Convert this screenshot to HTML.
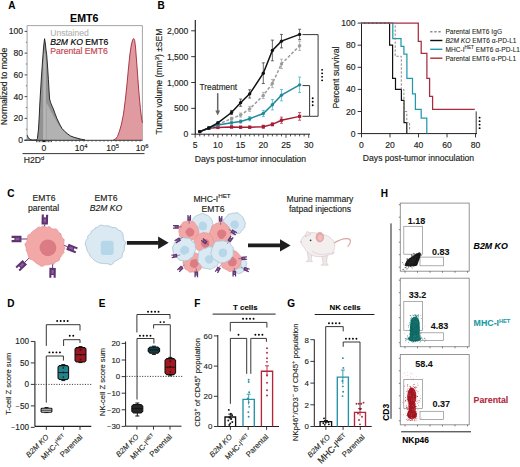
<!DOCTYPE html>
<html><head><meta charset="utf-8"><style>
html,body{margin:0;padding:0;background:#fff;}
svg{display:block;}
text{font-family:"Liberation Sans",sans-serif;}
</style></head><body>
<svg width="520" height="467" viewBox="0 0 520 467">
<rect width="520" height="467" fill="#fff"/>
<text x="8.20" y="9.00" font-size="10" text-anchor="start" fill="#000" stroke="#000" stroke-width="0.08" font-weight="bold" font-style="normal">A</text>
<text x="157.60" y="9.00" font-size="10" text-anchor="start" fill="#000" stroke="#000" stroke-width="0.08" font-weight="bold" font-style="normal">B</text>
<text x="7.30" y="197.00" font-size="10" text-anchor="start" fill="#000" stroke="#000" stroke-width="0.08" font-weight="bold" font-style="normal">C</text>
<text x="7.20" y="306.60" font-size="10" text-anchor="start" fill="#000" stroke="#000" stroke-width="0.08" font-weight="bold" font-style="normal">D</text>
<text x="98.80" y="306.60" font-size="10" text-anchor="start" fill="#000" stroke="#000" stroke-width="0.08" font-weight="bold" font-style="normal">E</text>
<text x="194.30" y="306.60" font-size="10" text-anchor="start" fill="#000" stroke="#000" stroke-width="0.08" font-weight="bold" font-style="normal">F</text>
<text x="287.30" y="307.30" font-size="10" text-anchor="start" fill="#000" stroke="#000" stroke-width="0.08" font-weight="bold" font-style="normal">G</text>
<text x="380.80" y="197.20" font-size="10" text-anchor="start" fill="#000" stroke="#000" stroke-width="0.08" font-weight="bold" font-style="normal">H</text>
<text x="84.20" y="22.30" font-size="10.6" text-anchor="middle" fill="#000" stroke="#000" stroke-width="0.08" font-weight="bold" font-style="normal">EMT6</text>
<polyline points="27.10,140.30 27.10,25.60 142.40,25.60 142.40,140.30" stroke="#9a9a9a" stroke-width="0.9" fill="none"/>
<line x1="24.60" y1="140.10" x2="27.10" y2="140.10" stroke="#231f20" stroke-width="0.8"/>
<text x="23.00" y="143.10" font-size="8.6" text-anchor="end" fill="#231f20" stroke="#231f20" stroke-width="0.152" font-weight="normal" font-style="normal">0</text>
<line x1="24.60" y1="118.36" x2="27.10" y2="118.36" stroke="#231f20" stroke-width="0.8"/>
<text x="23.00" y="121.36" font-size="8.6" text-anchor="end" fill="#231f20" stroke="#231f20" stroke-width="0.152" font-weight="normal" font-style="normal">20</text>
<line x1="24.60" y1="96.62" x2="27.10" y2="96.62" stroke="#231f20" stroke-width="0.8"/>
<text x="23.00" y="99.62" font-size="8.6" text-anchor="end" fill="#231f20" stroke="#231f20" stroke-width="0.152" font-weight="normal" font-style="normal">40</text>
<line x1="24.60" y1="74.88" x2="27.10" y2="74.88" stroke="#231f20" stroke-width="0.8"/>
<text x="23.00" y="77.88" font-size="8.6" text-anchor="end" fill="#231f20" stroke="#231f20" stroke-width="0.152" font-weight="normal" font-style="normal">60</text>
<line x1="24.60" y1="53.14" x2="27.10" y2="53.14" stroke="#231f20" stroke-width="0.8"/>
<text x="23.00" y="56.14" font-size="8.6" text-anchor="end" fill="#231f20" stroke="#231f20" stroke-width="0.152" font-weight="normal" font-style="normal">80</text>
<line x1="24.60" y1="31.40" x2="27.10" y2="31.40" stroke="#231f20" stroke-width="0.8"/>
<text x="23.00" y="34.40" font-size="8.6" text-anchor="end" fill="#231f20" stroke="#231f20" stroke-width="0.152" font-weight="normal" font-style="normal">100</text>
<line x1="25.80" y1="129.23" x2="27.10" y2="129.23" stroke="#231f20" stroke-width="0.5"/>
<line x1="25.80" y1="107.49" x2="27.10" y2="107.49" stroke="#231f20" stroke-width="0.5"/>
<line x1="25.80" y1="85.75" x2="27.10" y2="85.75" stroke="#231f20" stroke-width="0.5"/>
<line x1="25.80" y1="64.01" x2="27.10" y2="64.01" stroke="#231f20" stroke-width="0.5"/>
<line x1="25.80" y1="42.27" x2="27.10" y2="42.27" stroke="#231f20" stroke-width="0.5"/>
<text x="7.40" y="86.40" font-size="8.2" text-anchor="middle" fill="#231f20" stroke="#231f20" stroke-width="0.13679999999999998" font-weight="normal" font-style="normal" transform="rotate(-90 7.4 86.4)" textLength="77.5" lengthAdjust="spacingAndGlyphs">Normalized to mode</text>
<path d="M27.10,140.30 L27.10,135.20 L28.30,137.60 L29.80,139.30 L32.00,140.00 L36.50,139.90 L37.40,138.60 L38.50,129.00 L39.30,115.00 L39.80,104.00 L40.50,92.00 L41.30,79.00 L42.20,66.00 L43.00,54.60 L43.80,45.00 L44.60,38.70 L45.40,44.00 L46.00,50.00 L46.70,54.60 L47.60,67.00 L48.40,79.30 L49.00,90.00 L49.60,99.00 L50.60,102.50 L52.00,106.00 L53.30,108.80 L55.00,113.50 L57.00,118.70 L59.50,124.00 L62.00,128.50 L64.50,131.20 L67.50,133.80 L70.60,136.00 L74.00,137.30 L78.00,138.40 L81.50,139.30 L85.00,139.90 L85.00,140.30 Z" fill="#939393" stroke="none"/>
<path d="M46.40,140.30 L46.40,140.20 L46.40,103.00 L47.50,104.50 L49.00,107.50 L51.00,111.50 L53.50,116.00 L56.00,120.50 L58.50,124.50 L61.50,128.80 L65.00,132.40 L69.00,135.30 L73.00,137.40 L77.00,139.00 L80.00,140.20 L80.00,140.30 Z" fill="#b2b2b2" stroke="none"/>
<path d="M43.2,140.2 L43.4,62 L44.6,50 L45.8,60 L45.8,140.2 Z" fill="#c2c2c2" opacity="0.8"/>
<polyline points="27.10,135.20 28.30,137.60 29.80,139.30 32.00,140.00 36.50,139.90 37.40,138.60 38.50,129.00 39.30,115.00 39.80,104.00 40.50,92.00 41.30,79.00 42.20,66.00 43.00,54.60 43.80,45.00 44.60,38.70 45.40,44.00 46.00,50.00 46.70,54.60 47.60,67.00 48.40,79.30 49.00,90.00 49.60,99.00 50.60,102.50 52.00,106.00 53.30,108.80 55.00,113.50 57.00,118.70 59.50,124.00 62.00,128.50 64.50,131.20 67.50,133.80 70.60,136.00 74.00,137.30 78.00,138.40 81.50,139.30 85.00,139.90" stroke="#1a1a1a" stroke-width="0.9" fill="none"/>
<path d="M113.20,140.30 L113.20,140.20 L115.50,139.00 L117.50,136.50 L119.50,131.00 L121.50,124.00 L123.50,114.00 L125.30,100.00 L126.80,86.00 L128.30,70.00 L129.80,55.00 L131.30,45.00 L132.60,40.00 L133.70,38.50 L134.70,40.50 L135.60,48.00 L136.50,60.00 L137.40,72.00 L138.40,86.00 L139.40,98.00 L140.40,108.50 L141.40,117.00 L142.40,123.00 L142.40,140.30 Z" fill="#e09ba0" stroke="none"/>
<polyline points="113.20,140.20 115.50,139.00 117.50,136.50 119.50,131.00 121.50,124.00 123.50,114.00 125.30,100.00 126.80,86.00 128.30,70.00 129.80,55.00 131.30,45.00 132.60,40.00 133.70,38.50 134.70,40.50 135.60,48.00 136.50,60.00 137.40,72.00 138.40,86.00 139.40,98.00 140.40,108.50 141.40,117.00 142.40,123.00" stroke="#a3283a" stroke-width="0.9" fill="none"/>
<line x1="24.20" y1="140.30" x2="142.40" y2="140.30" stroke="#231f20" stroke-width="0.9"/>
<line x1="36.50" y1="140.30" x2="36.50" y2="142.20" stroke="#231f20" stroke-width="0.7"/>
<line x1="38.00" y1="140.30" x2="38.00" y2="142.20" stroke="#231f20" stroke-width="0.7"/>
<line x1="39.50" y1="140.30" x2="39.50" y2="142.20" stroke="#231f20" stroke-width="0.7"/>
<line x1="41.00" y1="140.30" x2="41.00" y2="142.20" stroke="#231f20" stroke-width="0.7"/>
<line x1="42.50" y1="140.30" x2="42.50" y2="142.20" stroke="#231f20" stroke-width="0.7"/>
<line x1="45.50" y1="140.30" x2="45.50" y2="142.20" stroke="#231f20" stroke-width="0.7"/>
<line x1="47.00" y1="140.30" x2="47.00" y2="142.20" stroke="#231f20" stroke-width="0.7"/>
<line x1="48.50" y1="140.30" x2="48.50" y2="142.20" stroke="#231f20" stroke-width="0.7"/>
<line x1="50.00" y1="140.30" x2="50.00" y2="142.20" stroke="#231f20" stroke-width="0.7"/>
<line x1="51.50" y1="140.30" x2="51.50" y2="142.20" stroke="#231f20" stroke-width="0.7"/>
<line x1="56.00" y1="140.30" x2="56.00" y2="141.80" stroke="#231f20" stroke-width="0.5"/>
<line x1="60.00" y1="140.30" x2="60.00" y2="141.80" stroke="#231f20" stroke-width="0.5"/>
<line x1="64.00" y1="140.30" x2="64.00" y2="141.80" stroke="#231f20" stroke-width="0.5"/>
<line x1="68.00" y1="140.30" x2="68.00" y2="141.80" stroke="#231f20" stroke-width="0.5"/>
<line x1="72.00" y1="140.30" x2="72.00" y2="141.80" stroke="#231f20" stroke-width="0.5"/>
<line x1="76.00" y1="140.30" x2="76.00" y2="141.80" stroke="#231f20" stroke-width="0.5"/>
<line x1="79.50" y1="140.30" x2="79.50" y2="141.80" stroke="#231f20" stroke-width="0.5"/>
<line x1="84.00" y1="140.30" x2="84.00" y2="141.80" stroke="#231f20" stroke-width="0.5"/>
<line x1="88.00" y1="140.30" x2="88.00" y2="141.80" stroke="#231f20" stroke-width="0.5"/>
<line x1="92.00" y1="140.30" x2="92.00" y2="141.80" stroke="#231f20" stroke-width="0.5"/>
<line x1="96.00" y1="140.30" x2="96.00" y2="141.80" stroke="#231f20" stroke-width="0.5"/>
<line x1="100.00" y1="140.30" x2="100.00" y2="141.80" stroke="#231f20" stroke-width="0.5"/>
<line x1="104.00" y1="140.30" x2="104.00" y2="141.80" stroke="#231f20" stroke-width="0.5"/>
<line x1="108.00" y1="140.30" x2="108.00" y2="141.80" stroke="#231f20" stroke-width="0.5"/>
<line x1="111.50" y1="140.30" x2="111.50" y2="141.80" stroke="#231f20" stroke-width="0.5"/>
<line x1="116.00" y1="140.30" x2="116.00" y2="141.80" stroke="#231f20" stroke-width="0.5"/>
<line x1="120.00" y1="140.30" x2="120.00" y2="141.80" stroke="#231f20" stroke-width="0.5"/>
<line x1="124.00" y1="140.30" x2="124.00" y2="141.80" stroke="#231f20" stroke-width="0.5"/>
<line x1="128.00" y1="140.30" x2="128.00" y2="141.80" stroke="#231f20" stroke-width="0.5"/>
<line x1="132.00" y1="140.30" x2="132.00" y2="141.80" stroke="#231f20" stroke-width="0.5"/>
<line x1="136.00" y1="140.30" x2="136.00" y2="141.80" stroke="#231f20" stroke-width="0.5"/>
<line x1="140.00" y1="140.30" x2="140.00" y2="141.80" stroke="#231f20" stroke-width="0.5"/>
<circle cx="44.00" cy="141.30" r="1.00" fill="#000" stroke="none" stroke-width="0.5"/>
<text x="44.00" y="151.30" font-size="8.6" text-anchor="middle" fill="#231f20" stroke="#231f20" stroke-width="0.152" font-weight="normal" font-style="normal">0</text>
<text x="74.80" y="151.30" font-size="8.6" text-anchor="start" fill="#231f20" stroke="#231f20" stroke-width="0.152" font-weight="normal" font-style="normal">10<tspan font-size="5.8" dy="-3.3">4</tspan></text>
<text x="106.30" y="151.30" font-size="8.6" text-anchor="start" fill="#231f20" stroke="#231f20" stroke-width="0.152" font-weight="normal" font-style="normal">10<tspan font-size="5.8" dy="-3.3">5</tspan></text>
<text x="135.70" y="151.30" font-size="8.6" text-anchor="start" fill="#231f20" stroke="#231f20" stroke-width="0.152" font-weight="normal" font-style="normal">10<tspan font-size="5.8" dy="-3.3">6</tspan></text>
<line x1="22.50" y1="153.60" x2="144.50" y2="153.60" stroke="#231f20" stroke-width="0.9"/>
<text x="23.80" y="163.20" font-size="8.6" text-anchor="start" fill="#231f20" stroke="#231f20" stroke-width="0.152" font-weight="normal" font-style="normal">H2D<tspan font-size="5.7" dy="-3.2">d</tspan></text>
<text x="50.20" y="36.10" font-size="8.4" text-anchor="start" fill="#b5b5b5" stroke="#b5b5b5" stroke-width="0.14440000000000003" font-weight="normal" font-style="normal" textLength="38.6" lengthAdjust="spacingAndGlyphs">Unstained</text>
<text x="50.20" y="45.10" font-size="8.4" text-anchor="start" fill="#000" stroke="#000" stroke-width="0.14440000000000003" font-weight="normal" font-style="normal" textLength="58.2" lengthAdjust="spacingAndGlyphs"><tspan font-style="italic">B2M KO</tspan> EMT6</text>
<text x="50.20" y="53.60" font-size="8.4" text-anchor="start" fill="#c4424f" stroke="#c4424f" stroke-width="0.14440000000000003" font-weight="normal" font-style="normal" textLength="57.6" lengthAdjust="spacingAndGlyphs">Parental EMT6</text>
<line x1="195.30" y1="20.10" x2="195.30" y2="134.20" stroke="#231f20" stroke-width="1.15"/>
<line x1="195.20" y1="134.20" x2="310.00" y2="134.20" stroke="#231f20" stroke-width="1.0"/>
<line x1="191.20" y1="134.20" x2="195.20" y2="134.20" stroke="#231f20" stroke-width="0.9"/>
<text x="188.40" y="137.20" font-size="8.6" text-anchor="end" fill="#231f20" stroke="#231f20" stroke-width="0.152" font-weight="normal" font-style="normal">0</text>
<line x1="191.20" y1="108.35" x2="195.20" y2="108.35" stroke="#231f20" stroke-width="0.9"/>
<text x="188.40" y="111.35" font-size="8.6" text-anchor="end" fill="#231f20" stroke="#231f20" stroke-width="0.152" font-weight="normal" font-style="normal">500</text>
<line x1="191.20" y1="82.50" x2="195.20" y2="82.50" stroke="#231f20" stroke-width="0.9"/>
<text x="188.40" y="85.50" font-size="8.6" text-anchor="end" fill="#231f20" stroke="#231f20" stroke-width="0.152" font-weight="normal" font-style="normal">1,000</text>
<line x1="191.20" y1="56.65" x2="195.20" y2="56.65" stroke="#231f20" stroke-width="0.9"/>
<text x="188.40" y="59.65" font-size="8.6" text-anchor="end" fill="#231f20" stroke="#231f20" stroke-width="0.152" font-weight="normal" font-style="normal">1,500</text>
<line x1="191.20" y1="30.80" x2="195.20" y2="30.80" stroke="#231f20" stroke-width="0.9"/>
<text x="188.40" y="33.80" font-size="8.6" text-anchor="end" fill="#231f20" stroke="#231f20" stroke-width="0.152" font-weight="normal" font-style="normal">2,000</text>
<line x1="195.20" y1="134.20" x2="195.20" y2="137.80" stroke="#231f20" stroke-width="0.8"/>
<text x="195.20" y="148.00" font-size="8.6" text-anchor="middle" fill="#231f20" stroke="#231f20" stroke-width="0.152" font-weight="normal" font-style="normal">5</text>
<line x1="199.74" y1="134.20" x2="199.74" y2="136.40" stroke="#231f20" stroke-width="0.8"/>
<line x1="204.28" y1="134.20" x2="204.28" y2="136.40" stroke="#231f20" stroke-width="0.8"/>
<line x1="208.82" y1="134.20" x2="208.82" y2="136.40" stroke="#231f20" stroke-width="0.8"/>
<line x1="213.36" y1="134.20" x2="213.36" y2="136.40" stroke="#231f20" stroke-width="0.8"/>
<line x1="217.90" y1="134.20" x2="217.90" y2="137.80" stroke="#231f20" stroke-width="0.8"/>
<text x="217.90" y="148.00" font-size="8.6" text-anchor="middle" fill="#231f20" stroke="#231f20" stroke-width="0.152" font-weight="normal" font-style="normal">10</text>
<line x1="222.44" y1="134.20" x2="222.44" y2="136.40" stroke="#231f20" stroke-width="0.8"/>
<line x1="226.98" y1="134.20" x2="226.98" y2="136.40" stroke="#231f20" stroke-width="0.8"/>
<line x1="231.52" y1="134.20" x2="231.52" y2="136.40" stroke="#231f20" stroke-width="0.8"/>
<line x1="236.06" y1="134.20" x2="236.06" y2="136.40" stroke="#231f20" stroke-width="0.8"/>
<line x1="240.60" y1="134.20" x2="240.60" y2="137.80" stroke="#231f20" stroke-width="0.8"/>
<text x="240.60" y="148.00" font-size="8.6" text-anchor="middle" fill="#231f20" stroke="#231f20" stroke-width="0.152" font-weight="normal" font-style="normal">15</text>
<line x1="245.14" y1="134.20" x2="245.14" y2="136.40" stroke="#231f20" stroke-width="0.8"/>
<line x1="249.68" y1="134.20" x2="249.68" y2="136.40" stroke="#231f20" stroke-width="0.8"/>
<line x1="254.22" y1="134.20" x2="254.22" y2="136.40" stroke="#231f20" stroke-width="0.8"/>
<line x1="258.76" y1="134.20" x2="258.76" y2="136.40" stroke="#231f20" stroke-width="0.8"/>
<line x1="263.30" y1="134.20" x2="263.30" y2="137.80" stroke="#231f20" stroke-width="0.8"/>
<text x="263.30" y="148.00" font-size="8.6" text-anchor="middle" fill="#231f20" stroke="#231f20" stroke-width="0.152" font-weight="normal" font-style="normal">20</text>
<line x1="267.84" y1="134.20" x2="267.84" y2="136.40" stroke="#231f20" stroke-width="0.8"/>
<line x1="272.38" y1="134.20" x2="272.38" y2="136.40" stroke="#231f20" stroke-width="0.8"/>
<line x1="276.92" y1="134.20" x2="276.92" y2="136.40" stroke="#231f20" stroke-width="0.8"/>
<line x1="281.46" y1="134.20" x2="281.46" y2="136.40" stroke="#231f20" stroke-width="0.8"/>
<line x1="286.00" y1="134.20" x2="286.00" y2="137.80" stroke="#231f20" stroke-width="0.8"/>
<text x="286.00" y="148.00" font-size="8.6" text-anchor="middle" fill="#231f20" stroke="#231f20" stroke-width="0.152" font-weight="normal" font-style="normal">25</text>
<line x1="290.54" y1="134.20" x2="290.54" y2="136.40" stroke="#231f20" stroke-width="0.8"/>
<line x1="295.08" y1="134.20" x2="295.08" y2="136.40" stroke="#231f20" stroke-width="0.8"/>
<line x1="299.62" y1="134.20" x2="299.62" y2="136.40" stroke="#231f20" stroke-width="0.8"/>
<line x1="304.16" y1="134.20" x2="304.16" y2="136.40" stroke="#231f20" stroke-width="0.8"/>
<line x1="308.70" y1="134.20" x2="308.70" y2="137.80" stroke="#231f20" stroke-width="0.8"/>
<text x="308.70" y="148.00" font-size="8.6" text-anchor="middle" fill="#231f20" stroke="#231f20" stroke-width="0.152" font-weight="normal" font-style="normal">30</text>
<text x="250.50" y="161.60" font-size="8.6" text-anchor="middle" fill="#231f20" stroke="#231f20" stroke-width="0.152" font-weight="normal" font-style="normal">Days post-tumor innoculation</text>
<text x="162.00" y="81.50" font-size="8.6" text-anchor="middle" fill="#231f20" stroke="#231f20" stroke-width="0.152" font-weight="normal" font-style="normal" transform="rotate(-90 162.0 81.5) translate(162.0 81.5) scale(1.0 1) translate(-162.0 -81.5)">Tumor volume (mm<tspan font-size="5.8" dy="-3.2">3</tspan><tspan dy="3.2">) ±SEM</tspan></text>
<text x="199.60" y="89.90" font-size="8.3" text-anchor="start" fill="#231f20" stroke="#231f20" stroke-width="0.14060000000000003" font-weight="normal" font-style="normal">Treatment</text>
<line x1="217.70" y1="93.20" x2="217.70" y2="112.00" stroke="#666" stroke-width="1.5"/>
<path d="M215.3,110.6 L220.1,110.6 L217.7,115.4 Z" fill="#666"/>
<line x1="199.74" y1="131.10" x2="199.74" y2="132.13" stroke="#a8a8a8" stroke-width="0.8"/>
<line x1="198.24" y1="131.10" x2="201.24" y2="131.10" stroke="#a8a8a8" stroke-width="0.8"/>
<line x1="198.24" y1="132.13" x2="201.24" y2="132.13" stroke="#a8a8a8" stroke-width="0.8"/>
<line x1="208.82" y1="127.22" x2="208.82" y2="128.77" stroke="#a8a8a8" stroke-width="0.8"/>
<line x1="207.32" y1="127.22" x2="210.32" y2="127.22" stroke="#a8a8a8" stroke-width="0.8"/>
<line x1="207.32" y1="128.77" x2="210.32" y2="128.77" stroke="#a8a8a8" stroke-width="0.8"/>
<line x1="217.90" y1="123.34" x2="217.90" y2="125.41" stroke="#a8a8a8" stroke-width="0.8"/>
<line x1="216.40" y1="123.34" x2="219.40" y2="123.34" stroke="#a8a8a8" stroke-width="0.8"/>
<line x1="216.40" y1="125.41" x2="219.40" y2="125.41" stroke="#a8a8a8" stroke-width="0.8"/>
<line x1="231.52" y1="117.14" x2="231.52" y2="120.24" stroke="#a8a8a8" stroke-width="0.8"/>
<line x1="230.02" y1="117.14" x2="233.02" y2="117.14" stroke="#a8a8a8" stroke-width="0.8"/>
<line x1="230.02" y1="120.24" x2="233.02" y2="120.24" stroke="#a8a8a8" stroke-width="0.8"/>
<line x1="240.60" y1="113.00" x2="240.60" y2="117.14" stroke="#a8a8a8" stroke-width="0.8"/>
<line x1="239.10" y1="113.00" x2="242.10" y2="113.00" stroke="#a8a8a8" stroke-width="0.8"/>
<line x1="239.10" y1="117.14" x2="242.10" y2="117.14" stroke="#a8a8a8" stroke-width="0.8"/>
<line x1="249.68" y1="106.28" x2="249.68" y2="111.45" stroke="#a8a8a8" stroke-width="0.8"/>
<line x1="248.18" y1="106.28" x2="251.18" y2="106.28" stroke="#a8a8a8" stroke-width="0.8"/>
<line x1="248.18" y1="111.45" x2="251.18" y2="111.45" stroke="#a8a8a8" stroke-width="0.8"/>
<line x1="263.30" y1="92.32" x2="263.30" y2="98.53" stroke="#a8a8a8" stroke-width="0.8"/>
<line x1="261.80" y1="92.32" x2="264.80" y2="92.32" stroke="#a8a8a8" stroke-width="0.8"/>
<line x1="261.80" y1="98.53" x2="264.80" y2="98.53" stroke="#a8a8a8" stroke-width="0.8"/>
<line x1="272.38" y1="79.40" x2="272.38" y2="87.67" stroke="#a8a8a8" stroke-width="0.8"/>
<line x1="270.88" y1="79.40" x2="273.88" y2="79.40" stroke="#a8a8a8" stroke-width="0.8"/>
<line x1="270.88" y1="87.67" x2="273.88" y2="87.67" stroke="#a8a8a8" stroke-width="0.8"/>
<line x1="281.46" y1="59.23" x2="281.46" y2="68.54" stroke="#a8a8a8" stroke-width="0.8"/>
<line x1="279.96" y1="59.23" x2="282.96" y2="59.23" stroke="#a8a8a8" stroke-width="0.8"/>
<line x1="279.96" y1="68.54" x2="282.96" y2="68.54" stroke="#a8a8a8" stroke-width="0.8"/>
<line x1="299.62" y1="41.14" x2="299.62" y2="50.45" stroke="#a8a8a8" stroke-width="0.8"/>
<line x1="298.12" y1="41.14" x2="301.12" y2="41.14" stroke="#a8a8a8" stroke-width="0.8"/>
<line x1="298.12" y1="50.45" x2="301.12" y2="50.45" stroke="#a8a8a8" stroke-width="0.8"/>
<polyline points="199.74,131.61 208.82,128.00 217.90,124.38 231.52,118.69 240.60,115.07 249.68,108.87 263.30,95.42 272.38,83.53 281.46,63.89 299.62,45.79" stroke="#9c9c9c" stroke-width="1.5" fill="none" stroke-dasharray="3,1.8"/>
<circle cx="199.74" cy="131.61" r="1.70" fill="#9c9c9c" stroke="none" stroke-width="0.5"/>
<circle cx="208.82" cy="128.00" r="1.70" fill="#9c9c9c" stroke="none" stroke-width="0.5"/>
<circle cx="217.90" cy="124.38" r="1.70" fill="#9c9c9c" stroke="none" stroke-width="0.5"/>
<circle cx="231.52" cy="118.69" r="1.70" fill="#9c9c9c" stroke="none" stroke-width="0.5"/>
<circle cx="240.60" cy="115.07" r="1.70" fill="#9c9c9c" stroke="none" stroke-width="0.5"/>
<circle cx="249.68" cy="108.87" r="1.70" fill="#9c9c9c" stroke="none" stroke-width="0.5"/>
<circle cx="263.30" cy="95.42" r="1.70" fill="#9c9c9c" stroke="none" stroke-width="0.5"/>
<circle cx="272.38" cy="83.53" r="1.70" fill="#9c9c9c" stroke="none" stroke-width="0.5"/>
<circle cx="281.46" cy="63.89" r="1.70" fill="#9c9c9c" stroke="none" stroke-width="0.5"/>
<circle cx="299.62" cy="45.79" r="1.70" fill="#9c9c9c" stroke="none" stroke-width="0.5"/>
<line x1="199.74" y1="131.10" x2="199.74" y2="132.13" stroke="#c0364d" stroke-width="0.8"/>
<line x1="198.24" y1="131.10" x2="201.24" y2="131.10" stroke="#c0364d" stroke-width="0.8"/>
<line x1="198.24" y1="132.13" x2="201.24" y2="132.13" stroke="#c0364d" stroke-width="0.8"/>
<line x1="208.82" y1="127.48" x2="208.82" y2="129.03" stroke="#c0364d" stroke-width="0.8"/>
<line x1="207.32" y1="127.48" x2="210.32" y2="127.48" stroke="#c0364d" stroke-width="0.8"/>
<line x1="207.32" y1="129.03" x2="210.32" y2="129.03" stroke="#c0364d" stroke-width="0.8"/>
<line x1="217.90" y1="126.70" x2="217.90" y2="128.25" stroke="#c0364d" stroke-width="0.8"/>
<line x1="216.40" y1="126.70" x2="219.40" y2="126.70" stroke="#c0364d" stroke-width="0.8"/>
<line x1="216.40" y1="128.25" x2="219.40" y2="128.25" stroke="#c0364d" stroke-width="0.8"/>
<line x1="231.52" y1="125.93" x2="231.52" y2="128.00" stroke="#c0364d" stroke-width="0.8"/>
<line x1="230.02" y1="125.93" x2="233.02" y2="125.93" stroke="#c0364d" stroke-width="0.8"/>
<line x1="230.02" y1="128.00" x2="233.02" y2="128.00" stroke="#c0364d" stroke-width="0.8"/>
<line x1="240.60" y1="126.19" x2="240.60" y2="128.25" stroke="#c0364d" stroke-width="0.8"/>
<line x1="239.10" y1="126.19" x2="242.10" y2="126.19" stroke="#c0364d" stroke-width="0.8"/>
<line x1="239.10" y1="128.25" x2="242.10" y2="128.25" stroke="#c0364d" stroke-width="0.8"/>
<line x1="249.68" y1="126.19" x2="249.68" y2="128.25" stroke="#c0364d" stroke-width="0.8"/>
<line x1="248.18" y1="126.19" x2="251.18" y2="126.19" stroke="#c0364d" stroke-width="0.8"/>
<line x1="248.18" y1="128.25" x2="251.18" y2="128.25" stroke="#c0364d" stroke-width="0.8"/>
<line x1="263.30" y1="125.15" x2="263.30" y2="128.25" stroke="#c0364d" stroke-width="0.8"/>
<line x1="261.80" y1="125.15" x2="264.80" y2="125.15" stroke="#c0364d" stroke-width="0.8"/>
<line x1="261.80" y1="128.25" x2="264.80" y2="128.25" stroke="#c0364d" stroke-width="0.8"/>
<line x1="272.38" y1="122.83" x2="272.38" y2="125.93" stroke="#c0364d" stroke-width="0.8"/>
<line x1="270.88" y1="122.83" x2="273.88" y2="122.83" stroke="#c0364d" stroke-width="0.8"/>
<line x1="270.88" y1="125.93" x2="273.88" y2="125.93" stroke="#c0364d" stroke-width="0.8"/>
<line x1="281.46" y1="117.14" x2="281.46" y2="123.34" stroke="#c0364d" stroke-width="0.8"/>
<line x1="279.96" y1="117.14" x2="282.96" y2="117.14" stroke="#c0364d" stroke-width="0.8"/>
<line x1="279.96" y1="123.34" x2="282.96" y2="123.34" stroke="#c0364d" stroke-width="0.8"/>
<line x1="299.62" y1="112.49" x2="299.62" y2="120.24" stroke="#c0364d" stroke-width="0.8"/>
<line x1="298.12" y1="112.49" x2="301.12" y2="112.49" stroke="#c0364d" stroke-width="0.8"/>
<line x1="298.12" y1="120.24" x2="301.12" y2="120.24" stroke="#c0364d" stroke-width="0.8"/>
<polyline points="199.74,131.61 208.82,128.25 217.90,127.48 231.52,126.96 240.60,127.22 249.68,127.22 263.30,126.70 272.38,124.38 281.46,120.24 299.62,116.36" stroke="#a51c35" stroke-width="1.5" fill="none"/>
<rect x="198.14" y="130.01" width="3.20" height="3.20" fill="#a51c35" stroke="none" stroke-width="0.8"/>
<rect x="207.22" y="126.65" width="3.20" height="3.20" fill="#a51c35" stroke="none" stroke-width="0.8"/>
<rect x="216.30" y="125.88" width="3.20" height="3.20" fill="#a51c35" stroke="none" stroke-width="0.8"/>
<rect x="229.92" y="125.36" width="3.20" height="3.20" fill="#a51c35" stroke="none" stroke-width="0.8"/>
<rect x="239.00" y="125.62" width="3.20" height="3.20" fill="#a51c35" stroke="none" stroke-width="0.8"/>
<rect x="248.08" y="125.62" width="3.20" height="3.20" fill="#a51c35" stroke="none" stroke-width="0.8"/>
<rect x="261.70" y="125.10" width="3.20" height="3.20" fill="#a51c35" stroke="none" stroke-width="0.8"/>
<rect x="270.78" y="122.78" width="3.20" height="3.20" fill="#a51c35" stroke="none" stroke-width="0.8"/>
<rect x="279.86" y="118.64" width="3.20" height="3.20" fill="#a51c35" stroke="none" stroke-width="0.8"/>
<rect x="298.02" y="114.76" width="3.20" height="3.20" fill="#a51c35" stroke="none" stroke-width="0.8"/>
<line x1="199.74" y1="131.10" x2="199.74" y2="132.13" stroke="#45b6c6" stroke-width="0.8"/>
<line x1="198.24" y1="131.10" x2="201.24" y2="131.10" stroke="#45b6c6" stroke-width="0.8"/>
<line x1="198.24" y1="132.13" x2="201.24" y2="132.13" stroke="#45b6c6" stroke-width="0.8"/>
<line x1="208.82" y1="127.22" x2="208.82" y2="128.77" stroke="#45b6c6" stroke-width="0.8"/>
<line x1="207.32" y1="127.22" x2="210.32" y2="127.22" stroke="#45b6c6" stroke-width="0.8"/>
<line x1="207.32" y1="128.77" x2="210.32" y2="128.77" stroke="#45b6c6" stroke-width="0.8"/>
<line x1="217.90" y1="123.86" x2="217.90" y2="125.93" stroke="#45b6c6" stroke-width="0.8"/>
<line x1="216.40" y1="123.86" x2="219.40" y2="123.86" stroke="#45b6c6" stroke-width="0.8"/>
<line x1="216.40" y1="125.93" x2="219.40" y2="125.93" stroke="#45b6c6" stroke-width="0.8"/>
<line x1="231.52" y1="121.53" x2="231.52" y2="124.12" stroke="#45b6c6" stroke-width="0.8"/>
<line x1="230.02" y1="121.53" x2="233.02" y2="121.53" stroke="#45b6c6" stroke-width="0.8"/>
<line x1="230.02" y1="124.12" x2="233.02" y2="124.12" stroke="#45b6c6" stroke-width="0.8"/>
<line x1="240.60" y1="119.98" x2="240.60" y2="123.08" stroke="#45b6c6" stroke-width="0.8"/>
<line x1="239.10" y1="119.98" x2="242.10" y2="119.98" stroke="#45b6c6" stroke-width="0.8"/>
<line x1="239.10" y1="123.08" x2="242.10" y2="123.08" stroke="#45b6c6" stroke-width="0.8"/>
<line x1="249.68" y1="116.62" x2="249.68" y2="120.76" stroke="#45b6c6" stroke-width="0.8"/>
<line x1="248.18" y1="116.62" x2="251.18" y2="116.62" stroke="#45b6c6" stroke-width="0.8"/>
<line x1="248.18" y1="120.76" x2="251.18" y2="120.76" stroke="#45b6c6" stroke-width="0.8"/>
<line x1="263.30" y1="110.42" x2="263.30" y2="116.62" stroke="#45b6c6" stroke-width="0.8"/>
<line x1="261.80" y1="110.42" x2="264.80" y2="110.42" stroke="#45b6c6" stroke-width="0.8"/>
<line x1="261.80" y1="116.62" x2="264.80" y2="116.62" stroke="#45b6c6" stroke-width="0.8"/>
<line x1="272.38" y1="99.56" x2="272.38" y2="109.90" stroke="#45b6c6" stroke-width="0.8"/>
<line x1="270.88" y1="99.56" x2="273.88" y2="99.56" stroke="#45b6c6" stroke-width="0.8"/>
<line x1="270.88" y1="109.90" x2="273.88" y2="109.90" stroke="#45b6c6" stroke-width="0.8"/>
<line x1="281.46" y1="89.48" x2="281.46" y2="100.85" stroke="#45b6c6" stroke-width="0.8"/>
<line x1="279.96" y1="89.48" x2="282.96" y2="89.48" stroke="#45b6c6" stroke-width="0.8"/>
<line x1="279.96" y1="100.85" x2="282.96" y2="100.85" stroke="#45b6c6" stroke-width="0.8"/>
<line x1="299.62" y1="77.07" x2="299.62" y2="92.58" stroke="#45b6c6" stroke-width="0.8"/>
<line x1="298.12" y1="77.07" x2="301.12" y2="77.07" stroke="#45b6c6" stroke-width="0.8"/>
<line x1="298.12" y1="92.58" x2="301.12" y2="92.58" stroke="#45b6c6" stroke-width="0.8"/>
<polyline points="199.74,131.61 208.82,128.00 217.90,124.89 231.52,122.83 240.60,121.53 249.68,118.69 263.30,113.52 272.38,104.73 281.46,95.17 299.62,84.83" stroke="#1f8a9a" stroke-width="1.5" fill="none"/>
<circle cx="199.74" cy="131.61" r="1.70" fill="#1f8a9a" stroke="none" stroke-width="0.5"/>
<circle cx="208.82" cy="128.00" r="1.70" fill="#1f8a9a" stroke="none" stroke-width="0.5"/>
<circle cx="217.90" cy="124.89" r="1.70" fill="#1f8a9a" stroke="none" stroke-width="0.5"/>
<circle cx="231.52" cy="122.83" r="1.70" fill="#1f8a9a" stroke="none" stroke-width="0.5"/>
<circle cx="240.60" cy="121.53" r="1.70" fill="#1f8a9a" stroke="none" stroke-width="0.5"/>
<circle cx="249.68" cy="118.69" r="1.70" fill="#1f8a9a" stroke="none" stroke-width="0.5"/>
<circle cx="263.30" cy="113.52" r="1.70" fill="#1f8a9a" stroke="none" stroke-width="0.5"/>
<circle cx="272.38" cy="104.73" r="1.70" fill="#1f8a9a" stroke="none" stroke-width="0.5"/>
<circle cx="281.46" cy="95.17" r="1.70" fill="#1f8a9a" stroke="none" stroke-width="0.5"/>
<circle cx="299.62" cy="84.83" r="1.70" fill="#1f8a9a" stroke="none" stroke-width="0.5"/>
<line x1="199.74" y1="131.10" x2="199.74" y2="132.13" stroke="#444" stroke-width="0.8"/>
<line x1="198.24" y1="131.10" x2="201.24" y2="131.10" stroke="#444" stroke-width="0.8"/>
<line x1="198.24" y1="132.13" x2="201.24" y2="132.13" stroke="#444" stroke-width="0.8"/>
<line x1="208.82" y1="127.22" x2="208.82" y2="128.77" stroke="#444" stroke-width="0.8"/>
<line x1="207.32" y1="127.22" x2="210.32" y2="127.22" stroke="#444" stroke-width="0.8"/>
<line x1="207.32" y1="128.77" x2="210.32" y2="128.77" stroke="#444" stroke-width="0.8"/>
<line x1="217.90" y1="121.79" x2="217.90" y2="123.86" stroke="#444" stroke-width="0.8"/>
<line x1="216.40" y1="121.79" x2="219.40" y2="121.79" stroke="#444" stroke-width="0.8"/>
<line x1="216.40" y1="123.86" x2="219.40" y2="123.86" stroke="#444" stroke-width="0.8"/>
<line x1="231.52" y1="110.42" x2="231.52" y2="114.55" stroke="#444" stroke-width="0.8"/>
<line x1="230.02" y1="110.42" x2="233.02" y2="110.42" stroke="#444" stroke-width="0.8"/>
<line x1="230.02" y1="114.55" x2="233.02" y2="114.55" stroke="#444" stroke-width="0.8"/>
<line x1="240.60" y1="99.04" x2="240.60" y2="106.28" stroke="#444" stroke-width="0.8"/>
<line x1="239.10" y1="99.04" x2="242.10" y2="99.04" stroke="#444" stroke-width="0.8"/>
<line x1="239.10" y1="106.28" x2="242.10" y2="106.28" stroke="#444" stroke-width="0.8"/>
<line x1="249.68" y1="89.74" x2="249.68" y2="98.01" stroke="#444" stroke-width="0.8"/>
<line x1="248.18" y1="89.74" x2="251.18" y2="89.74" stroke="#444" stroke-width="0.8"/>
<line x1="248.18" y1="98.01" x2="251.18" y2="98.01" stroke="#444" stroke-width="0.8"/>
<line x1="263.30" y1="62.85" x2="263.30" y2="83.53" stroke="#444" stroke-width="0.8"/>
<line x1="261.80" y1="62.85" x2="264.80" y2="62.85" stroke="#444" stroke-width="0.8"/>
<line x1="261.80" y1="83.53" x2="264.80" y2="83.53" stroke="#444" stroke-width="0.8"/>
<line x1="272.38" y1="40.11" x2="272.38" y2="60.79" stroke="#444" stroke-width="0.8"/>
<line x1="270.88" y1="40.11" x2="273.88" y2="40.11" stroke="#444" stroke-width="0.8"/>
<line x1="270.88" y1="60.79" x2="273.88" y2="60.79" stroke="#444" stroke-width="0.8"/>
<line x1="281.46" y1="34.42" x2="281.46" y2="47.86" stroke="#444" stroke-width="0.8"/>
<line x1="279.96" y1="34.42" x2="282.96" y2="34.42" stroke="#444" stroke-width="0.8"/>
<line x1="279.96" y1="47.86" x2="282.96" y2="47.86" stroke="#444" stroke-width="0.8"/>
<line x1="299.62" y1="29.25" x2="299.62" y2="39.59" stroke="#444" stroke-width="0.8"/>
<line x1="298.12" y1="29.25" x2="301.12" y2="29.25" stroke="#444" stroke-width="0.8"/>
<line x1="298.12" y1="39.59" x2="301.12" y2="39.59" stroke="#444" stroke-width="0.8"/>
<polyline points="199.74,131.61 208.82,128.00 217.90,122.83 231.52,112.49 240.60,102.66 249.68,93.87 263.30,73.19 272.38,50.45 281.46,41.14 299.62,34.42" stroke="#111" stroke-width="1.5" fill="none"/>
<circle cx="199.74" cy="131.61" r="1.70" fill="#111" stroke="none" stroke-width="0.5"/>
<circle cx="208.82" cy="128.00" r="1.70" fill="#111" stroke="none" stroke-width="0.5"/>
<circle cx="217.90" cy="122.83" r="1.70" fill="#111" stroke="none" stroke-width="0.5"/>
<circle cx="231.52" cy="112.49" r="1.70" fill="#111" stroke="none" stroke-width="0.5"/>
<circle cx="240.60" cy="102.66" r="1.70" fill="#111" stroke="none" stroke-width="0.5"/>
<circle cx="249.68" cy="93.87" r="1.70" fill="#111" stroke="none" stroke-width="0.5"/>
<circle cx="263.30" cy="73.19" r="1.70" fill="#111" stroke="none" stroke-width="0.5"/>
<circle cx="272.38" cy="50.45" r="1.70" fill="#111" stroke="none" stroke-width="0.5"/>
<circle cx="281.46" cy="41.14" r="1.70" fill="#111" stroke="none" stroke-width="0.5"/>
<circle cx="299.62" cy="34.42" r="1.70" fill="#111" stroke="none" stroke-width="0.5"/>
<polyline points="302.50,34.60 318.10,34.60 318.10,116.30 310.00,116.30" stroke="#231f20" stroke-width="0.9" fill="none"/>
<polyline points="302.50,85.60 309.60,85.60 309.60,116.30 302.50,116.30" stroke="#231f20" stroke-width="0.9" fill="none"/>
<circle cx="322.10" cy="69.85" r="0.95" fill="#000" stroke="none" stroke-width="0.5"/>
<circle cx="322.10" cy="73.35" r="0.95" fill="#000" stroke="none" stroke-width="0.5"/>
<circle cx="322.10" cy="76.85" r="0.95" fill="#000" stroke="none" stroke-width="0.5"/>
<circle cx="322.10" cy="80.35" r="0.95" fill="#000" stroke="none" stroke-width="0.5"/>
<circle cx="312.70" cy="98.30" r="0.95" fill="#000" stroke="none" stroke-width="0.5"/>
<circle cx="312.70" cy="101.80" r="0.95" fill="#000" stroke="none" stroke-width="0.5"/>
<circle cx="312.70" cy="105.30" r="0.95" fill="#000" stroke="none" stroke-width="0.5"/>
<line x1="361.50" y1="22.50" x2="361.50" y2="133.60" stroke="#231f20" stroke-width="1.0"/>
<line x1="361.50" y1="133.60" x2="477.00" y2="133.60" stroke="#231f20" stroke-width="1.0"/>
<line x1="357.60" y1="133.60" x2="361.50" y2="133.60" stroke="#231f20" stroke-width="0.9"/>
<text x="355.60" y="136.60" font-size="8.6" text-anchor="end" fill="#231f20" stroke="#231f20" stroke-width="0.152" font-weight="normal" font-style="normal">0</text>
<line x1="357.60" y1="111.50" x2="361.50" y2="111.50" stroke="#231f20" stroke-width="0.9"/>
<text x="355.60" y="114.50" font-size="8.6" text-anchor="end" fill="#231f20" stroke="#231f20" stroke-width="0.152" font-weight="normal" font-style="normal">20</text>
<line x1="357.60" y1="89.40" x2="361.50" y2="89.40" stroke="#231f20" stroke-width="0.9"/>
<text x="355.60" y="92.40" font-size="8.6" text-anchor="end" fill="#231f20" stroke="#231f20" stroke-width="0.152" font-weight="normal" font-style="normal">40</text>
<line x1="357.60" y1="67.30" x2="361.50" y2="67.30" stroke="#231f20" stroke-width="0.9"/>
<text x="355.60" y="70.30" font-size="8.6" text-anchor="end" fill="#231f20" stroke="#231f20" stroke-width="0.152" font-weight="normal" font-style="normal">60</text>
<line x1="357.60" y1="45.20" x2="361.50" y2="45.20" stroke="#231f20" stroke-width="0.9"/>
<text x="355.60" y="48.20" font-size="8.6" text-anchor="end" fill="#231f20" stroke="#231f20" stroke-width="0.152" font-weight="normal" font-style="normal">80</text>
<line x1="357.60" y1="23.10" x2="361.50" y2="23.10" stroke="#231f20" stroke-width="0.9"/>
<text x="355.60" y="26.10" font-size="8.6" text-anchor="end" fill="#231f20" stroke="#231f20" stroke-width="0.152" font-weight="normal" font-style="normal">100</text>
<line x1="361.50" y1="133.60" x2="361.50" y2="137.40" stroke="#231f20" stroke-width="0.9"/>
<text x="361.50" y="148.00" font-size="8.6" text-anchor="middle" fill="#231f20" stroke="#231f20" stroke-width="0.152" font-weight="normal" font-style="normal">0</text>
<line x1="390.01" y1="133.60" x2="390.01" y2="137.40" stroke="#231f20" stroke-width="0.9"/>
<text x="390.01" y="148.00" font-size="8.6" text-anchor="middle" fill="#231f20" stroke="#231f20" stroke-width="0.152" font-weight="normal" font-style="normal">20</text>
<line x1="418.52" y1="133.60" x2="418.52" y2="137.40" stroke="#231f20" stroke-width="0.9"/>
<text x="418.52" y="148.00" font-size="8.6" text-anchor="middle" fill="#231f20" stroke="#231f20" stroke-width="0.152" font-weight="normal" font-style="normal">40</text>
<line x1="447.03" y1="133.60" x2="447.03" y2="137.40" stroke="#231f20" stroke-width="0.9"/>
<text x="447.03" y="148.00" font-size="8.6" text-anchor="middle" fill="#231f20" stroke="#231f20" stroke-width="0.152" font-weight="normal" font-style="normal">60</text>
<line x1="475.54" y1="133.60" x2="475.54" y2="137.40" stroke="#231f20" stroke-width="0.9"/>
<text x="475.54" y="148.00" font-size="8.6" text-anchor="middle" fill="#231f20" stroke="#231f20" stroke-width="0.152" font-weight="normal" font-style="normal">80</text>
<text x="418.50" y="161.00" font-size="8.6" text-anchor="middle" fill="#231f20" stroke="#231f20" stroke-width="0.152" font-weight="normal" font-style="normal">Days post-tumor innoculation</text>
<text x="338.60" y="77.50" font-size="9.0" text-anchor="middle" fill="#231f20" stroke="#231f20" stroke-width="0.16720000000000002" font-weight="normal" font-style="normal" transform="rotate(-90 338.6 77.5)" textLength="62" lengthAdjust="spacingAndGlyphs">Percent survival</text>
<polyline points="361.50,23.10 389.60,23.10 389.60,45.20 392.60,45.20 392.60,78.35 395.50,78.35 395.50,89.40 401.40,89.40 401.40,100.45 404.00,100.45 404.00,122.55 406.80,122.55 406.80,133.60" stroke="#111" stroke-width="1.2" fill="none"/>
<polyline points="361.50,23.10 392.80,23.10 392.80,38.57 401.00,38.57 401.00,46.30 403.90,46.30 403.90,54.04 406.90,54.04 406.90,78.35 412.50,78.35 412.50,93.82 415.40,93.82 415.40,109.29 421.20,109.29 421.20,118.13 426.80,118.13 426.80,133.60" stroke="#2399aa" stroke-width="1.25" fill="none"/>
<polyline points="361.50,23.10 418.30,23.10 418.30,41.33 421.20,41.33 421.20,53.27 426.90,53.27 426.90,78.35 429.60,78.35 429.60,96.47 432.60,96.47 432.60,109.29 474.80,109.29" stroke="#a82c40" stroke-width="1.25" fill="none"/>
<polyline points="361.50,23.10 395.20,23.10 395.20,56.25 401.30,56.25 401.30,89.40 403.90,89.40 403.90,111.50 406.80,111.50 406.80,122.55 409.60,122.55 409.60,131.39" stroke="#8a8a8a" stroke-width="1.0" fill="none" stroke-dasharray="2.4,1.6"/>
<line x1="476.20" y1="111.40" x2="476.20" y2="133.60" stroke="#231f20" stroke-width="0.9"/>
<circle cx="479.60" cy="117.65" r="0.95" fill="#000" stroke="none" stroke-width="0.5"/>
<circle cx="479.60" cy="121.15" r="0.95" fill="#000" stroke="none" stroke-width="0.5"/>
<circle cx="479.60" cy="124.65" r="0.95" fill="#000" stroke="none" stroke-width="0.5"/>
<circle cx="479.60" cy="128.15" r="0.95" fill="#000" stroke="none" stroke-width="0.5"/>
<line x1="430.20" y1="31.70" x2="442.40" y2="31.70" stroke="#8a8a8a" stroke-width="1.4" stroke-dasharray="2.3,1.8"/>
<text x="445.40" y="34.10" font-size="6.8" text-anchor="start" fill="#231f20" stroke="#231f20" stroke-width="0.08360000000000001" font-weight="normal" font-style="normal" transform="translate(445.4 34.1) scale(0.975 1) translate(-445.4 -34.1)">Parental EMT6 IgG</text>
<line x1="430.20" y1="40.50" x2="442.40" y2="40.50" stroke="#111" stroke-width="1.4"/>
<text x="445.40" y="42.90" font-size="6.8" text-anchor="start" fill="#231f20" stroke="#231f20" stroke-width="0.08360000000000001" font-weight="normal" font-style="normal" transform="translate(445.4 42.9) scale(0.975 1) translate(-445.4 -42.9)"><tspan font-style="italic">B2M KO</tspan> EMT6 α-PD-L1</text>
<line x1="430.20" y1="49.30" x2="442.40" y2="49.30" stroke="#2399aa" stroke-width="1.4"/>
<text x="445.40" y="51.70" font-size="6.8" text-anchor="start" fill="#231f20" stroke="#231f20" stroke-width="0.08360000000000001" font-weight="normal" font-style="normal" transform="translate(445.4 51.699999999999996) scale(0.975 1) translate(-445.4 -51.699999999999996)">MHC-I<tspan font-size="4.8" dy="-2.8">HET</tspan><tspan dy="2.8"> EMT6 α-PD-L1</tspan></text>
<line x1="430.20" y1="58.20" x2="442.40" y2="58.20" stroke="#a82c40" stroke-width="1.4"/>
<text x="445.40" y="60.60" font-size="6.8" text-anchor="start" fill="#231f20" stroke="#231f20" stroke-width="0.08360000000000001" font-weight="normal" font-style="normal" transform="translate(445.4 60.6) scale(0.975 1) translate(-445.4 -60.6)">Parental EMT6 α-PD-L1</text>
<text x="44.00" y="200.80" font-size="8.6" text-anchor="middle" fill="#231f20" stroke="#231f20" stroke-width="0.152" font-weight="normal" font-style="normal">EMT6</text>
<text x="43.60" y="211.40" font-size="8.6" text-anchor="middle" fill="#231f20" stroke="#231f20" stroke-width="0.152" font-weight="normal" font-style="normal">parental</text>
<text x="106.00" y="200.80" font-size="8.6" text-anchor="middle" fill="#231f20" stroke="#231f20" stroke-width="0.152" font-weight="normal" font-style="normal">EMT6</text>
<text x="106.00" y="211.40" font-size="8.6" text-anchor="middle" fill="#231f20" stroke="#231f20" stroke-width="0.152" font-weight="normal" font-style="italic">B2M KO</text>
<text x="212.00" y="201.60" font-size="8.6" text-anchor="middle" fill="#231f20" stroke="#231f20" stroke-width="0.152" font-weight="normal" font-style="normal">MHC-I<tspan font-size="6.2" dy="-3.4">HET</tspan></text>
<text x="213.00" y="211.90" font-size="8.6" text-anchor="middle" fill="#231f20" stroke="#231f20" stroke-width="0.152" font-weight="normal" font-style="normal">EMT6</text>
<text x="320.00" y="201.70" font-size="8.6" text-anchor="middle" fill="#231f20" stroke="#231f20" stroke-width="0.152" font-weight="normal" font-style="normal">Murine mammary</text>
<text x="320.00" y="211.90" font-size="8.6" text-anchor="middle" fill="#231f20" stroke="#231f20" stroke-width="0.152" font-weight="normal" font-style="normal">fatpad injections</text>
<line x1="44.50" y1="231.50" x2="44.70" y2="224.20" stroke="#5e3470" stroke-width="0.95"/>
<g transform="translate(44.70,224.20) rotate(1.6) scale(1.0)"><path d="M-3.2,-9.6 L-1.1,-9.6 L-1.1,-6.8 L1.1,-6.8 L1.1,-9.6 L3.2,-9.6 L3.2,0.3 L-3.2,0.3 Z" fill="#5e3470"/><rect x="-1.2" y="-5.6" width="2.4" height="3.8" fill="#8a5c9c"/></g>
<line x1="28.00" y1="239.00" x2="21.20" y2="239.00" stroke="#5e3470" stroke-width="0.95"/>
<g transform="translate(21.20,239.00) rotate(270.0) scale(1.0)"><path d="M-3.2,-9.6 L-1.1,-9.6 L-1.1,-6.8 L1.1,-6.8 L1.1,-9.6 L3.2,-9.6 L3.2,0.3 L-3.2,0.3 Z" fill="#5e3470"/><rect x="-1.2" y="-5.6" width="2.4" height="3.8" fill="#8a5c9c"/></g>
<line x1="59.50" y1="243.50" x2="67.70" y2="246.80" stroke="#5e3470" stroke-width="0.95"/>
<g transform="translate(67.70,246.80) rotate(111.9) scale(1.0)"><path d="M-3.2,-9.6 L-1.1,-9.6 L-1.1,-6.8 L1.1,-6.8 L1.1,-9.6 L3.2,-9.6 L3.2,0.3 L-3.2,0.3 Z" fill="#5e3470"/><rect x="-1.2" y="-5.6" width="2.4" height="3.8" fill="#8a5c9c"/></g>
<line x1="30.20" y1="257.00" x2="24.60" y2="262.40" stroke="#5e3470" stroke-width="0.95"/>
<g transform="translate(24.60,262.40) rotate(226.0) scale(1.0)"><path d="M-3.2,-9.6 L-1.1,-9.6 L-1.1,-6.8 L1.1,-6.8 L1.1,-9.6 L3.2,-9.6 L3.2,0.3 L-3.2,0.3 Z" fill="#5e3470"/><rect x="-1.2" y="-5.6" width="2.4" height="3.8" fill="#8a5c9c"/></g>
<line x1="52.70" y1="260.00" x2="52.60" y2="268.20" stroke="#5e3470" stroke-width="0.95"/>
<g transform="translate(52.60,268.20) rotate(180.7) scale(1.0)"><path d="M-3.2,-9.6 L-1.1,-9.6 L-1.1,-6.8 L1.1,-6.8 L1.1,-9.6 L3.2,-9.6 L3.2,0.3 L-3.2,0.3 Z" fill="#5e3470"/><rect x="-1.2" y="-5.6" width="2.4" height="3.8" fill="#8a5c9c"/></g>
<path d="M63.85,245.04 Q63.87,246.10 64.64,247.25 Q65.41,248.40 64.41,249.35 Q63.40,250.30 63.90,251.59 Q64.39,252.88 63.14,253.56 Q61.89,254.23 61.59,255.28 Q61.29,256.33 60.53,257.11 Q59.78,257.89 59.65,259.26 Q59.52,260.62 58.30,260.94 Q57.08,261.25 56.06,261.67 Q55.05,262.09 54.48,263.35 Q53.91,264.60 52.52,264.11 Q51.13,263.62 50.19,264.18 Q49.25,264.74 48.19,264.83 Q47.12,264.92 46.06,264.82 Q45.00,264.72 43.85,265.62 Q42.70,266.51 41.57,266.32 Q40.43,266.12 39.53,265.21 Q38.63,264.30 37.59,263.97 Q36.55,263.64 35.81,262.77 Q35.07,261.90 34.22,261.29 Q33.37,260.69 32.53,260.04 Q31.70,259.40 30.32,259.15 Q28.94,258.91 28.76,257.66 Q28.59,256.41 28.18,255.41 Q27.77,254.40 27.57,253.33 Q27.37,252.27 26.69,251.35 Q26.01,250.43 26.22,249.31 Q26.43,248.19 25.98,247.15 Q25.52,246.10 25.06,244.95 Q24.59,243.80 25.77,242.89 Q26.95,241.98 27.05,240.92 Q27.15,239.85 27.31,238.76 Q27.48,237.66 27.54,236.42 Q27.61,235.17 28.94,234.77 Q30.28,234.36 30.81,233.40 Q31.33,232.43 32.22,231.81 Q33.10,231.18 33.97,230.55 Q34.84,229.93 35.75,229.36 Q36.66,228.79 37.44,227.75 Q38.22,226.71 39.51,227.22 Q40.81,227.72 41.75,226.71 Q42.70,225.69 43.85,226.29 Q45.00,226.90 46.05,227.22 Q47.09,227.54 48.33,226.81 Q49.57,226.08 50.37,227.28 Q51.17,228.48 52.15,228.84 Q53.14,229.21 54.53,228.96 Q55.93,228.71 56.87,229.38 Q57.81,230.04 58.07,231.41 Q58.33,232.77 59.69,233.03 Q61.06,233.29 61.09,234.63 Q61.13,235.96 61.59,236.93 Q62.04,237.89 63.21,238.60 Q64.39,239.32 64.13,240.56 Q63.86,241.79 63.85,242.89 Q63.83,243.98 63.85,245.04 Z" fill="#f3a8a8" stroke="#e69396" stroke-width="0.8"/>
<path d="M55.85,245.22 Q56.69,247.80 55.86,250.39 Q55.02,252.97 52.80,254.52 Q50.59,256.07 47.91,256.04 Q45.23,256.00 43.11,254.41 Q40.99,252.82 40.07,250.31 Q39.15,247.80 40.01,245.25 Q40.87,242.69 43.03,241.07 Q45.19,239.45 47.88,239.51 Q50.58,239.56 52.79,241.10 Q55.01,242.64 55.85,245.22 Z" fill="#db7b83" stroke="none"/>
<path d="M125.40,243.85 Q124.60,245.00 124.43,246.04 Q124.26,247.08 124.45,248.19 Q124.63,249.30 124.28,250.32 Q123.92,251.34 123.21,252.19 Q122.49,253.04 122.40,254.21 Q122.31,255.37 122.08,256.59 Q121.86,257.81 120.60,258.18 Q119.35,258.55 118.53,259.25 Q117.72,259.95 116.72,260.37 Q115.72,260.79 114.77,261.23 Q113.83,261.67 113.21,263.03 Q112.58,264.39 111.48,264.71 Q110.37,265.02 109.13,264.29 Q107.89,263.56 106.85,263.65 Q105.80,263.74 104.76,263.57 Q103.73,263.40 102.65,263.44 Q101.58,263.49 100.56,263.18 Q99.54,262.88 98.47,262.66 Q97.40,262.43 96.54,261.77 Q95.68,261.10 94.77,260.54 Q93.86,259.97 93.11,259.20 Q92.37,258.43 91.59,257.69 Q90.81,256.95 90.28,256.02 Q89.75,255.09 89.32,254.12 Q88.89,253.15 88.14,252.29 Q87.38,251.44 87.08,250.39 Q86.78,249.34 86.68,248.25 Q86.57,247.17 85.92,246.08 Q85.26,245.00 85.33,243.85 Q85.39,242.70 85.58,241.57 Q85.78,240.43 86.92,239.61 Q88.07,238.80 87.68,237.44 Q87.30,236.09 88.39,235.42 Q89.48,234.75 90.25,233.98 Q91.03,233.22 91.15,231.85 Q91.28,230.48 92.65,230.36 Q94.03,230.24 94.45,228.92 Q94.87,227.61 96.14,227.58 Q97.40,227.56 98.21,226.59 Q99.02,225.61 100.12,225.29 Q101.23,224.98 102.43,225.34 Q103.63,225.70 104.71,225.87 Q105.80,226.03 106.89,225.83 Q107.98,225.63 108.99,226.10 Q110.00,226.58 110.97,227.03 Q111.93,227.48 113.02,227.62 Q114.10,227.76 115.41,227.69 Q116.73,227.61 117.11,228.97 Q117.50,230.33 118.91,230.40 Q120.32,230.48 121.09,231.34 Q121.86,232.19 122.52,233.13 Q123.19,234.07 123.17,235.36 Q123.16,236.64 123.26,237.75 Q123.36,238.85 123.72,239.84 Q124.07,240.83 125.14,241.77 Q126.21,242.70 125.40,243.85 Z" fill="#dae9f2" stroke="#a9c6d6" stroke-width="0.9"/>
<rect x="100.80" y="240.86" width="12.80" height="14.08" rx="2.88" fill="#b6d6e9"/>
<line x1="126.90" y1="242.80" x2="158.70" y2="242.80" stroke="#1e1e1e" stroke-width="3.7"/>
<path d="M158.10,236.60 L168.70,242.80 L158.10,249.00 Z" fill="#1e1e1e"/>
<line x1="248.00" y1="245.40" x2="280.60" y2="245.40" stroke="#1e1e1e" stroke-width="3.7"/>
<path d="M280.00,239.20 L290.60,245.40 L280.00,251.60 Z" fill="#1e1e1e"/>
<path d="M245.24,222.57 Q245.75,223.50 245.14,224.41 Q244.53,225.32 244.79,226.39 Q245.06,227.45 244.20,228.12 Q243.35,228.78 242.77,229.49 Q242.18,230.19 241.56,230.86 Q240.94,231.53 240.46,232.52 Q239.98,233.51 238.88,233.43 Q237.79,233.36 236.91,233.63 Q236.03,233.89 235.12,234.47 Q234.20,235.05 233.20,234.97 Q232.19,234.88 231.38,234.17 Q230.58,233.46 229.80,232.95 Q229.03,232.45 227.90,232.40 Q226.77,232.35 226.54,231.24 Q226.31,230.12 225.77,229.40 Q225.24,228.67 224.29,228.06 Q223.34,227.45 223.49,226.41 Q223.64,225.36 223.69,224.43 Q223.74,223.50 223.69,222.57 Q223.64,221.64 223.49,220.59 Q223.34,219.55 224.29,218.93 Q225.23,218.32 225.77,217.60 Q226.31,216.88 226.81,216.08 Q227.30,215.28 228.04,214.70 Q228.79,214.12 229.71,213.91 Q230.64,213.71 231.51,213.47 Q232.39,213.23 233.29,213.22 Q234.20,213.21 235.13,213.09 Q236.06,212.97 237.10,212.81 Q238.15,212.64 238.77,213.58 Q239.38,214.52 240.23,214.91 Q241.07,215.31 241.72,215.98 Q242.37,216.65 242.86,217.43 Q243.35,218.22 243.65,219.08 Q243.95,219.95 244.34,220.80 Q244.73,221.64 245.24,222.57 Z" fill="#dae9f2" stroke="#a9c6d6" stroke-width="0.9"/>
<path d="M238.63,223.67 Q238.85,224.56 238.60,225.43 Q238.36,226.31 237.94,227.18 Q237.51,228.05 236.62,228.48 Q235.72,228.91 234.73,228.91 Q233.74,228.91 232.99,228.30 Q232.24,227.68 231.48,227.09 Q230.71,226.50 230.49,225.53 Q230.27,224.56 230.49,223.59 Q230.71,222.62 231.49,222.05 Q232.27,221.47 233.00,220.84 Q233.74,220.21 234.73,220.21 Q235.72,220.21 236.62,220.64 Q237.51,221.07 237.97,221.93 Q238.42,222.78 238.63,223.67 Z" fill="#b6d6e9" stroke="none"/>
<path d="M212.96,224.08 Q213.25,225.00 213.57,226.03 Q213.90,227.06 213.02,227.84 Q212.14,228.62 211.93,229.55 Q211.71,230.49 211.50,231.56 Q211.30,232.64 210.57,233.37 Q209.84,234.10 208.82,234.41 Q207.81,234.71 206.87,234.98 Q205.93,235.24 204.98,235.33 Q204.04,235.42 203.12,235.70 Q202.20,235.98 201.26,235.84 Q200.32,235.69 199.23,235.93 Q198.14,236.16 197.20,235.73 Q196.26,235.29 195.82,234.20 Q195.39,233.12 194.65,232.53 Q193.92,231.95 193.43,231.15 Q192.95,230.34 191.99,229.70 Q191.04,229.06 191.17,227.99 Q191.31,226.92 190.82,225.96 Q190.32,225.00 190.41,223.97 Q190.50,222.94 191.08,222.05 Q191.67,221.17 192.28,220.39 Q192.88,219.62 193.25,218.71 Q193.61,217.79 194.39,217.20 Q195.16,216.61 195.91,216.00 Q196.65,215.38 197.60,215.17 Q198.54,214.96 199.43,214.62 Q200.31,214.28 201.25,213.70 Q202.20,213.12 203.16,213.64 Q204.11,214.15 204.98,214.56 Q205.85,214.96 206.80,215.18 Q207.75,215.39 208.48,216.01 Q209.22,216.63 209.93,217.28 Q210.64,217.92 211.14,218.73 Q211.65,219.54 212.07,220.40 Q212.49,221.25 212.58,222.20 Q212.67,223.15 212.96,224.08 Z" fill="#dae9f2" stroke="#a9c6d6" stroke-width="0.9"/>
<path d="M206.91,225.09 Q206.94,226.09 206.91,227.09 Q206.88,228.08 206.24,228.88 Q205.61,229.68 204.69,230.12 Q203.77,230.56 202.80,230.31 Q201.84,230.07 200.86,229.87 Q199.88,229.68 199.25,228.88 Q198.61,228.08 198.61,227.09 Q198.61,226.09 198.78,225.18 Q198.95,224.26 199.42,223.38 Q199.88,222.50 200.80,222.06 Q201.72,221.62 202.74,221.62 Q203.77,221.62 204.55,222.23 Q205.33,222.85 206.10,223.48 Q206.88,224.10 206.91,225.09 Z" fill="#b6d6e9" stroke="none"/>
<path d="M198.43,230.14 Q198.54,231.00 198.83,231.93 Q199.12,232.85 198.37,233.57 Q197.63,234.29 197.74,235.31 Q197.85,236.34 196.92,236.77 Q195.99,237.20 195.49,237.91 Q194.99,238.62 194.28,239.11 Q193.56,239.60 192.73,239.82 Q191.89,240.04 191.17,240.78 Q190.45,241.52 189.53,241.26 Q188.60,241.01 187.74,240.88 Q186.88,240.75 186.03,240.58 Q185.18,240.40 184.22,240.33 Q183.26,240.25 182.50,239.72 Q181.73,239.18 181.42,238.24 Q181.10,237.29 180.22,236.82 Q179.35,236.34 179.40,235.34 Q179.45,234.33 179.27,233.50 Q179.10,232.68 178.92,231.84 Q178.75,231.00 178.99,230.17 Q179.22,229.35 179.24,228.47 Q179.26,227.60 179.60,226.80 Q179.94,226.00 180.51,225.34 Q181.08,224.69 181.69,224.09 Q182.30,223.49 182.78,222.62 Q183.26,221.75 184.26,221.78 Q185.26,221.81 186.07,221.53 Q186.88,221.26 187.74,220.79 Q188.60,220.32 189.44,220.89 Q190.28,221.45 191.13,221.58 Q191.99,221.70 192.96,221.72 Q193.94,221.75 194.46,222.58 Q194.97,223.41 195.44,224.14 Q195.91,224.87 196.61,225.42 Q197.32,225.97 197.48,226.84 Q197.64,227.71 197.98,228.50 Q198.32,229.29 198.43,230.14 Z" fill="#f3a8a8" stroke="#e69396" stroke-width="0.8"/>
<path d="M194.25,231.15 Q194.48,232.18 194.25,233.20 Q194.02,234.22 193.37,235.04 Q192.71,235.86 191.77,236.31 Q190.82,236.77 189.78,236.77 Q188.73,236.77 187.92,236.14 Q187.11,235.52 186.59,234.74 Q186.07,233.96 185.57,233.07 Q185.07,232.18 185.49,231.25 Q185.92,230.32 186.56,229.63 Q187.19,228.94 187.96,228.26 Q188.73,227.59 189.78,227.59 Q190.82,227.59 191.62,228.23 Q192.41,228.87 193.21,229.50 Q194.02,230.13 194.25,231.15 Z" fill="#db7b83" stroke="none"/>
<path d="M231.05,232.03 Q230.65,233.00 230.74,233.92 Q230.83,234.84 230.34,235.64 Q229.85,236.44 229.57,237.29 Q229.29,238.13 229.15,239.17 Q229.00,240.22 228.31,240.91 Q227.62,241.60 226.66,241.89 Q225.70,242.19 224.80,242.38 Q223.89,242.58 223.04,242.89 Q222.20,243.21 221.30,243.23 Q220.40,243.25 219.49,243.27 Q218.59,243.28 217.57,243.42 Q216.56,243.55 215.67,243.14 Q214.79,242.72 214.30,241.79 Q213.81,240.86 213.18,240.22 Q212.55,239.58 211.94,238.91 Q211.32,238.24 210.59,237.54 Q209.85,236.84 210.15,235.80 Q210.44,234.76 209.81,233.88 Q209.17,233.00 209.78,232.12 Q210.38,231.23 210.55,230.35 Q210.71,229.47 211.17,228.71 Q211.63,227.94 211.71,226.86 Q211.80,225.78 212.73,225.38 Q213.67,224.97 214.46,224.52 Q215.25,224.07 216.03,223.62 Q216.82,223.17 217.70,222.94 Q218.58,222.70 219.49,222.67 Q220.40,222.65 221.30,222.71 Q222.20,222.77 223.22,222.61 Q224.24,222.45 224.91,223.23 Q225.59,224.02 226.36,224.50 Q227.13,224.98 227.62,225.76 Q228.10,226.54 228.83,227.13 Q229.55,227.71 229.78,228.61 Q230.00,229.51 230.73,230.28 Q231.46,231.05 231.05,232.03 Z" fill="#f3a8a8" stroke="#e69396" stroke-width="0.8"/>
<path d="M226.34,233.16 Q226.58,234.24 225.99,235.14 Q225.40,236.05 224.81,236.76 Q224.22,237.48 223.48,238.27 Q222.74,239.06 221.64,239.06 Q220.53,239.06 219.68,238.41 Q218.83,237.76 218.37,236.89 Q217.92,236.03 217.51,235.13 Q217.10,234.24 217.14,233.16 Q217.18,232.09 217.86,231.23 Q218.55,230.37 219.54,229.89 Q220.53,229.41 221.64,229.41 Q222.74,229.41 223.73,229.89 Q224.72,230.37 225.41,231.23 Q226.09,232.09 226.34,233.16 Z" fill="#db7b83" stroke="none"/>
<path d="M213.78,241.39 Q214.35,242.20 214.28,243.10 Q214.20,244.00 213.65,244.76 Q213.11,245.52 212.67,246.24 Q212.24,246.96 212.09,247.91 Q211.93,248.86 211.09,249.25 Q210.25,249.64 209.48,250.00 Q208.71,250.36 207.93,250.61 Q207.15,250.86 206.41,251.28 Q205.67,251.70 204.84,252.13 Q204.00,252.55 203.20,251.92 Q202.40,251.28 201.55,251.27 Q200.71,251.25 199.93,250.92 Q199.15,250.60 198.25,250.36 Q197.34,250.13 196.93,249.30 Q196.52,248.47 195.78,247.93 Q195.03,247.38 195.16,246.37 Q195.30,245.37 195.08,244.59 Q194.86,243.81 194.54,243.01 Q194.23,242.20 194.02,241.30 Q193.80,240.40 194.53,239.71 Q195.26,239.02 195.63,238.30 Q196.01,237.59 196.46,236.92 Q196.92,236.26 197.13,235.26 Q197.34,234.27 198.32,234.16 Q199.29,234.05 200.05,233.75 Q200.82,233.45 201.59,233.20 Q202.37,232.95 203.18,232.70 Q204.00,232.46 204.81,232.74 Q205.62,233.03 206.46,233.07 Q207.31,233.10 208.06,233.48 Q208.82,233.86 209.74,234.06 Q210.66,234.27 210.98,235.17 Q211.31,236.07 211.84,236.72 Q212.36,237.37 212.67,238.15 Q212.97,238.93 213.09,239.76 Q213.20,240.58 213.78,241.39 Z" fill="#f3a8a8" stroke="#e69396" stroke-width="0.8"/>
<path d="M209.28,242.35 Q209.30,243.34 208.99,244.19 Q208.67,245.04 208.33,245.98 Q207.99,246.91 207.07,247.35 Q206.16,247.79 205.14,247.79 Q204.12,247.79 203.21,247.35 Q202.29,246.91 201.99,245.95 Q201.69,245.00 201.13,244.17 Q200.58,243.34 201.06,242.47 Q201.54,241.61 201.92,240.69 Q202.29,239.77 203.21,239.33 Q204.12,238.89 205.09,239.10 Q206.06,239.32 207.02,239.54 Q207.99,239.77 208.62,240.57 Q209.25,241.36 209.28,242.35 Z" fill="#db7b83" stroke="none"/>
<path d="M246.48,264.46 Q246.09,265.20 246.14,265.88 Q246.19,266.56 246.09,267.24 Q245.99,267.93 245.68,268.55 Q245.38,269.17 244.95,269.71 Q244.53,270.26 244.07,270.77 Q243.61,271.28 243.05,271.70 Q242.50,272.13 241.87,272.42 Q241.24,272.72 240.61,273.15 Q239.98,273.57 239.24,273.64 Q238.50,273.70 237.82,273.29 Q237.14,272.89 236.52,272.62 Q235.90,272.35 235.25,272.15 Q234.60,271.95 233.82,271.83 Q233.04,271.71 232.81,270.94 Q232.58,270.17 232.16,269.63 Q231.75,269.10 231.56,268.45 Q231.38,267.79 230.99,267.19 Q230.60,266.59 230.30,265.90 Q230.00,265.20 230.44,264.53 Q230.89,263.86 231.02,263.19 Q231.14,262.52 231.14,261.74 Q231.14,260.95 231.86,260.59 Q232.57,260.23 233.06,259.76 Q233.55,259.30 234.07,258.86 Q234.58,258.41 235.19,258.10 Q235.80,257.79 236.49,257.74 Q237.18,257.69 237.84,257.49 Q238.50,257.29 239.17,257.42 Q239.85,257.55 240.53,257.64 Q241.22,257.73 241.79,258.12 Q242.36,258.52 243.16,258.60 Q243.96,258.69 244.14,259.51 Q244.31,260.33 245.09,260.64 Q245.86,260.95 246.18,261.62 Q246.49,262.29 246.68,263.01 Q246.87,263.72 246.48,264.46 Z" fill="#dae9f2" stroke="#a9c6d6" stroke-width="0.9"/>
<path d="M241.89,265.32 Q242.17,265.98 242.01,266.69 Q241.85,267.40 241.39,267.98 Q240.94,268.55 240.24,268.71 Q239.55,268.88 238.86,269.03 Q238.16,269.18 237.50,268.86 Q236.84,268.55 236.48,267.93 Q236.13,267.31 235.87,266.65 Q235.61,265.98 235.88,265.32 Q236.16,264.67 236.50,264.04 Q236.84,263.41 237.54,263.26 Q238.24,263.11 238.93,262.95 Q239.62,262.78 240.28,263.10 Q240.94,263.41 241.27,264.04 Q241.61,264.67 241.89,265.32 Z" fill="#b6d6e9" stroke="none"/>
<path d="M202.66,261.47 Q202.86,262.30 203.19,263.23 Q203.52,264.15 202.82,264.89 Q202.12,265.62 201.75,266.38 Q201.37,267.13 201.28,268.15 Q201.18,269.17 200.28,269.54 Q199.38,269.91 198.86,270.73 Q198.34,271.55 197.39,271.66 Q196.44,271.76 195.58,271.88 Q194.71,272.00 193.86,271.97 Q193.00,271.94 192.14,271.98 Q191.29,272.02 190.32,272.18 Q189.35,272.34 188.78,271.47 Q188.21,270.60 187.45,270.21 Q186.69,269.82 185.75,269.49 Q184.82,269.17 184.70,268.16 Q184.58,267.16 184.17,266.41 Q183.77,265.66 183.51,264.84 Q183.24,264.02 183.09,263.16 Q182.93,262.30 183.11,261.44 Q183.28,260.59 183.67,259.82 Q184.05,259.04 184.29,258.23 Q184.53,257.41 184.67,256.42 Q184.82,255.43 185.48,254.78 Q186.13,254.12 187.06,253.86 Q187.98,253.61 188.86,253.47 Q189.73,253.32 190.44,252.55 Q191.15,251.78 192.07,251.70 Q193.00,251.62 193.83,252.23 Q194.67,252.83 195.51,252.97 Q196.34,253.12 197.11,253.49 Q197.88,253.85 198.55,254.37 Q199.22,254.89 199.81,255.49 Q200.40,256.09 200.93,256.75 Q201.45,257.42 201.88,258.16 Q202.31,258.91 202.39,259.77 Q202.46,260.63 202.66,261.47 Z" fill="#f3a8a8" stroke="#e69396" stroke-width="0.8"/>
<path d="M198.65,262.45 Q198.88,263.48 198.44,264.39 Q197.99,265.31 197.39,266.03 Q196.79,266.75 196.00,267.41 Q195.22,268.07 194.18,268.07 Q193.13,268.07 192.18,267.61 Q191.24,267.16 190.59,266.34 Q189.93,265.52 189.93,264.50 Q189.92,263.48 190.22,262.59 Q190.52,261.71 190.88,260.75 Q191.24,259.79 192.26,259.66 Q193.27,259.52 194.25,259.20 Q195.22,258.89 196.17,259.34 Q197.11,259.79 197.77,260.61 Q198.42,261.43 198.65,262.45 Z" fill="#db7b83" stroke="none"/>
<path d="M241.49,259.43 Q241.13,260.40 241.00,261.29 Q240.87,262.18 240.74,263.07 Q240.61,263.97 240.19,264.77 Q239.76,265.57 239.29,266.35 Q238.82,267.13 238.15,267.75 Q237.48,268.37 236.77,268.93 Q236.05,269.50 235.18,269.77 Q234.31,270.04 233.43,270.19 Q232.55,270.33 231.68,270.98 Q230.80,271.63 229.83,271.54 Q228.85,271.46 228.10,270.67 Q227.35,269.89 226.47,269.64 Q225.60,269.40 224.87,268.88 Q224.13,268.35 223.17,267.98 Q222.20,267.62 221.96,266.63 Q221.73,265.64 221.56,264.73 Q221.39,263.82 220.91,263.03 Q220.43,262.23 220.00,261.31 Q219.57,260.40 220.20,259.52 Q220.83,258.64 220.91,257.74 Q220.99,256.83 221.03,255.81 Q221.08,254.79 221.64,253.98 Q222.20,253.18 223.16,252.81 Q224.11,252.43 224.65,251.55 Q225.19,250.68 226.19,250.58 Q227.19,250.48 228.09,250.31 Q228.99,250.14 229.90,249.97 Q230.80,249.80 231.77,249.57 Q232.75,249.34 233.52,250.09 Q234.28,250.83 235.14,251.12 Q235.99,251.42 236.73,251.94 Q237.46,252.46 238.00,253.18 Q238.54,253.91 239.23,254.52 Q239.93,255.13 240.30,255.97 Q240.68,256.80 241.27,257.63 Q241.86,258.45 241.49,259.43 Z" fill="#f3a8a8" stroke="#e69396" stroke-width="0.8"/>
<path d="M236.52,260.67 Q236.98,261.64 236.74,262.71 Q236.49,263.78 235.81,264.64 Q235.12,265.51 234.13,265.98 Q233.14,266.46 232.04,266.46 Q230.93,266.46 229.94,265.98 Q228.95,265.51 228.54,264.51 Q228.14,263.51 228.02,262.57 Q227.91,261.64 228.08,260.72 Q228.25,259.81 228.60,258.79 Q228.95,257.77 229.94,257.29 Q230.93,256.81 232.04,256.81 Q233.14,256.81 233.95,257.52 Q234.76,258.22 235.40,258.96 Q236.05,259.70 236.52,260.67 Z" fill="#db7b83" stroke="none"/>
<path d="M195.67,248.13 Q196.32,249.10 195.56,250.05 Q194.80,251.00 194.60,251.94 Q194.40,252.89 194.10,253.82 Q193.79,254.75 193.35,255.67 Q192.91,256.58 192.13,257.22 Q191.35,257.86 190.48,258.34 Q189.61,258.81 188.91,259.74 Q188.21,260.67 187.10,260.52 Q185.98,260.36 184.99,260.89 Q184.00,261.42 183.04,260.68 Q182.09,259.94 180.94,260.31 Q179.79,260.67 179.05,259.81 Q178.31,258.95 177.61,258.25 Q176.91,257.55 176.24,256.87 Q175.57,256.18 175.01,255.39 Q174.45,254.61 173.77,253.84 Q173.09,253.07 173.11,252.04 Q173.13,251.02 172.87,250.06 Q172.62,249.10 172.59,248.09 Q172.56,247.08 173.12,246.21 Q173.68,245.34 173.98,244.42 Q174.28,243.49 174.82,242.67 Q175.36,241.85 175.96,241.04 Q176.55,240.23 177.20,239.33 Q177.84,238.43 179.02,238.53 Q180.19,238.64 181.03,237.80 Q181.86,236.97 182.93,237.54 Q184.00,238.11 184.99,237.98 Q185.98,237.86 186.96,238.07 Q187.94,238.28 189.05,238.36 Q190.16,238.43 190.61,239.56 Q191.06,240.68 191.91,241.21 Q192.77,241.74 193.72,242.34 Q194.67,242.94 195.12,243.91 Q195.57,244.89 195.29,246.02 Q195.01,247.16 195.67,248.13 Z" fill="#dae9f2" stroke="#a9c6d6" stroke-width="0.9"/>
<path d="M189.09,249.20 Q189.32,250.23 189.09,251.26 Q188.85,252.29 188.08,252.98 Q187.30,253.66 186.43,254.11 Q185.55,254.55 184.53,254.71 Q183.51,254.87 182.55,254.41 Q181.60,253.95 180.94,253.12 Q180.28,252.29 180.04,251.26 Q179.81,250.23 180.28,249.31 Q180.76,248.40 181.29,247.59 Q181.81,246.78 182.66,246.18 Q183.51,245.59 184.53,245.74 Q185.55,245.90 186.54,246.20 Q187.53,246.51 188.19,247.34 Q188.85,248.17 189.09,249.20 Z" fill="#b6d6e9" stroke="none"/>
<path d="M219.15,257.28 Q219.27,258.20 219.25,259.14 Q219.22,260.07 218.94,260.97 Q218.66,261.86 218.34,262.75 Q218.03,263.65 217.74,264.64 Q217.45,265.63 216.52,266.08 Q215.59,266.54 214.79,267.04 Q213.99,267.54 213.13,267.92 Q212.27,268.29 211.44,268.94 Q210.61,269.58 209.60,269.29 Q208.60,269.00 207.69,268.76 Q206.78,268.52 205.89,268.32 Q204.99,268.12 203.91,268.16 Q202.82,268.21 202.30,267.27 Q201.78,266.33 201.14,265.66 Q200.51,264.99 200.04,264.20 Q199.56,263.42 198.65,262.78 Q197.74,262.15 197.88,261.11 Q198.03,260.06 198.06,259.13 Q198.09,258.20 198.18,257.29 Q198.26,256.38 198.43,255.47 Q198.59,254.56 198.59,253.49 Q198.59,252.42 199.17,251.60 Q199.75,250.77 200.72,250.37 Q201.69,249.97 202.43,249.37 Q203.16,248.78 204.11,248.62 Q205.06,248.46 205.93,248.24 Q206.80,248.01 207.70,247.33 Q208.60,246.65 209.60,246.73 Q210.61,246.82 211.58,247.08 Q212.55,247.34 213.16,248.29 Q213.77,249.24 214.67,249.57 Q215.57,249.90 216.08,250.70 Q216.59,251.50 217.24,252.17 Q217.89,252.84 218.18,253.72 Q218.46,254.61 218.74,255.49 Q219.02,256.36 219.15,257.28 Z" fill="#dae9f2" stroke="#a9c6d6" stroke-width="0.9"/>
<path d="M213.11,258.29 Q213.06,259.26 212.97,260.16 Q212.88,261.07 212.40,261.91 Q211.91,262.75 211.02,263.18 Q210.12,263.61 209.13,263.61 Q208.14,263.61 207.24,263.18 Q206.35,262.75 205.92,261.88 Q205.50,261.01 205.08,260.13 Q204.67,259.26 204.89,258.29 Q205.11,257.32 205.89,256.75 Q206.67,256.17 207.40,255.54 Q208.14,254.91 209.07,255.18 Q210.00,255.46 210.96,255.61 Q211.91,255.77 212.53,256.55 Q213.15,257.32 213.11,258.29 Z" fill="#b6d6e9" stroke="none"/>
<path d="M233.16,250.74 Q233.08,251.70 233.11,252.66 Q233.15,253.61 233.31,254.69 Q233.46,255.76 232.50,256.40 Q231.54,257.04 231.18,257.94 Q230.81,258.84 230.16,259.57 Q229.51,260.29 228.60,260.66 Q227.69,261.04 226.82,261.39 Q225.96,261.75 225.10,262.25 Q224.25,262.74 223.27,262.61 Q222.30,262.49 221.27,262.94 Q220.24,263.40 219.39,262.70 Q218.55,262.01 217.68,261.61 Q216.81,261.22 215.96,260.74 Q215.12,260.26 214.42,259.58 Q213.72,258.90 212.86,258.27 Q212.01,257.64 211.93,256.57 Q211.86,255.50 211.23,254.63 Q210.60,253.76 210.95,252.73 Q211.31,251.70 211.46,250.76 Q211.61,249.82 211.92,248.92 Q212.22,248.03 212.61,247.18 Q212.99,246.33 213.36,245.42 Q213.73,244.51 214.20,243.56 Q214.66,242.60 215.51,242.00 Q216.36,241.41 217.42,241.31 Q218.48,241.20 219.46,241.16 Q220.43,241.11 221.37,240.89 Q222.30,240.67 223.24,240.83 Q224.19,240.99 225.08,241.30 Q225.98,241.60 227.11,241.50 Q228.24,241.41 229.09,242.00 Q229.94,242.60 230.27,243.66 Q230.61,244.73 231.21,245.47 Q231.81,246.21 232.64,246.92 Q233.46,247.64 233.35,248.70 Q233.24,249.77 233.16,250.74 Z" fill="#dae9f2" stroke="#a9c6d6" stroke-width="0.9"/>
<path d="M226.99,251.79 Q227.00,252.79 226.78,253.69 Q226.57,254.58 226.14,255.48 Q225.71,256.38 224.79,256.82 Q223.87,257.26 222.84,257.26 Q221.82,257.26 221.03,256.67 Q220.23,256.07 219.47,255.42 Q218.71,254.78 218.74,253.79 Q218.77,252.79 218.74,251.79 Q218.71,250.80 219.35,250.00 Q219.98,249.20 220.97,249.03 Q221.95,248.86 222.91,248.59 Q223.87,248.32 224.79,248.76 Q225.71,249.20 226.34,250.00 Q226.98,250.80 226.99,251.79 Z" fill="#b6d6e9" stroke="none"/>
<line x1="189.20" y1="223.70" x2="189.20" y2="220.50" stroke="#5e3470" stroke-width="0.5509999999999999"/>
<g transform="translate(189.20,220.50) rotate(0.0) scale(0.58)"><path d="M-3.2,-9.6 L-1.1,-9.6 L-1.1,-6.8 L1.1,-6.8 L1.1,-9.6 L3.2,-9.6 L3.2,0.3 L-3.2,0.3 Z" fill="#5e3470"/><rect x="-1.2" y="-5.6" width="2.4" height="3.8" fill="#8a5c9c"/></g>
<line x1="181.80" y1="226.80" x2="178.60" y2="226.80" stroke="#5e3470" stroke-width="0.5509999999999999"/>
<g transform="translate(178.60,226.80) rotate(270.0) scale(0.58)"><path d="M-3.2,-9.6 L-1.1,-9.6 L-1.1,-6.8 L1.1,-6.8 L1.1,-9.6 L3.2,-9.6 L3.2,0.3 L-3.2,0.3 Z" fill="#5e3470"/><rect x="-1.2" y="-5.6" width="2.4" height="3.8" fill="#8a5c9c"/></g>
<line x1="220.60" y1="224.80" x2="220.60" y2="221.60" stroke="#5e3470" stroke-width="0.5509999999999999"/>
<g transform="translate(220.60,221.60) rotate(0.0) scale(0.58)"><path d="M-3.2,-9.6 L-1.1,-9.6 L-1.1,-6.8 L1.1,-6.8 L1.1,-9.6 L3.2,-9.6 L3.2,0.3 L-3.2,0.3 Z" fill="#5e3470"/><rect x="-1.2" y="-5.6" width="2.4" height="3.8" fill="#8a5c9c"/></g>
<line x1="228.73" y1="229.40" x2="231.50" y2="231.00" stroke="#5e3470" stroke-width="0.5509999999999999"/>
<g transform="translate(231.50,231.00) rotate(120.0) scale(0.58)"><path d="M-3.2,-9.6 L-1.1,-9.6 L-1.1,-6.8 L1.1,-6.8 L1.1,-9.6 L3.2,-9.6 L3.2,0.3 L-3.2,0.3 Z" fill="#5e3470"/><rect x="-1.2" y="-5.6" width="2.4" height="3.8" fill="#8a5c9c"/></g>
<line x1="182.77" y1="237.40" x2="180.00" y2="239.00" stroke="#5e3470" stroke-width="0.5509999999999999"/>
<g transform="translate(180.00,239.00) rotate(240.0) scale(0.58)"><path d="M-3.2,-9.6 L-1.1,-9.6 L-1.1,-6.8 L1.1,-6.8 L1.1,-9.6 L3.2,-9.6 L3.2,0.3 L-3.2,0.3 Z" fill="#5e3470"/><rect x="-1.2" y="-5.6" width="2.4" height="3.8" fill="#8a5c9c"/></g>
<line x1="208.75" y1="245.06" x2="206.30" y2="243.00" stroke="#5e3470" stroke-width="0.5509999999999999"/>
<g transform="translate(206.30,243.00) rotate(-50.0) scale(0.58)"><path d="M-3.2,-9.6 L-1.1,-9.6 L-1.1,-6.8 L1.1,-6.8 L1.1,-9.6 L3.2,-9.6 L3.2,0.3 L-3.2,0.3 Z" fill="#5e3470"/><rect x="-1.2" y="-5.6" width="2.4" height="3.8" fill="#8a5c9c"/></g>
<line x1="227.16" y1="243.82" x2="229.00" y2="241.20" stroke="#5e3470" stroke-width="0.5509999999999999"/>
<g transform="translate(229.00,241.20) rotate(35.0) scale(0.58)"><path d="M-3.2,-9.6 L-1.1,-9.6 L-1.1,-6.8 L1.1,-6.8 L1.1,-9.6 L3.2,-9.6 L3.2,0.3 L-3.2,0.3 Z" fill="#5e3470"/><rect x="-1.2" y="-5.6" width="2.4" height="3.8" fill="#8a5c9c"/></g>
<line x1="238.31" y1="258.78" x2="241.50" y2="258.50" stroke="#5e3470" stroke-width="0.5509999999999999"/>
<g transform="translate(241.50,258.50) rotate(85.0) scale(0.58)"><path d="M-3.2,-9.6 L-1.1,-9.6 L-1.1,-6.8 L1.1,-6.8 L1.1,-9.6 L3.2,-9.6 L3.2,0.3 L-3.2,0.3 Z" fill="#5e3470"/><rect x="-1.2" y="-5.6" width="2.4" height="3.8" fill="#8a5c9c"/></g>
<line x1="184.46" y1="264.74" x2="182.20" y2="267.00" stroke="#5e3470" stroke-width="0.5509999999999999"/>
<g transform="translate(182.20,267.00) rotate(225.0) scale(0.58)"><path d="M-3.2,-9.6 L-1.1,-9.6 L-1.1,-6.8 L1.1,-6.8 L1.1,-9.6 L3.2,-9.6 L3.2,0.3 L-3.2,0.3 Z" fill="#5e3470"/><rect x="-1.2" y="-5.6" width="2.4" height="3.8" fill="#8a5c9c"/></g>
<line x1="196.30" y1="268.40" x2="196.30" y2="271.60" stroke="#5e3470" stroke-width="0.5509999999999999"/>
<g transform="translate(196.30,271.60) rotate(180.0) scale(0.58)"><path d="M-3.2,-9.6 L-1.1,-9.6 L-1.1,-6.8 L1.1,-6.8 L1.1,-9.6 L3.2,-9.6 L3.2,0.3 L-3.2,0.3 Z" fill="#5e3470"/><rect x="-1.2" y="-5.6" width="2.4" height="3.8" fill="#8a5c9c"/></g>
<line x1="220.80" y1="264.73" x2="219.20" y2="267.50" stroke="#5e3470" stroke-width="0.5509999999999999"/>
<g transform="translate(219.20,267.50) rotate(210.0) scale(0.58)"><path d="M-3.2,-9.6 L-1.1,-9.6 L-1.1,-6.8 L1.1,-6.8 L1.1,-9.6 L3.2,-9.6 L3.2,0.3 L-3.2,0.3 Z" fill="#5e3470"/><rect x="-1.2" y="-5.6" width="2.4" height="3.8" fill="#8a5c9c"/></g>
<line x1="234.30" y1="267.80" x2="234.30" y2="271.00" stroke="#5e3470" stroke-width="0.5509999999999999"/>
<g transform="translate(234.30,271.00) rotate(180.0) scale(0.58)"><path d="M-3.2,-9.6 L-1.1,-9.6 L-1.1,-6.8 L1.1,-6.8 L1.1,-9.6 L3.2,-9.6 L3.2,0.3 L-3.2,0.3 Z" fill="#5e3470"/><rect x="-1.2" y="-5.6" width="2.4" height="3.8" fill="#8a5c9c"/></g>
<line x1="180.15" y1="254.94" x2="177.00" y2="255.50" stroke="#5e3470" stroke-width="0.5509999999999999"/>
<g transform="translate(177.00,255.50) rotate(260.0) scale(0.58)"><path d="M-3.2,-9.6 L-1.1,-9.6 L-1.1,-6.8 L1.1,-6.8 L1.1,-9.6 L3.2,-9.6 L3.2,0.3 L-3.2,0.3 Z" fill="#5e3470"/><rect x="-1.2" y="-5.6" width="2.4" height="3.8" fill="#8a5c9c"/></g>
<line x1="240.99" y1="267.41" x2="244.00" y2="268.50" stroke="#5e3470" stroke-width="0.5509999999999999"/>
<g transform="translate(244.00,268.50) rotate(110.0) scale(0.58)"><path d="M-3.2,-9.6 L-1.1,-9.6 L-1.1,-6.8 L1.1,-6.8 L1.1,-9.6 L3.2,-9.6 L3.2,0.3 L-3.2,0.3 Z" fill="#5e3470"/><rect x="-1.2" y="-5.6" width="2.4" height="3.8" fill="#8a5c9c"/></g>
<g stroke="#cdbcbc" stroke-width="0.5" stroke-linejoin="round"><path d="M332.5,244 C337,241 342,238.5 347,238.6 C351.5,238.8 351.5,242.5 347.6,246.6" fill="none" stroke="#d9a5a3" stroke-width="1.2"/><path d="M329,250 L334.5,252.5 L332.5,254.5 L327.5,253 Z" fill="#eee5e5"/><path d="M307,250.5 L308.4,259.6 L306.2,261.6 L312.4,261.6 L311.2,259.2 L312.4,251.5 Z" fill="#efe7e7"/><path d="M321.5,253.5 L323.2,263.2 L321.2,265.2 L328.2,265.2 L326.6,262.6 L327.6,253.5 Z" fill="#efe7e7"/><path d="M300.8,241.7 C302,237 305,234 309,233 C313,232 316,233 320,234 C326,234.5 331,237 333.5,241 C335.5,245 335,250 332,253 C328,256.5 320,257.5 314,256 C309,254.5 306,251 304.5,248 C303,246 301,244 300.8,241.7 Z" fill="#f4efef"/><path d="M305,237 L307.2,231.2 L311,234.2 Z" fill="#f2e9e9"/><ellipse cx="319.8" cy="237.2" rx="3.9" ry="4.9" fill="#eaa8a8" stroke="#d99a9a"/><ellipse cx="320.3" cy="237.8" rx="2.2" ry="3.0" fill="#f2bdbd" stroke="none"/><path d="M312,251 C316,254.5 324,255.5 330,253" fill="none" stroke="#ddd2d2" stroke-width="0.8"/></g>
<circle cx="310.60" cy="240.30" r="0.85" fill="#333" stroke="none" stroke-width="0.5"/>
<circle cx="301.00" cy="241.80" r="0.60" fill="#d9a5a3" stroke="none" stroke-width="0.5"/>
<line x1="34.90" y1="341.20" x2="34.90" y2="426.40" stroke="#231f20" stroke-width="1.1"/>
<line x1="34.90" y1="426.40" x2="91.30" y2="426.40" stroke="#231f20" stroke-width="1.1"/>
<line x1="30.80" y1="341.45" x2="34.70" y2="341.45" stroke="#231f20" stroke-width="0.9"/>
<text x="29.00" y="344.35" font-size="8.2" text-anchor="end" fill="#231f20" stroke="#231f20" stroke-width="0.13679999999999998" font-weight="normal" font-style="normal">100</text>
<line x1="30.80" y1="362.92" x2="34.70" y2="362.92" stroke="#231f20" stroke-width="0.9"/>
<text x="29.00" y="365.82" font-size="8.2" text-anchor="end" fill="#231f20" stroke="#231f20" stroke-width="0.13679999999999998" font-weight="normal" font-style="normal">50</text>
<line x1="30.80" y1="384.40" x2="34.70" y2="384.40" stroke="#231f20" stroke-width="0.9"/>
<text x="29.00" y="387.30" font-size="8.2" text-anchor="end" fill="#231f20" stroke="#231f20" stroke-width="0.13679999999999998" font-weight="normal" font-style="normal">0</text>
<line x1="30.80" y1="405.88" x2="34.70" y2="405.88" stroke="#231f20" stroke-width="0.9"/>
<text x="29.00" y="408.77" font-size="8.2" text-anchor="end" fill="#231f20" stroke="#231f20" stroke-width="0.13679999999999998" font-weight="normal" font-style="normal"><tspan font-size="6.4" dy="-0.9">–</tspan><tspan dy="0.9" dx="0.5">50</tspan></text>
<line x1="30.80" y1="427.35" x2="34.70" y2="427.35" stroke="#231f20" stroke-width="0.9"/>
<text x="29.00" y="430.25" font-size="8.2" text-anchor="end" fill="#231f20" stroke="#231f20" stroke-width="0.13679999999999998" font-weight="normal" font-style="normal"><tspan font-size="6.4" dy="-0.9">–</tspan><tspan dy="0.9" dx="0.5">100</tspan></text>
<line x1="46.30" y1="426.40" x2="46.30" y2="429.90" stroke="#231f20" stroke-width="0.9"/>
<line x1="63.60" y1="426.40" x2="63.60" y2="429.90" stroke="#231f20" stroke-width="0.9"/>
<line x1="80.00" y1="426.40" x2="80.00" y2="429.90" stroke="#231f20" stroke-width="0.9"/>
<line x1="35.50" y1="384.40" x2="91.50" y2="384.40" stroke="#333" stroke-width="0.95" stroke-dasharray="1.1,1.5"/>
<text x="11.30" y="383.80" font-size="7.9" text-anchor="middle" fill="#231f20" stroke="#231f20" stroke-width="0.1254" font-weight="normal" font-style="normal" transform="rotate(-90 11.3 383.8)" textLength="62" lengthAdjust="spacingAndGlyphs">T-cell Z score sum</text>
<text x="49.20" y="437.60" font-size="7.6" text-anchor="end" fill="#231f20" stroke="#231f20" stroke-width="0.11399999999999999" font-weight="normal" font-style="normal" transform="rotate(-45 49.199999999999996 437.6)"><tspan font-style="italic">B2M KO</tspan></text>
<text x="66.50" y="437.60" font-size="7.6" text-anchor="end" fill="#231f20" stroke="#231f20" stroke-width="0.11399999999999999" font-weight="normal" font-style="normal" transform="rotate(-45 66.5 437.6)">MHC-I<tspan font-size="5.0" dy="-3">HET</tspan></text>
<text x="82.90" y="437.60" font-size="7.6" text-anchor="end" fill="#231f20" stroke="#231f20" stroke-width="0.11399999999999999" font-weight="normal" font-style="normal" transform="rotate(-45 82.9 437.6)">Parental</text>
<line x1="46.50" y1="407.60" x2="46.50" y2="412.60" stroke="#111" stroke-width="1.0"/>
<line x1="44.50" y1="407.60" x2="48.50" y2="407.60" stroke="#111" stroke-width="1.0"/>
<line x1="44.50" y1="412.60" x2="48.50" y2="412.60" stroke="#111" stroke-width="1.0"/>
<path d="M41.10,408.80 L41.70,408.20 L51.30,408.20 L51.90,408.80 L51.90,411.60 L51.30,412.20 L41.70,412.20 L41.10,411.60 Z" fill="#e0e0e0" stroke="#111" stroke-width="1.05"/>
<line x1="41.10" y1="410.20" x2="51.90" y2="410.20" stroke="#111" stroke-width="0.9"/>
<line x1="63.30" y1="364.60" x2="63.30" y2="380.60" stroke="#111" stroke-width="1.0"/>
<line x1="61.30" y1="364.60" x2="65.30" y2="364.60" stroke="#111" stroke-width="1.0"/>
<line x1="61.30" y1="380.60" x2="65.30" y2="380.60" stroke="#111" stroke-width="1.0"/>
<path d="M58.00,367.00 L59.40,365.60 L67.20,365.60 L68.60,367.00 L68.60,378.00 L67.20,379.40 L59.40,379.40 L58.00,378.00 Z" fill="#22858e" stroke="#111" stroke-width="1.05"/>
<line x1="58.00" y1="372.60" x2="68.60" y2="372.60" stroke="#111" stroke-width="0.9"/>
<circle cx="63.30" cy="367.90" r="0.90" fill="#111" stroke="none" stroke-width="0.5" opacity="0.75"/>
<circle cx="63.30" cy="372.50" r="0.90" fill="#111" stroke="none" stroke-width="0.5" opacity="0.75"/>
<circle cx="63.30" cy="377.10" r="0.90" fill="#111" stroke="none" stroke-width="0.5" opacity="0.75"/>
<line x1="80.50" y1="346.60" x2="80.50" y2="362.60" stroke="#111" stroke-width="1.0"/>
<line x1="78.50" y1="346.60" x2="82.50" y2="346.60" stroke="#111" stroke-width="1.0"/>
<line x1="78.50" y1="362.60" x2="82.50" y2="362.60" stroke="#111" stroke-width="1.0"/>
<path d="M75.00,349.00 L76.40,347.60 L84.60,347.60 L86.00,349.00 L86.00,360.60 L84.60,362.00 L76.40,362.00 L75.00,360.60 Z" fill="#9a1620" stroke="#111" stroke-width="1.05"/>
<line x1="75.00" y1="354.60" x2="86.00" y2="354.60" stroke="#111" stroke-width="0.9"/>
<circle cx="80.50" cy="350.00" r="0.90" fill="#111" stroke="none" stroke-width="0.5" opacity="0.75"/>
<circle cx="80.50" cy="354.80" r="0.90" fill="#111" stroke="none" stroke-width="0.5" opacity="0.75"/>
<circle cx="80.50" cy="359.60" r="0.90" fill="#111" stroke="none" stroke-width="0.5" opacity="0.75"/>
<polyline points="46.30,345.90 46.30,324.70 80.00,324.70 80.00,330.50" stroke="#231f20" stroke-width="0.9" fill="none"/>
<polyline points="63.60,346.00 63.60,339.70 80.00,339.70 80.00,343.00" stroke="#231f20" stroke-width="0.9" fill="none"/>
<polyline points="46.30,402.60 46.30,356.00 63.40,356.00 63.40,360.60" stroke="#231f20" stroke-width="0.9" fill="none"/>
<circle cx="57.15" cy="321.00" r="0.95" fill="#000" stroke="none" stroke-width="0.5"/>
<circle cx="60.65" cy="321.00" r="0.95" fill="#000" stroke="none" stroke-width="0.5"/>
<circle cx="64.15" cy="321.00" r="0.95" fill="#000" stroke="none" stroke-width="0.5"/>
<circle cx="67.65" cy="321.00" r="0.95" fill="#000" stroke="none" stroke-width="0.5"/>
<circle cx="69.75" cy="335.80" r="0.95" fill="#000" stroke="none" stroke-width="0.5"/>
<circle cx="73.25" cy="335.80" r="0.95" fill="#000" stroke="none" stroke-width="0.5"/>
<circle cx="49.45" cy="352.40" r="0.95" fill="#000" stroke="none" stroke-width="0.5"/>
<circle cx="52.95" cy="352.40" r="0.95" fill="#000" stroke="none" stroke-width="0.5"/>
<circle cx="56.45" cy="352.40" r="0.95" fill="#000" stroke="none" stroke-width="0.5"/>
<circle cx="59.95" cy="352.40" r="0.95" fill="#000" stroke="none" stroke-width="0.5"/>
<line x1="125.60" y1="341.50" x2="125.60" y2="426.20" stroke="#231f20" stroke-width="1.0"/>
<line x1="125.60" y1="426.20" x2="181.50" y2="426.20" stroke="#231f20" stroke-width="1.0"/>
<line x1="121.70" y1="343.40" x2="125.60" y2="343.40" stroke="#231f20" stroke-width="0.9"/>
<text x="120.20" y="346.20" font-size="7.9" text-anchor="end" fill="#231f20" stroke="#231f20" stroke-width="0.1254" font-weight="normal" font-style="normal">20</text>
<line x1="121.70" y1="360.00" x2="125.60" y2="360.00" stroke="#231f20" stroke-width="0.9"/>
<text x="120.20" y="362.80" font-size="7.9" text-anchor="end" fill="#231f20" stroke="#231f20" stroke-width="0.1254" font-weight="normal" font-style="normal">10</text>
<line x1="121.70" y1="376.60" x2="125.60" y2="376.60" stroke="#231f20" stroke-width="0.9"/>
<text x="120.20" y="379.40" font-size="7.9" text-anchor="end" fill="#231f20" stroke="#231f20" stroke-width="0.1254" font-weight="normal" font-style="normal">0</text>
<line x1="121.70" y1="393.20" x2="125.60" y2="393.20" stroke="#231f20" stroke-width="0.9"/>
<text x="120.20" y="396.00" font-size="7.9" text-anchor="end" fill="#231f20" stroke="#231f20" stroke-width="0.1254" font-weight="normal" font-style="normal"><tspan font-size="6.4" dy="-0.9">–</tspan><tspan dy="0.9" dx="0.5">10</tspan></text>
<line x1="121.70" y1="409.80" x2="125.60" y2="409.80" stroke="#231f20" stroke-width="0.9"/>
<text x="120.20" y="412.60" font-size="7.9" text-anchor="end" fill="#231f20" stroke="#231f20" stroke-width="0.1254" font-weight="normal" font-style="normal"><tspan font-size="6.4" dy="-0.9">–</tspan><tspan dy="0.9" dx="0.5">20</tspan></text>
<line x1="121.70" y1="426.40" x2="125.60" y2="426.40" stroke="#231f20" stroke-width="0.9"/>
<text x="120.20" y="429.20" font-size="7.9" text-anchor="end" fill="#231f20" stroke="#231f20" stroke-width="0.1254" font-weight="normal" font-style="normal"><tspan font-size="6.4" dy="-0.9">–</tspan><tspan dy="0.9" dx="0.5">30</tspan></text>
<line x1="136.90" y1="426.20" x2="136.90" y2="429.60" stroke="#231f20" stroke-width="0.9"/>
<line x1="153.50" y1="426.20" x2="153.50" y2="429.60" stroke="#231f20" stroke-width="0.9"/>
<line x1="170.00" y1="426.20" x2="170.00" y2="429.60" stroke="#231f20" stroke-width="0.9"/>
<line x1="126.50" y1="376.40" x2="183.00" y2="376.40" stroke="#333" stroke-width="0.95" stroke-dasharray="1.1,1.5"/>
<text x="104.90" y="382.00" font-size="7.9" text-anchor="middle" fill="#231f20" stroke="#231f20" stroke-width="0.1254" font-weight="normal" font-style="normal" transform="rotate(-90 104.9 382.0)" textLength="68" lengthAdjust="spacingAndGlyphs">NK-cell Z score sum</text>
<text x="139.30" y="437.30" font-size="7.6" text-anchor="end" fill="#231f20" stroke="#231f20" stroke-width="0.11399999999999999" font-weight="normal" font-style="normal" transform="rotate(-45 139.3 437.3)"><tspan font-style="italic">B2M KO</tspan></text>
<text x="155.90" y="437.30" font-size="7.6" text-anchor="end" fill="#231f20" stroke="#231f20" stroke-width="0.11399999999999999" font-weight="normal" font-style="normal" transform="rotate(-45 155.9 437.3)">MHC-I<tspan font-size="5.0" dy="-3">HET</tspan></text>
<text x="172.40" y="437.30" font-size="7.6" text-anchor="end" fill="#231f20" stroke="#231f20" stroke-width="0.11399999999999999" font-weight="normal" font-style="normal" transform="rotate(-45 172.4 437.3)">Parental</text>
<line x1="137.30" y1="403.00" x2="137.30" y2="416.00" stroke="#111" stroke-width="1.0"/>
<line x1="135.30" y1="403.00" x2="139.30" y2="403.00" stroke="#111" stroke-width="1.0"/>
<line x1="135.30" y1="416.00" x2="139.30" y2="416.00" stroke="#111" stroke-width="1.0"/>
<path d="M131.80,406.20 L133.60,404.40 L141.00,404.40 L142.80,406.20 L142.80,411.20 L141.00,413.00 L133.60,413.00 L131.80,411.20 Z" fill="#262626" stroke="#111" stroke-width="1.05"/>
<line x1="131.80" y1="408.60" x2="142.80" y2="408.60" stroke="#111" stroke-width="0.9"/>
<line x1="153.90" y1="346.20" x2="153.90" y2="354.40" stroke="#111" stroke-width="1.0"/>
<line x1="151.90" y1="346.20" x2="155.90" y2="346.20" stroke="#111" stroke-width="1.0"/>
<line x1="151.90" y1="354.40" x2="155.90" y2="354.40" stroke="#111" stroke-width="1.0"/>
<path d="M148.20,348.80 L150.00,347.00 L157.80,347.00 L159.60,348.80 L159.60,351.40 L157.80,353.20 L150.00,353.20 L148.20,351.40 Z" fill="#143e44" stroke="#111" stroke-width="1.05"/>
<line x1="148.20" y1="350.00" x2="159.60" y2="350.00" stroke="#111" stroke-width="0.9"/>
<line x1="170.30" y1="357.40" x2="170.30" y2="375.80" stroke="#111" stroke-width="1.0"/>
<line x1="168.30" y1="357.40" x2="172.30" y2="357.40" stroke="#111" stroke-width="1.0"/>
<line x1="168.30" y1="375.80" x2="172.30" y2="375.80" stroke="#111" stroke-width="1.0"/>
<path d="M165.00,360.40 L166.80,358.60 L173.80,358.60 L175.60,360.40 L175.60,372.80 L173.80,374.60 L166.80,374.60 L165.00,372.80 Z" fill="#a4171f" stroke="#111" stroke-width="1.05"/>
<line x1="165.00" y1="367.20" x2="175.60" y2="367.20" stroke="#111" stroke-width="0.9"/>
<circle cx="170.30" cy="361.27" r="0.90" fill="#111" stroke="none" stroke-width="0.5" opacity="0.75"/>
<circle cx="170.30" cy="366.60" r="0.90" fill="#111" stroke="none" stroke-width="0.5" opacity="0.75"/>
<circle cx="170.30" cy="371.93" r="0.90" fill="#111" stroke="none" stroke-width="0.5" opacity="0.75"/>
<polyline points="136.90,332.40 136.90,314.50 170.00,314.50 170.00,318.90" stroke="#231f20" stroke-width="0.9" fill="none"/>
<polyline points="153.60,328.50 153.60,324.70 170.30,324.70 170.30,357.00" stroke="#231f20" stroke-width="0.9" fill="none"/>
<polyline points="137.00,399.50 137.00,338.50 153.90,338.50 153.90,343.50" stroke="#231f20" stroke-width="0.9" fill="none"/>
<circle cx="148.05" cy="311.70" r="0.95" fill="#000" stroke="none" stroke-width="0.5"/>
<circle cx="151.55" cy="311.70" r="0.95" fill="#000" stroke="none" stroke-width="0.5"/>
<circle cx="155.05" cy="311.70" r="0.95" fill="#000" stroke="none" stroke-width="0.5"/>
<circle cx="158.55" cy="311.70" r="0.95" fill="#000" stroke="none" stroke-width="0.5"/>
<circle cx="160.45" cy="322.10" r="0.95" fill="#000" stroke="none" stroke-width="0.5"/>
<circle cx="163.95" cy="322.10" r="0.95" fill="#000" stroke="none" stroke-width="0.5"/>
<circle cx="139.95" cy="335.80" r="0.95" fill="#000" stroke="none" stroke-width="0.5"/>
<circle cx="143.45" cy="335.80" r="0.95" fill="#000" stroke="none" stroke-width="0.5"/>
<circle cx="146.95" cy="335.80" r="0.95" fill="#000" stroke="none" stroke-width="0.5"/>
<circle cx="150.45" cy="335.80" r="0.95" fill="#000" stroke="none" stroke-width="0.5"/>
<text x="245.30" y="310.20" font-size="7.9" text-anchor="middle" fill="#000" stroke="#000" stroke-width="0.08" font-weight="bold" font-style="normal">T cells</text>
<line x1="212.60" y1="314.10" x2="275.60" y2="314.10" stroke="#231f20" stroke-width="1.0"/>
<line x1="217.80" y1="335.00" x2="217.80" y2="426.50" stroke="#231f20" stroke-width="1.0"/>
<line x1="217.80" y1="426.50" x2="279.00" y2="426.50" stroke="#231f20" stroke-width="1.0"/>
<line x1="213.90" y1="426.50" x2="217.80" y2="426.50" stroke="#231f20" stroke-width="0.9"/>
<text x="212.30" y="429.30" font-size="7.9" text-anchor="end" fill="#231f20" stroke="#231f20" stroke-width="0.1254" font-weight="normal" font-style="normal">0</text>
<line x1="213.90" y1="396.30" x2="217.80" y2="396.30" stroke="#231f20" stroke-width="0.9"/>
<text x="212.30" y="399.10" font-size="7.9" text-anchor="end" fill="#231f20" stroke="#231f20" stroke-width="0.1254" font-weight="normal" font-style="normal">20</text>
<line x1="213.90" y1="366.10" x2="217.80" y2="366.10" stroke="#231f20" stroke-width="0.9"/>
<text x="212.30" y="368.90" font-size="7.9" text-anchor="end" fill="#231f20" stroke="#231f20" stroke-width="0.1254" font-weight="normal" font-style="normal">40</text>
<line x1="213.90" y1="335.90" x2="217.80" y2="335.90" stroke="#231f20" stroke-width="0.9"/>
<text x="212.30" y="338.70" font-size="7.9" text-anchor="end" fill="#231f20" stroke="#231f20" stroke-width="0.1254" font-weight="normal" font-style="normal">60</text>
<line x1="230.40" y1="426.50" x2="230.40" y2="429.90" stroke="#231f20" stroke-width="0.9"/>
<line x1="248.20" y1="426.50" x2="248.20" y2="429.90" stroke="#231f20" stroke-width="0.9"/>
<line x1="266.60" y1="426.50" x2="266.60" y2="429.90" stroke="#231f20" stroke-width="0.9"/>
<text x="199.60" y="382.40" font-size="8.1" text-anchor="middle" fill="#231f20" stroke="#231f20" stroke-width="0.133" font-weight="normal" font-style="normal" transform="rotate(-90 199.6 382.4) translate(199.6 382.4) scale(0.94 1) translate(-199.6 -382.4)">CD3<tspan font-size="5.5" dy="-3">+</tspan><tspan dy="3"> of CD45</tspan><tspan font-size="5.5" dy="-3">+</tspan><tspan dy="3"> population</tspan></text>
<text x="232.80" y="437.40" font-size="7.6" text-anchor="end" fill="#231f20" stroke="#231f20" stroke-width="0.11399999999999999" font-weight="normal" font-style="normal" transform="rotate(-45 232.8 437.4)"><tspan font-style="italic">B2M KO</tspan></text>
<text x="250.60" y="437.40" font-size="7.6" text-anchor="end" fill="#231f20" stroke="#231f20" stroke-width="0.11399999999999999" font-weight="normal" font-style="normal" transform="rotate(-45 250.6 437.4)">MHC-I<tspan font-size="5.0" dy="-3">HET</tspan></text>
<text x="269.00" y="437.40" font-size="7.6" text-anchor="end" fill="#231f20" stroke="#231f20" stroke-width="0.11399999999999999" font-weight="normal" font-style="normal" transform="rotate(-45 269.0 437.4)">Parental</text>
<path d="M225.00,426.50 L225.00,416.99 L235.60,416.99 L235.60,426.50" fill="none" stroke="#111" stroke-width="1.35"/>
<line x1="230.30" y1="414.12" x2="230.30" y2="419.70" stroke="#111" stroke-width="0.9"/>
<line x1="228.30" y1="414.12" x2="232.30" y2="414.12" stroke="#111" stroke-width="0.9"/>
<circle cx="228.80" cy="409.89" r="0.95" fill="#111" stroke="none" stroke-width="0.5"/>
<circle cx="230.80" cy="413.67" r="0.95" fill="#111" stroke="none" stroke-width="0.5"/>
<circle cx="232.10" cy="415.18" r="0.95" fill="#111" stroke="none" stroke-width="0.5"/>
<circle cx="229.30" cy="417.44" r="0.95" fill="#111" stroke="none" stroke-width="0.5"/>
<circle cx="231.30" cy="418.95" r="0.95" fill="#111" stroke="none" stroke-width="0.5"/>
<circle cx="228.30" cy="420.46" r="0.95" fill="#111" stroke="none" stroke-width="0.5"/>
<circle cx="232.30" cy="421.97" r="0.95" fill="#111" stroke="none" stroke-width="0.5"/>
<circle cx="230.30" cy="423.48" r="0.95" fill="#111" stroke="none" stroke-width="0.5"/>
<circle cx="229.30" cy="424.99" r="0.95" fill="#111" stroke="none" stroke-width="0.5"/>
<path d="M243.00,426.50 L243.00,399.32 L254.30,399.32 L254.30,426.50" fill="none" stroke="#2393a5" stroke-width="1.35"/>
<line x1="248.65" y1="394.19" x2="248.65" y2="404.61" stroke="#2393a5" stroke-width="0.9"/>
<line x1="246.65" y1="394.19" x2="250.65" y2="394.19" stroke="#2393a5" stroke-width="0.9"/>
<circle cx="248.65" cy="379.69" r="0.95" fill="#2393a5" stroke="none" stroke-width="0.5"/>
<circle cx="248.65" cy="381.95" r="0.95" fill="#2393a5" stroke="none" stroke-width="0.5"/>
<circle cx="249.15" cy="392.22" r="0.95" fill="#2393a5" stroke="none" stroke-width="0.5"/>
<circle cx="247.85" cy="398.56" r="0.95" fill="#2393a5" stroke="none" stroke-width="0.5"/>
<circle cx="248.65" cy="402.34" r="0.95" fill="#2393a5" stroke="none" stroke-width="0.5"/>
<circle cx="249.15" cy="406.87" r="0.95" fill="#2393a5" stroke="none" stroke-width="0.5"/>
<circle cx="248.35" cy="412.15" r="0.95" fill="#2393a5" stroke="none" stroke-width="0.5"/>
<circle cx="248.65" cy="416.69" r="0.95" fill="#2393a5" stroke="none" stroke-width="0.5"/>
<path d="M261.40,426.50 L261.40,371.23 L272.60,371.23 L272.60,426.50" fill="none" stroke="#b3263b" stroke-width="1.35"/>
<line x1="267.00" y1="365.80" x2="267.00" y2="376.67" stroke="#b3263b" stroke-width="0.9"/>
<line x1="265.00" y1="365.80" x2="269.00" y2="365.80" stroke="#b3263b" stroke-width="0.9"/>
<circle cx="267.00" cy="348.28" r="0.95" fill="#b3263b" stroke="none" stroke-width="0.5"/>
<circle cx="267.00" cy="352.81" r="0.95" fill="#b3263b" stroke="none" stroke-width="0.5"/>
<circle cx="267.00" cy="358.25" r="0.95" fill="#b3263b" stroke="none" stroke-width="0.5"/>
<circle cx="267.00" cy="361.87" r="0.95" fill="#b3263b" stroke="none" stroke-width="0.5"/>
<circle cx="267.00" cy="375.16" r="0.95" fill="#b3263b" stroke="none" stroke-width="0.5"/>
<circle cx="267.00" cy="382.71" r="0.95" fill="#b3263b" stroke="none" stroke-width="0.5"/>
<circle cx="267.00" cy="390.26" r="0.95" fill="#b3263b" stroke="none" stroke-width="0.5"/>
<circle cx="267.00" cy="395.55" r="0.95" fill="#b3263b" stroke="none" stroke-width="0.5"/>
<polyline points="230.40,403.80 230.40,338.40 246.70,338.40 246.70,373.80" stroke="#231f20" stroke-width="0.9" fill="none"/>
<polyline points="250.80,373.80 250.80,338.40 266.40,338.40 266.40,341.80" stroke="#231f20" stroke-width="0.9" fill="none"/>
<polyline points="230.30,331.40 230.30,322.40 266.90,322.40 266.90,327.60" stroke="#231f20" stroke-width="0.9" fill="none"/>
<circle cx="243.05" cy="318.80" r="0.95" fill="#000" stroke="none" stroke-width="0.5"/>
<circle cx="246.55" cy="318.80" r="0.95" fill="#000" stroke="none" stroke-width="0.5"/>
<circle cx="250.05" cy="318.80" r="0.95" fill="#000" stroke="none" stroke-width="0.5"/>
<circle cx="253.55" cy="318.80" r="0.95" fill="#000" stroke="none" stroke-width="0.5"/>
<circle cx="238.50" cy="334.80" r="0.95" fill="#000" stroke="none" stroke-width="0.5"/>
<circle cx="255.40" cy="334.80" r="0.95" fill="#000" stroke="none" stroke-width="0.5"/>
<circle cx="258.90" cy="334.80" r="0.95" fill="#000" stroke="none" stroke-width="0.5"/>
<circle cx="262.40" cy="334.80" r="0.95" fill="#000" stroke="none" stroke-width="0.5"/>
<text x="345.10" y="310.20" font-size="7.9" text-anchor="middle" fill="#000" stroke="#000" stroke-width="0.08" font-weight="bold" font-style="normal">NK cells</text>
<line x1="314.70" y1="314.50" x2="374.40" y2="314.50" stroke="#231f20" stroke-width="1.0"/>
<line x1="314.30" y1="339.50" x2="314.30" y2="426.50" stroke="#231f20" stroke-width="1.0"/>
<line x1="314.30" y1="426.50" x2="371.70" y2="426.50" stroke="#231f20" stroke-width="1.0"/>
<line x1="310.40" y1="426.50" x2="314.30" y2="426.50" stroke="#231f20" stroke-width="0.9"/>
<text x="308.80" y="429.30" font-size="7.9" text-anchor="end" fill="#231f20" stroke="#231f20" stroke-width="0.1254" font-weight="normal" font-style="normal">0</text>
<line x1="310.40" y1="404.80" x2="314.30" y2="404.80" stroke="#231f20" stroke-width="0.9"/>
<text x="308.80" y="407.60" font-size="7.9" text-anchor="end" fill="#231f20" stroke="#231f20" stroke-width="0.1254" font-weight="normal" font-style="normal">2</text>
<line x1="310.40" y1="383.10" x2="314.30" y2="383.10" stroke="#231f20" stroke-width="0.9"/>
<text x="308.80" y="385.90" font-size="7.9" text-anchor="end" fill="#231f20" stroke="#231f20" stroke-width="0.1254" font-weight="normal" font-style="normal">4</text>
<line x1="310.40" y1="361.40" x2="314.30" y2="361.40" stroke="#231f20" stroke-width="0.9"/>
<text x="308.80" y="364.20" font-size="7.9" text-anchor="end" fill="#231f20" stroke="#231f20" stroke-width="0.1254" font-weight="normal" font-style="normal">6</text>
<line x1="310.40" y1="339.70" x2="314.30" y2="339.70" stroke="#231f20" stroke-width="0.9"/>
<text x="308.80" y="342.50" font-size="7.9" text-anchor="end" fill="#231f20" stroke="#231f20" stroke-width="0.1254" font-weight="normal" font-style="normal">8</text>
<line x1="325.90" y1="426.50" x2="325.90" y2="429.90" stroke="#231f20" stroke-width="0.9"/>
<line x1="343.10" y1="426.50" x2="343.10" y2="429.90" stroke="#231f20" stroke-width="0.9"/>
<line x1="360.30" y1="426.50" x2="360.30" y2="429.90" stroke="#231f20" stroke-width="0.9"/>
<text x="298.40" y="382.20" font-size="7.7" text-anchor="middle" fill="#231f20" stroke="#231f20" stroke-width="0.11780000000000002" font-weight="normal" font-style="normal" transform="rotate(-90 298.4 382.2) translate(298.4 382.2) scale(0.99 1) translate(-298.4 -382.2)">NKp46<tspan font-size="5.5" dy="-3">+</tspan><tspan dy="3">/CD3</tspan><tspan font-size="5.5" dy="-3">−</tspan><tspan dy="3"> of CD45</tspan><tspan font-size="5.5" dy="-3">+</tspan><tspan dy="3"> population</tspan></text>
<text x="330.70" y="437.60" font-size="7.6" text-anchor="end" fill="#231f20" stroke="#231f20" stroke-width="0.11399999999999999" font-weight="normal" font-style="normal" transform="rotate(-45 330.7 437.6)"><tspan font-style="italic">B2M KO</tspan></text>
<text x="347.90" y="437.60" font-size="9.0" text-anchor="end" fill="#231f20" stroke="#231f20" stroke-width="0.16720000000000002" font-weight="normal" font-style="normal" transform="rotate(-45 347.90000000000003 437.6)">MHC-I<tspan font-size="5.9" dy="-3">HET</tspan></text>
<text x="365.10" y="437.60" font-size="7.6" text-anchor="end" fill="#231f20" stroke="#231f20" stroke-width="0.11399999999999999" font-weight="normal" font-style="normal" transform="rotate(-45 365.1 437.6)">Parental</text>
<path d="M320.10,426.50 L320.10,421.62 L331.60,421.62 L331.60,426.50" fill="none" stroke="#111" stroke-width="1.35"/>
<line x1="325.85" y1="420.53" x2="325.85" y2="422.70" stroke="#111" stroke-width="0.9"/>
<line x1="323.85" y1="420.53" x2="327.85" y2="420.53" stroke="#111" stroke-width="0.9"/>
<circle cx="324.05" cy="418.36" r="0.95" fill="#111" stroke="none" stroke-width="0.5"/>
<circle cx="326.85" cy="421.07" r="0.95" fill="#111" stroke="none" stroke-width="0.5"/>
<circle cx="328.35" cy="422.16" r="0.95" fill="#111" stroke="none" stroke-width="0.5"/>
<circle cx="323.35" cy="423.25" r="0.95" fill="#111" stroke="none" stroke-width="0.5"/>
<circle cx="325.85" cy="422.70" r="0.95" fill="#111" stroke="none" stroke-width="0.5"/>
<circle cx="328.85" cy="424.33" r="0.95" fill="#111" stroke="none" stroke-width="0.5"/>
<circle cx="324.85" cy="424.87" r="0.95" fill="#111" stroke="none" stroke-width="0.5"/>
<path d="M337.30,426.50 L337.30,377.13 L348.40,377.13 L348.40,426.50" fill="none" stroke="#2393a5" stroke-width="1.35"/>
<line x1="342.85" y1="370.08" x2="342.85" y2="384.19" stroke="#2393a5" stroke-width="0.9"/>
<line x1="340.85" y1="370.08" x2="344.85" y2="370.08" stroke="#2393a5" stroke-width="0.9"/>
<circle cx="342.85" cy="358.14" r="0.95" fill="#2393a5" stroke="none" stroke-width="0.5"/>
<circle cx="343.35" cy="367.91" r="0.95" fill="#2393a5" stroke="none" stroke-width="0.5"/>
<circle cx="342.35" cy="380.93" r="0.95" fill="#2393a5" stroke="none" stroke-width="0.5"/>
<circle cx="342.85" cy="386.36" r="0.95" fill="#2393a5" stroke="none" stroke-width="0.5"/>
<circle cx="343.15" cy="391.78" r="0.95" fill="#2393a5" stroke="none" stroke-width="0.5"/>
<circle cx="342.55" cy="396.12" r="0.95" fill="#2393a5" stroke="none" stroke-width="0.5"/>
<path d="M354.50,426.50 L354.50,412.39 L365.50,412.39 L365.50,426.50" fill="none" stroke="#b3263b" stroke-width="1.35"/>
<line x1="360.00" y1="408.60" x2="360.00" y2="415.65" stroke="#b3263b" stroke-width="0.9"/>
<line x1="358.00" y1="408.60" x2="362.00" y2="408.60" stroke="#b3263b" stroke-width="0.9"/>
<circle cx="356.50" cy="403.71" r="0.95" fill="#b3263b" stroke="none" stroke-width="0.5"/>
<circle cx="358.80" cy="403.71" r="0.95" fill="#b3263b" stroke="none" stroke-width="0.5"/>
<circle cx="361.20" cy="403.71" r="0.95" fill="#b3263b" stroke="none" stroke-width="0.5"/>
<circle cx="363.50" cy="402.63" r="0.95" fill="#b3263b" stroke="none" stroke-width="0.5"/>
<circle cx="360.50" cy="409.14" r="0.95" fill="#b3263b" stroke="none" stroke-width="0.5"/>
<circle cx="358.00" cy="413.48" r="0.95" fill="#b3263b" stroke="none" stroke-width="0.5"/>
<circle cx="362.00" cy="416.74" r="0.95" fill="#b3263b" stroke="none" stroke-width="0.5"/>
<circle cx="359.00" cy="419.99" r="0.95" fill="#b3263b" stroke="none" stroke-width="0.5"/>
<circle cx="360.00" cy="424.33" r="0.95" fill="#b3263b" stroke="none" stroke-width="0.5"/>
<polyline points="325.70,422.00 325.70,326.60 343.20,326.60 343.20,331.40" stroke="#231f20" stroke-width="0.9" fill="none"/>
<polyline points="343.20,346.80 343.20,342.00 360.00,342.00 360.00,410.00" stroke="#231f20" stroke-width="0.9" fill="none"/>
<circle cx="328.95" cy="323.20" r="0.95" fill="#000" stroke="none" stroke-width="0.5"/>
<circle cx="332.45" cy="323.20" r="0.95" fill="#000" stroke="none" stroke-width="0.5"/>
<circle cx="335.95" cy="323.20" r="0.95" fill="#000" stroke="none" stroke-width="0.5"/>
<circle cx="339.45" cy="323.20" r="0.95" fill="#000" stroke="none" stroke-width="0.5"/>
<circle cx="345.95" cy="338.80" r="0.95" fill="#000" stroke="none" stroke-width="0.5"/>
<circle cx="349.45" cy="338.80" r="0.95" fill="#000" stroke="none" stroke-width="0.5"/>
<circle cx="352.95" cy="338.80" r="0.95" fill="#000" stroke="none" stroke-width="0.5"/>
<circle cx="356.45" cy="338.80" r="0.95" fill="#000" stroke="none" stroke-width="0.5"/>
<text x="402.30" y="443.40" font-size="8.4" text-anchor="start" fill="#000" stroke="#000" stroke-width="0.08" font-weight="bold" font-style="normal">NKp46</text>
<line x1="401.20" y1="431.80" x2="471.00" y2="431.80" stroke="#231f20" stroke-width="1.0"/>
<text x="388.80" y="412.30" font-size="8.4" text-anchor="middle" fill="#000" stroke="#000" stroke-width="0.08" font-weight="bold" font-style="normal" transform="rotate(-90 388.8 412.3)">CD3</text>
<line x1="391.00" y1="223.40" x2="391.00" y2="418.80" stroke="#231f20" stroke-width="1.0"/>
<rect x="400.30" y="203.10" width="68.90" height="68.10" fill="#fff" stroke="#8a8a8a" stroke-width="0.9"/>
<line x1="405.00" y1="271.20" x2="405.00" y2="272.80" stroke="#333" stroke-width="0.6"/>
<line x1="398.80" y1="267.20" x2="400.20" y2="267.20" stroke="#333" stroke-width="0.6"/>
<line x1="417.50" y1="271.20" x2="417.50" y2="272.80" stroke="#333" stroke-width="0.6"/>
<line x1="398.80" y1="254.70" x2="400.20" y2="254.70" stroke="#333" stroke-width="0.6"/>
<line x1="430.00" y1="271.20" x2="430.00" y2="272.80" stroke="#333" stroke-width="0.6"/>
<line x1="398.80" y1="242.20" x2="400.20" y2="242.20" stroke="#333" stroke-width="0.6"/>
<line x1="442.50" y1="271.20" x2="442.50" y2="272.80" stroke="#333" stroke-width="0.6"/>
<line x1="398.80" y1="229.70" x2="400.20" y2="229.70" stroke="#333" stroke-width="0.6"/>
<line x1="455.00" y1="271.20" x2="455.00" y2="272.80" stroke="#333" stroke-width="0.6"/>
<line x1="398.80" y1="217.20" x2="400.20" y2="217.20" stroke="#333" stroke-width="0.6"/>
<line x1="467.50" y1="271.20" x2="467.50" y2="272.80" stroke="#333" stroke-width="0.6"/>
<line x1="398.80" y1="204.70" x2="400.20" y2="204.70" stroke="#333" stroke-width="0.6"/>
<rect x="403.80" y="226.30" width="18.80" height="27.90" fill="none" stroke="#8a8a8a" stroke-width="0.7"/>
<rect x="420.00" y="257.10" width="23.60" height="8.70" fill="none" stroke="#8a8a8a" stroke-width="0.7"/>
<text x="416.60" y="223.70" font-size="9.0" text-anchor="middle" fill="#111" stroke="#111" stroke-width="0.08" font-weight="bold" font-style="normal">1.18</text>
<text x="440.70" y="254.80" font-size="9.0" text-anchor="middle" fill="#111" stroke="#111" stroke-width="0.08" font-weight="bold" font-style="normal">0.83</text>
<text x="473.60" y="248.80" font-size="8.8" text-anchor="start" fill="#000" stroke="#000" stroke-width="0.08" font-weight="bold" font-style="italic">B2M KO</text>
<path d="M404.6,265.8 C404.8,263.5 406.5,260.5 409.5,258.3 C412.5,256.2 416,254 418.8,252.6 C420.4,252.1 421.3,253.3 420.6,256 C419.8,258.6 418.4,261.6 417.2,265.4 C414,266.5 409,266.6 404.6,265.8 Z" fill="#151515"/>
<path d="M413.2,257.3a0.45,0.45 0 1,0 0.9,0a0.45,0.45 0 1,0 -0.9,0M413.9,263.0a0.45,0.45 0 1,0 0.9,0a0.45,0.45 0 1,0 -0.9,0M412.2,263.0a0.45,0.45 0 1,0 0.9,0a0.45,0.45 0 1,0 -0.9,0M414.2,261.8a0.45,0.45 0 1,0 0.9,0a0.45,0.45 0 1,0 -0.9,0M414.7,257.1a0.45,0.45 0 1,0 0.9,0a0.45,0.45 0 1,0 -0.9,0M419.3,253.3a0.45,0.45 0 1,0 0.9,0a0.45,0.45 0 1,0 -0.9,0M415.1,258.9a0.45,0.45 0 1,0 0.9,0a0.45,0.45 0 1,0 -0.9,0M407.6,259.7a0.45,0.45 0 1,0 0.9,0a0.45,0.45 0 1,0 -0.9,0M411.6,259.2a0.45,0.45 0 1,0 0.9,0a0.45,0.45 0 1,0 -0.9,0M412.0,258.3a0.45,0.45 0 1,0 0.9,0a0.45,0.45 0 1,0 -0.9,0M406.5,269.1a0.45,0.45 0 1,0 0.9,0a0.45,0.45 0 1,0 -0.9,0M411.4,254.7a0.45,0.45 0 1,0 0.9,0a0.45,0.45 0 1,0 -0.9,0M404.6,267.8a0.45,0.45 0 1,0 0.9,0a0.45,0.45 0 1,0 -0.9,0M413.0,261.1a0.45,0.45 0 1,0 0.9,0a0.45,0.45 0 1,0 -0.9,0M410.8,262.4a0.45,0.45 0 1,0 0.9,0a0.45,0.45 0 1,0 -0.9,0M415.3,257.9a0.45,0.45 0 1,0 0.9,0a0.45,0.45 0 1,0 -0.9,0M413.6,262.6a0.45,0.45 0 1,0 0.9,0a0.45,0.45 0 1,0 -0.9,0M412.3,255.7a0.45,0.45 0 1,0 0.9,0a0.45,0.45 0 1,0 -0.9,0M414.3,259.7a0.45,0.45 0 1,0 0.9,0a0.45,0.45 0 1,0 -0.9,0M406.0,263.8a0.45,0.45 0 1,0 0.9,0a0.45,0.45 0 1,0 -0.9,0M413.5,260.1a0.45,0.45 0 1,0 0.9,0a0.45,0.45 0 1,0 -0.9,0M403.0,269.3a0.45,0.45 0 1,0 0.9,0a0.45,0.45 0 1,0 -0.9,0M407.9,266.1a0.45,0.45 0 1,0 0.9,0a0.45,0.45 0 1,0 -0.9,0M413.4,262.4a0.45,0.45 0 1,0 0.9,0a0.45,0.45 0 1,0 -0.9,0M409.0,259.4a0.45,0.45 0 1,0 0.9,0a0.45,0.45 0 1,0 -0.9,0M408.3,263.6a0.45,0.45 0 1,0 0.9,0a0.45,0.45 0 1,0 -0.9,0M414.5,260.5a0.45,0.45 0 1,0 0.9,0a0.45,0.45 0 1,0 -0.9,0M405.0,265.2a0.45,0.45 0 1,0 0.9,0a0.45,0.45 0 1,0 -0.9,0M416.6,262.0a0.45,0.45 0 1,0 0.9,0a0.45,0.45 0 1,0 -0.9,0M410.5,263.2a0.45,0.45 0 1,0 0.9,0a0.45,0.45 0 1,0 -0.9,0M418.1,260.5a0.45,0.45 0 1,0 0.9,0a0.45,0.45 0 1,0 -0.9,0M411.8,264.8a0.45,0.45 0 1,0 0.9,0a0.45,0.45 0 1,0 -0.9,0M407.2,264.2a0.45,0.45 0 1,0 0.9,0a0.45,0.45 0 1,0 -0.9,0M410.0,262.7a0.45,0.45 0 1,0 0.9,0a0.45,0.45 0 1,0 -0.9,0M409.9,266.5a0.45,0.45 0 1,0 0.9,0a0.45,0.45 0 1,0 -0.9,0M413.4,255.8a0.45,0.45 0 1,0 0.9,0a0.45,0.45 0 1,0 -0.9,0M411.5,262.1a0.45,0.45 0 1,0 0.9,0a0.45,0.45 0 1,0 -0.9,0M416.0,256.5a0.45,0.45 0 1,0 0.9,0a0.45,0.45 0 1,0 -0.9,0M411.3,258.8a0.45,0.45 0 1,0 0.9,0a0.45,0.45 0 1,0 -0.9,0M408.6,265.5a0.45,0.45 0 1,0 0.9,0a0.45,0.45 0 1,0 -0.9,0M412.8,263.2a0.45,0.45 0 1,0 0.9,0a0.45,0.45 0 1,0 -0.9,0M411.1,260.8a0.45,0.45 0 1,0 0.9,0a0.45,0.45 0 1,0 -0.9,0M413.0,258.6a0.45,0.45 0 1,0 0.9,0a0.45,0.45 0 1,0 -0.9,0M405.8,265.7a0.45,0.45 0 1,0 0.9,0a0.45,0.45 0 1,0 -0.9,0M411.5,258.4a0.45,0.45 0 1,0 0.9,0a0.45,0.45 0 1,0 -0.9,0M415.5,258.9a0.45,0.45 0 1,0 0.9,0a0.45,0.45 0 1,0 -0.9,0M411.7,264.1a0.45,0.45 0 1,0 0.9,0a0.45,0.45 0 1,0 -0.9,0M410.2,264.2a0.45,0.45 0 1,0 0.9,0a0.45,0.45 0 1,0 -0.9,0M406.3,265.8a0.45,0.45 0 1,0 0.9,0a0.45,0.45 0 1,0 -0.9,0M413.6,255.4a0.45,0.45 0 1,0 0.9,0a0.45,0.45 0 1,0 -0.9,0M412.6,260.6a0.45,0.45 0 1,0 0.9,0a0.45,0.45 0 1,0 -0.9,0M411.8,258.8a0.45,0.45 0 1,0 0.9,0a0.45,0.45 0 1,0 -0.9,0M413.0,259.0a0.45,0.45 0 1,0 0.9,0a0.45,0.45 0 1,0 -0.9,0M410.7,262.4a0.45,0.45 0 1,0 0.9,0a0.45,0.45 0 1,0 -0.9,0M418.9,252.9a0.45,0.45 0 1,0 0.9,0a0.45,0.45 0 1,0 -0.9,0M407.0,262.4a0.45,0.45 0 1,0 0.9,0a0.45,0.45 0 1,0 -0.9,0M408.0,263.1a0.45,0.45 0 1,0 0.9,0a0.45,0.45 0 1,0 -0.9,0M409.0,262.2a0.45,0.45 0 1,0 0.9,0a0.45,0.45 0 1,0 -0.9,0M409.4,263.3a0.45,0.45 0 1,0 0.9,0a0.45,0.45 0 1,0 -0.9,0M412.6,258.7a0.45,0.45 0 1,0 0.9,0a0.45,0.45 0 1,0 -0.9,0M402.9,264.1a0.45,0.45 0 1,0 0.9,0a0.45,0.45 0 1,0 -0.9,0M404.4,270.1a0.45,0.45 0 1,0 0.9,0a0.45,0.45 0 1,0 -0.9,0M408.7,261.7a0.45,0.45 0 1,0 0.9,0a0.45,0.45 0 1,0 -0.9,0M411.6,262.4a0.45,0.45 0 1,0 0.9,0a0.45,0.45 0 1,0 -0.9,0M415.3,258.0a0.45,0.45 0 1,0 0.9,0a0.45,0.45 0 1,0 -0.9,0M410.4,259.7a0.45,0.45 0 1,0 0.9,0a0.45,0.45 0 1,0 -0.9,0M406.3,259.0a0.45,0.45 0 1,0 0.9,0a0.45,0.45 0 1,0 -0.9,0M416.5,257.3a0.45,0.45 0 1,0 0.9,0a0.45,0.45 0 1,0 -0.9,0M411.5,260.5a0.45,0.45 0 1,0 0.9,0a0.45,0.45 0 1,0 -0.9,0M413.9,258.0a0.45,0.45 0 1,0 0.9,0a0.45,0.45 0 1,0 -0.9,0M409.3,265.2a0.45,0.45 0 1,0 0.9,0a0.45,0.45 0 1,0 -0.9,0M417.3,260.3a0.45,0.45 0 1,0 0.9,0a0.45,0.45 0 1,0 -0.9,0M406.9,261.2a0.45,0.45 0 1,0 0.9,0a0.45,0.45 0 1,0 -0.9,0M405.2,264.1a0.45,0.45 0 1,0 0.9,0a0.45,0.45 0 1,0 -0.9,0M413.2,253.2a0.45,0.45 0 1,0 0.9,0a0.45,0.45 0 1,0 -0.9,0M416.6,256.6a0.45,0.45 0 1,0 0.9,0a0.45,0.45 0 1,0 -0.9,0M406.0,261.2a0.45,0.45 0 1,0 0.9,0a0.45,0.45 0 1,0 -0.9,0M414.9,254.2a0.45,0.45 0 1,0 0.9,0a0.45,0.45 0 1,0 -0.9,0M417.7,256.2a0.45,0.45 0 1,0 0.9,0a0.45,0.45 0 1,0 -0.9,0M411.4,263.8a0.45,0.45 0 1,0 0.9,0a0.45,0.45 0 1,0 -0.9,0M412.4,258.0a0.45,0.45 0 1,0 0.9,0a0.45,0.45 0 1,0 -0.9,0M408.8,262.2a0.45,0.45 0 1,0 0.9,0a0.45,0.45 0 1,0 -0.9,0M413.8,255.0a0.45,0.45 0 1,0 0.9,0a0.45,0.45 0 1,0 -0.9,0M408.9,263.4a0.45,0.45 0 1,0 0.9,0a0.45,0.45 0 1,0 -0.9,0M408.8,265.4a0.45,0.45 0 1,0 0.9,0a0.45,0.45 0 1,0 -0.9,0M413.9,256.6a0.45,0.45 0 1,0 0.9,0a0.45,0.45 0 1,0 -0.9,0M410.2,262.4a0.45,0.45 0 1,0 0.9,0a0.45,0.45 0 1,0 -0.9,0M407.3,259.1a0.45,0.45 0 1,0 0.9,0a0.45,0.45 0 1,0 -0.9,0M409.5,263.2a0.45,0.45 0 1,0 0.9,0a0.45,0.45 0 1,0 -0.9,0M407.6,262.0a0.45,0.45 0 1,0 0.9,0a0.45,0.45 0 1,0 -0.9,0M411.5,265.7a0.45,0.45 0 1,0 0.9,0a0.45,0.45 0 1,0 -0.9,0M412.4,259.8a0.45,0.45 0 1,0 0.9,0a0.45,0.45 0 1,0 -0.9,0M410.8,261.2a0.45,0.45 0 1,0 0.9,0a0.45,0.45 0 1,0 -0.9,0M412.2,259.3a0.45,0.45 0 1,0 0.9,0a0.45,0.45 0 1,0 -0.9,0M415.3,256.1a0.45,0.45 0 1,0 0.9,0a0.45,0.45 0 1,0 -0.9,0M414.9,256.5a0.45,0.45 0 1,0 0.9,0a0.45,0.45 0 1,0 -0.9,0M413.7,259.5a0.45,0.45 0 1,0 0.9,0a0.45,0.45 0 1,0 -0.9,0M413.2,263.0a0.45,0.45 0 1,0 0.9,0a0.45,0.45 0 1,0 -0.9,0M413.9,253.6a0.45,0.45 0 1,0 0.9,0a0.45,0.45 0 1,0 -0.9,0M412.2,262.8a0.45,0.45 0 1,0 0.9,0a0.45,0.45 0 1,0 -0.9,0M413.2,260.3a0.45,0.45 0 1,0 0.9,0a0.45,0.45 0 1,0 -0.9,0M416.9,261.1a0.45,0.45 0 1,0 0.9,0a0.45,0.45 0 1,0 -0.9,0M416.4,253.5a0.45,0.45 0 1,0 0.9,0a0.45,0.45 0 1,0 -0.9,0M415.5,263.4a0.45,0.45 0 1,0 0.9,0a0.45,0.45 0 1,0 -0.9,0M408.7,258.8a0.45,0.45 0 1,0 0.9,0a0.45,0.45 0 1,0 -0.9,0M413.1,262.0a0.45,0.45 0 1,0 0.9,0a0.45,0.45 0 1,0 -0.9,0M412.1,260.3a0.45,0.45 0 1,0 0.9,0a0.45,0.45 0 1,0 -0.9,0M406.8,264.4a0.45,0.45 0 1,0 0.9,0a0.45,0.45 0 1,0 -0.9,0M414.3,256.2a0.45,0.45 0 1,0 0.9,0a0.45,0.45 0 1,0 -0.9,0M415.3,257.1a0.45,0.45 0 1,0 0.9,0a0.45,0.45 0 1,0 -0.9,0M409.0,262.8a0.45,0.45 0 1,0 0.9,0a0.45,0.45 0 1,0 -0.9,0M418.8,253.9a0.45,0.45 0 1,0 0.9,0a0.45,0.45 0 1,0 -0.9,0M415.7,260.5a0.45,0.45 0 1,0 0.9,0a0.45,0.45 0 1,0 -0.9,0M415.9,257.0a0.45,0.45 0 1,0 0.9,0a0.45,0.45 0 1,0 -0.9,0M418.3,256.9a0.45,0.45 0 1,0 0.9,0a0.45,0.45 0 1,0 -0.9,0M411.4,261.6a0.45,0.45 0 1,0 0.9,0a0.45,0.45 0 1,0 -0.9,0M409.5,263.2a0.45,0.45 0 1,0 0.9,0a0.45,0.45 0 1,0 -0.9,0M412.1,260.4a0.45,0.45 0 1,0 0.9,0a0.45,0.45 0 1,0 -0.9,0M410.9,256.2a0.45,0.45 0 1,0 0.9,0a0.45,0.45 0 1,0 -0.9,0M413.3,258.0a0.45,0.45 0 1,0 0.9,0a0.45,0.45 0 1,0 -0.9,0M406.9,259.3a0.45,0.45 0 1,0 0.9,0a0.45,0.45 0 1,0 -0.9,0M410.8,266.9a0.45,0.45 0 1,0 0.9,0a0.45,0.45 0 1,0 -0.9,0M411.7,259.6a0.45,0.45 0 1,0 0.9,0a0.45,0.45 0 1,0 -0.9,0M406.5,260.9a0.45,0.45 0 1,0 0.9,0a0.45,0.45 0 1,0 -0.9,0M406.6,268.5a0.45,0.45 0 1,0 0.9,0a0.45,0.45 0 1,0 -0.9,0M411.6,261.8a0.45,0.45 0 1,0 0.9,0a0.45,0.45 0 1,0 -0.9,0M409.9,260.4a0.45,0.45 0 1,0 0.9,0a0.45,0.45 0 1,0 -0.9,0M409.5,258.6a0.45,0.45 0 1,0 0.9,0a0.45,0.45 0 1,0 -0.9,0M405.0,264.2a0.45,0.45 0 1,0 0.9,0a0.45,0.45 0 1,0 -0.9,0M419.6,254.3a0.45,0.45 0 1,0 0.9,0a0.45,0.45 0 1,0 -0.9,0M413.4,255.9a0.45,0.45 0 1,0 0.9,0a0.45,0.45 0 1,0 -0.9,0M412.4,260.8a0.45,0.45 0 1,0 0.9,0a0.45,0.45 0 1,0 -0.9,0M402.3,269.4a0.45,0.45 0 1,0 0.9,0a0.45,0.45 0 1,0 -0.9,0M415.9,257.4a0.45,0.45 0 1,0 0.9,0a0.45,0.45 0 1,0 -0.9,0M407.8,262.4a0.45,0.45 0 1,0 0.9,0a0.45,0.45 0 1,0 -0.9,0M411.8,259.1a0.45,0.45 0 1,0 0.9,0a0.45,0.45 0 1,0 -0.9,0M410.6,259.7a0.45,0.45 0 1,0 0.9,0a0.45,0.45 0 1,0 -0.9,0M407.2,258.7a0.45,0.45 0 1,0 0.9,0a0.45,0.45 0 1,0 -0.9,0M414.6,259.2a0.45,0.45 0 1,0 0.9,0a0.45,0.45 0 1,0 -0.9,0M414.4,258.4a0.45,0.45 0 1,0 0.9,0a0.45,0.45 0 1,0 -0.9,0M413.5,260.6a0.45,0.45 0 1,0 0.9,0a0.45,0.45 0 1,0 -0.9,0M411.0,262.1a0.45,0.45 0 1,0 0.9,0a0.45,0.45 0 1,0 -0.9,0M409.7,260.9a0.45,0.45 0 1,0 0.9,0a0.45,0.45 0 1,0 -0.9,0M409.5,264.0a0.45,0.45 0 1,0 0.9,0a0.45,0.45 0 1,0 -0.9,0M413.4,262.4a0.45,0.45 0 1,0 0.9,0a0.45,0.45 0 1,0 -0.9,0M410.8,261.1a0.45,0.45 0 1,0 0.9,0a0.45,0.45 0 1,0 -0.9,0M412.4,260.8a0.45,0.45 0 1,0 0.9,0a0.45,0.45 0 1,0 -0.9,0M413.4,261.8a0.45,0.45 0 1,0 0.9,0a0.45,0.45 0 1,0 -0.9,0M414.5,259.4a0.45,0.45 0 1,0 0.9,0a0.45,0.45 0 1,0 -0.9,0M407.9,265.1a0.45,0.45 0 1,0 0.9,0a0.45,0.45 0 1,0 -0.9,0M411.8,262.7a0.45,0.45 0 1,0 0.9,0a0.45,0.45 0 1,0 -0.9,0M408.3,261.8a0.45,0.45 0 1,0 0.9,0a0.45,0.45 0 1,0 -0.9,0M417.8,258.2a0.45,0.45 0 1,0 0.9,0a0.45,0.45 0 1,0 -0.9,0M406.6,260.8a0.45,0.45 0 1,0 0.9,0a0.45,0.45 0 1,0 -0.9,0M409.9,263.3a0.45,0.45 0 1,0 0.9,0a0.45,0.45 0 1,0 -0.9,0M409.8,262.1a0.45,0.45 0 1,0 0.9,0a0.45,0.45 0 1,0 -0.9,0M411.5,259.8a0.45,0.45 0 1,0 0.9,0a0.45,0.45 0 1,0 -0.9,0M415.5,256.2a0.45,0.45 0 1,0 0.9,0a0.45,0.45 0 1,0 -0.9,0M416.7,261.2a0.45,0.45 0 1,0 0.9,0a0.45,0.45 0 1,0 -0.9,0M410.9,255.2a0.45,0.45 0 1,0 0.9,0a0.45,0.45 0 1,0 -0.9,0M407.3,260.6a0.45,0.45 0 1,0 0.9,0a0.45,0.45 0 1,0 -0.9,0M408.6,264.6a0.45,0.45 0 1,0 0.9,0a0.45,0.45 0 1,0 -0.9,0M410.5,266.5a0.45,0.45 0 1,0 0.9,0a0.45,0.45 0 1,0 -0.9,0M411.2,263.9a0.45,0.45 0 1,0 0.9,0a0.45,0.45 0 1,0 -0.9,0M416.9,260.1a0.45,0.45 0 1,0 0.9,0a0.45,0.45 0 1,0 -0.9,0M402.1,262.7a0.45,0.45 0 1,0 0.9,0a0.45,0.45 0 1,0 -0.9,0M410.5,261.2a0.45,0.45 0 1,0 0.9,0a0.45,0.45 0 1,0 -0.9,0M420.9,255.3a0.45,0.45 0 1,0 0.9,0a0.45,0.45 0 1,0 -0.9,0M405.7,266.0a0.45,0.45 0 1,0 0.9,0a0.45,0.45 0 1,0 -0.9,0M411.4,262.0a0.45,0.45 0 1,0 0.9,0a0.45,0.45 0 1,0 -0.9,0M414.4,262.1a0.45,0.45 0 1,0 0.9,0a0.45,0.45 0 1,0 -0.9,0M416.0,258.1a0.45,0.45 0 1,0 0.9,0a0.45,0.45 0 1,0 -0.9,0M408.7,258.6a0.45,0.45 0 1,0 0.9,0a0.45,0.45 0 1,0 -0.9,0M404.9,267.4a0.45,0.45 0 1,0 0.9,0a0.45,0.45 0 1,0 -0.9,0M416.7,256.0a0.45,0.45 0 1,0 0.9,0a0.45,0.45 0 1,0 -0.9,0M413.9,259.9a0.45,0.45 0 1,0 0.9,0a0.45,0.45 0 1,0 -0.9,0M414.6,256.9a0.45,0.45 0 1,0 0.9,0a0.45,0.45 0 1,0 -0.9,0M409.6,265.1a0.45,0.45 0 1,0 0.9,0a0.45,0.45 0 1,0 -0.9,0M408.3,263.6a0.45,0.45 0 1,0 0.9,0a0.45,0.45 0 1,0 -0.9,0M411.7,268.0a0.45,0.45 0 1,0 0.9,0a0.45,0.45 0 1,0 -0.9,0M407.8,263.7a0.45,0.45 0 1,0 0.9,0a0.45,0.45 0 1,0 -0.9,0M414.0,259.3a0.45,0.45 0 1,0 0.9,0a0.45,0.45 0 1,0 -0.9,0M405.6,267.1a0.45,0.45 0 1,0 0.9,0a0.45,0.45 0 1,0 -0.9,0M414.7,262.5a0.45,0.45 0 1,0 0.9,0a0.45,0.45 0 1,0 -0.9,0M410.8,263.9a0.45,0.45 0 1,0 0.9,0a0.45,0.45 0 1,0 -0.9,0M411.8,260.7a0.45,0.45 0 1,0 0.9,0a0.45,0.45 0 1,0 -0.9,0M407.4,262.6a0.45,0.45 0 1,0 0.9,0a0.45,0.45 0 1,0 -0.9,0M411.7,262.7a0.45,0.45 0 1,0 0.9,0a0.45,0.45 0 1,0 -0.9,0M411.9,258.0a0.45,0.45 0 1,0 0.9,0a0.45,0.45 0 1,0 -0.9,0M409.4,264.7a0.45,0.45 0 1,0 0.9,0a0.45,0.45 0 1,0 -0.9,0M415.4,260.0a0.45,0.45 0 1,0 0.9,0a0.45,0.45 0 1,0 -0.9,0M411.7,257.2a0.45,0.45 0 1,0 0.9,0a0.45,0.45 0 1,0 -0.9,0M410.7,261.0a0.45,0.45 0 1,0 0.9,0a0.45,0.45 0 1,0 -0.9,0M409.8,261.4a0.45,0.45 0 1,0 0.9,0a0.45,0.45 0 1,0 -0.9,0M407.9,267.7a0.45,0.45 0 1,0 0.9,0a0.45,0.45 0 1,0 -0.9,0M413.0,266.1a0.45,0.45 0 1,0 0.9,0a0.45,0.45 0 1,0 -0.9,0M414.6,254.8a0.45,0.45 0 1,0 0.9,0a0.45,0.45 0 1,0 -0.9,0M412.5,262.0a0.45,0.45 0 1,0 0.9,0a0.45,0.45 0 1,0 -0.9,0M409.1,262.3a0.45,0.45 0 1,0 0.9,0a0.45,0.45 0 1,0 -0.9,0M408.7,260.0a0.45,0.45 0 1,0 0.9,0a0.45,0.45 0 1,0 -0.9,0M408.0,261.8a0.45,0.45 0 1,0 0.9,0a0.45,0.45 0 1,0 -0.9,0M411.6,264.4a0.45,0.45 0 1,0 0.9,0a0.45,0.45 0 1,0 -0.9,0M414.4,256.5a0.45,0.45 0 1,0 0.9,0a0.45,0.45 0 1,0 -0.9,0M412.0,261.1a0.45,0.45 0 1,0 0.9,0a0.45,0.45 0 1,0 -0.9,0M411.7,261.2a0.45,0.45 0 1,0 0.9,0a0.45,0.45 0 1,0 -0.9,0M407.8,262.5a0.45,0.45 0 1,0 0.9,0a0.45,0.45 0 1,0 -0.9,0M413.0,259.6a0.45,0.45 0 1,0 0.9,0a0.45,0.45 0 1,0 -0.9,0M410.8,263.1a0.45,0.45 0 1,0 0.9,0a0.45,0.45 0 1,0 -0.9,0M409.4,262.6a0.45,0.45 0 1,0 0.9,0a0.45,0.45 0 1,0 -0.9,0M406.5,268.5a0.45,0.45 0 1,0 0.9,0a0.45,0.45 0 1,0 -0.9,0M412.6,262.5a0.45,0.45 0 1,0 0.9,0a0.45,0.45 0 1,0 -0.9,0M415.2,258.7a0.45,0.45 0 1,0 0.9,0a0.45,0.45 0 1,0 -0.9,0M409.8,259.5a0.45,0.45 0 1,0 0.9,0a0.45,0.45 0 1,0 -0.9,0M415.4,258.2a0.45,0.45 0 1,0 0.9,0a0.45,0.45 0 1,0 -0.9,0M409.1,259.5a0.45,0.45 0 1,0 0.9,0a0.45,0.45 0 1,0 -0.9,0M408.6,266.2a0.45,0.45 0 1,0 0.9,0a0.45,0.45 0 1,0 -0.9,0M411.6,264.5a0.45,0.45 0 1,0 0.9,0a0.45,0.45 0 1,0 -0.9,0M407.5,262.3a0.45,0.45 0 1,0 0.9,0a0.45,0.45 0 1,0 -0.9,0M416.1,257.8a0.45,0.45 0 1,0 0.9,0a0.45,0.45 0 1,0 -0.9,0" fill="#222" opacity="1.0"/>
<rect x="400.30" y="278.20" width="68.90" height="68.50" fill="#fff" stroke="#8a8a8a" stroke-width="0.9"/>
<line x1="405.00" y1="346.70" x2="405.00" y2="348.30" stroke="#333" stroke-width="0.6"/>
<line x1="398.80" y1="342.70" x2="400.20" y2="342.70" stroke="#333" stroke-width="0.6"/>
<line x1="417.50" y1="346.70" x2="417.50" y2="348.30" stroke="#333" stroke-width="0.6"/>
<line x1="398.80" y1="330.20" x2="400.20" y2="330.20" stroke="#333" stroke-width="0.6"/>
<line x1="430.00" y1="346.70" x2="430.00" y2="348.30" stroke="#333" stroke-width="0.6"/>
<line x1="398.80" y1="317.70" x2="400.20" y2="317.70" stroke="#333" stroke-width="0.6"/>
<line x1="442.50" y1="346.70" x2="442.50" y2="348.30" stroke="#333" stroke-width="0.6"/>
<line x1="398.80" y1="305.20" x2="400.20" y2="305.20" stroke="#333" stroke-width="0.6"/>
<line x1="455.00" y1="346.70" x2="455.00" y2="348.30" stroke="#333" stroke-width="0.6"/>
<line x1="398.80" y1="292.70" x2="400.20" y2="292.70" stroke="#333" stroke-width="0.6"/>
<line x1="467.50" y1="346.70" x2="467.50" y2="348.30" stroke="#333" stroke-width="0.6"/>
<line x1="398.80" y1="280.20" x2="400.20" y2="280.20" stroke="#333" stroke-width="0.6"/>
<rect x="403.80" y="301.40" width="18.80" height="28.90" fill="none" stroke="#8a8a8a" stroke-width="0.7"/>
<rect x="420.00" y="332.80" width="23.60" height="7.80" fill="none" stroke="#8a8a8a" stroke-width="0.7"/>
<text x="417.60" y="298.00" font-size="9.0" text-anchor="middle" fill="#111" stroke="#111" stroke-width="0.08" font-weight="bold" font-style="normal">33.2</text>
<text x="439.40" y="328.80" font-size="9.0" text-anchor="middle" fill="#111" stroke="#111" stroke-width="0.08" font-weight="bold" font-style="normal">4.83</text>
<text x="473.60" y="325.80" font-size="8.8" text-anchor="start" fill="#1c9aa6" stroke="#1c9aa6" stroke-width="0.08" font-weight="bold" font-style="normal">MHC-I<tspan font-size="5.6" dy="-3.3">HET</tspan></text>
<path d="M410.2,341 C409.6,333 409.8,325 410.8,320.5 C411.8,317.6 413.4,316.8 415,317 C417,317.2 418.6,318.4 419.3,321 C420,326 419.8,333 419.6,337 Z" fill="#0e6764"/>
<ellipse cx="414.6" cy="338.8" rx="6.6" ry="2.6" fill="#0e6764"/>
<path d="M416.7,339.9a0.42,0.42 0 1,0 0.84,0a0.42,0.42 0 1,0 -0.84,0M420.7,332.6a0.42,0.42 0 1,0 0.84,0a0.42,0.42 0 1,0 -0.84,0M415.2,339.7a0.42,0.42 0 1,0 0.84,0a0.42,0.42 0 1,0 -0.84,0M416.0,316.0a0.42,0.42 0 1,0 0.84,0a0.42,0.42 0 1,0 -0.84,0M425.5,340.7a0.42,0.42 0 1,0 0.84,0a0.42,0.42 0 1,0 -0.84,0M416.7,327.2a0.42,0.42 0 1,0 0.84,0a0.42,0.42 0 1,0 -0.84,0M412.7,319.8a0.42,0.42 0 1,0 0.84,0a0.42,0.42 0 1,0 -0.84,0M412.4,322.5a0.42,0.42 0 1,0 0.84,0a0.42,0.42 0 1,0 -0.84,0M417.4,336.5a0.42,0.42 0 1,0 0.84,0a0.42,0.42 0 1,0 -0.84,0M416.3,324.6a0.42,0.42 0 1,0 0.84,0a0.42,0.42 0 1,0 -0.84,0M412.6,325.3a0.42,0.42 0 1,0 0.84,0a0.42,0.42 0 1,0 -0.84,0M417.3,329.0a0.42,0.42 0 1,0 0.84,0a0.42,0.42 0 1,0 -0.84,0M414.5,314.6a0.42,0.42 0 1,0 0.84,0a0.42,0.42 0 1,0 -0.84,0M417.7,318.3a0.42,0.42 0 1,0 0.84,0a0.42,0.42 0 1,0 -0.84,0M414.9,338.7a0.42,0.42 0 1,0 0.84,0a0.42,0.42 0 1,0 -0.84,0M416.0,337.5a0.42,0.42 0 1,0 0.84,0a0.42,0.42 0 1,0 -0.84,0M410.5,332.3a0.42,0.42 0 1,0 0.84,0a0.42,0.42 0 1,0 -0.84,0M409.1,322.7a0.42,0.42 0 1,0 0.84,0a0.42,0.42 0 1,0 -0.84,0M414.4,333.4a0.42,0.42 0 1,0 0.84,0a0.42,0.42 0 1,0 -0.84,0M415.5,314.9a0.42,0.42 0 1,0 0.84,0a0.42,0.42 0 1,0 -0.84,0M414.4,340.5a0.42,0.42 0 1,0 0.84,0a0.42,0.42 0 1,0 -0.84,0M415.1,333.8a0.42,0.42 0 1,0 0.84,0a0.42,0.42 0 1,0 -0.84,0M413.3,336.7a0.42,0.42 0 1,0 0.84,0a0.42,0.42 0 1,0 -0.84,0M415.4,336.2a0.42,0.42 0 1,0 0.84,0a0.42,0.42 0 1,0 -0.84,0M415.6,339.0a0.42,0.42 0 1,0 0.84,0a0.42,0.42 0 1,0 -0.84,0M415.5,340.8a0.42,0.42 0 1,0 0.84,0a0.42,0.42 0 1,0 -0.84,0M413.5,323.5a0.42,0.42 0 1,0 0.84,0a0.42,0.42 0 1,0 -0.84,0M408.5,337.8a0.42,0.42 0 1,0 0.84,0a0.42,0.42 0 1,0 -0.84,0M416.3,337.1a0.42,0.42 0 1,0 0.84,0a0.42,0.42 0 1,0 -0.84,0M415.8,339.6a0.42,0.42 0 1,0 0.84,0a0.42,0.42 0 1,0 -0.84,0M413.4,341.7a0.42,0.42 0 1,0 0.84,0a0.42,0.42 0 1,0 -0.84,0M419.1,322.9a0.42,0.42 0 1,0 0.84,0a0.42,0.42 0 1,0 -0.84,0M409.6,335.9a0.42,0.42 0 1,0 0.84,0a0.42,0.42 0 1,0 -0.84,0M409.0,336.3a0.42,0.42 0 1,0 0.84,0a0.42,0.42 0 1,0 -0.84,0M410.1,320.7a0.42,0.42 0 1,0 0.84,0a0.42,0.42 0 1,0 -0.84,0M411.4,337.5a0.42,0.42 0 1,0 0.84,0a0.42,0.42 0 1,0 -0.84,0M411.6,323.4a0.42,0.42 0 1,0 0.84,0a0.42,0.42 0 1,0 -0.84,0M413.4,339.0a0.42,0.42 0 1,0 0.84,0a0.42,0.42 0 1,0 -0.84,0M418.2,315.5a0.42,0.42 0 1,0 0.84,0a0.42,0.42 0 1,0 -0.84,0M416.8,338.8a0.42,0.42 0 1,0 0.84,0a0.42,0.42 0 1,0 -0.84,0M412.4,339.7a0.42,0.42 0 1,0 0.84,0a0.42,0.42 0 1,0 -0.84,0M412.4,333.2a0.42,0.42 0 1,0 0.84,0a0.42,0.42 0 1,0 -0.84,0M411.0,332.6a0.42,0.42 0 1,0 0.84,0a0.42,0.42 0 1,0 -0.84,0M416.7,322.9a0.42,0.42 0 1,0 0.84,0a0.42,0.42 0 1,0 -0.84,0M416.7,334.6a0.42,0.42 0 1,0 0.84,0a0.42,0.42 0 1,0 -0.84,0M410.3,339.2a0.42,0.42 0 1,0 0.84,0a0.42,0.42 0 1,0 -0.84,0M415.9,338.6a0.42,0.42 0 1,0 0.84,0a0.42,0.42 0 1,0 -0.84,0M414.2,332.7a0.42,0.42 0 1,0 0.84,0a0.42,0.42 0 1,0 -0.84,0M410.1,337.6a0.42,0.42 0 1,0 0.84,0a0.42,0.42 0 1,0 -0.84,0M408.2,327.0a0.42,0.42 0 1,0 0.84,0a0.42,0.42 0 1,0 -0.84,0M415.2,325.5a0.42,0.42 0 1,0 0.84,0a0.42,0.42 0 1,0 -0.84,0M414.0,321.7a0.42,0.42 0 1,0 0.84,0a0.42,0.42 0 1,0 -0.84,0M417.1,338.0a0.42,0.42 0 1,0 0.84,0a0.42,0.42 0 1,0 -0.84,0M420.0,338.1a0.42,0.42 0 1,0 0.84,0a0.42,0.42 0 1,0 -0.84,0M412.5,333.4a0.42,0.42 0 1,0 0.84,0a0.42,0.42 0 1,0 -0.84,0M415.1,334.4a0.42,0.42 0 1,0 0.84,0a0.42,0.42 0 1,0 -0.84,0M410.9,338.1a0.42,0.42 0 1,0 0.84,0a0.42,0.42 0 1,0 -0.84,0M410.3,338.6a0.42,0.42 0 1,0 0.84,0a0.42,0.42 0 1,0 -0.84,0M416.2,316.7a0.42,0.42 0 1,0 0.84,0a0.42,0.42 0 1,0 -0.84,0M415.5,339.3a0.42,0.42 0 1,0 0.84,0a0.42,0.42 0 1,0 -0.84,0M411.1,339.2a0.42,0.42 0 1,0 0.84,0a0.42,0.42 0 1,0 -0.84,0M412.4,315.1a0.42,0.42 0 1,0 0.84,0a0.42,0.42 0 1,0 -0.84,0M408.0,338.3a0.42,0.42 0 1,0 0.84,0a0.42,0.42 0 1,0 -0.84,0M412.5,330.6a0.42,0.42 0 1,0 0.84,0a0.42,0.42 0 1,0 -0.84,0M414.2,323.3a0.42,0.42 0 1,0 0.84,0a0.42,0.42 0 1,0 -0.84,0M417.2,327.5a0.42,0.42 0 1,0 0.84,0a0.42,0.42 0 1,0 -0.84,0M411.4,338.8a0.42,0.42 0 1,0 0.84,0a0.42,0.42 0 1,0 -0.84,0M414.9,334.0a0.42,0.42 0 1,0 0.84,0a0.42,0.42 0 1,0 -0.84,0M407.8,325.3a0.42,0.42 0 1,0 0.84,0a0.42,0.42 0 1,0 -0.84,0M406.5,339.7a0.42,0.42 0 1,0 0.84,0a0.42,0.42 0 1,0 -0.84,0M415.2,341.6a0.42,0.42 0 1,0 0.84,0a0.42,0.42 0 1,0 -0.84,0M415.2,340.9a0.42,0.42 0 1,0 0.84,0a0.42,0.42 0 1,0 -0.84,0M413.0,337.9a0.42,0.42 0 1,0 0.84,0a0.42,0.42 0 1,0 -0.84,0M413.8,335.1a0.42,0.42 0 1,0 0.84,0a0.42,0.42 0 1,0 -0.84,0M414.0,322.5a0.42,0.42 0 1,0 0.84,0a0.42,0.42 0 1,0 -0.84,0M415.0,327.1a0.42,0.42 0 1,0 0.84,0a0.42,0.42 0 1,0 -0.84,0M416.0,339.2a0.42,0.42 0 1,0 0.84,0a0.42,0.42 0 1,0 -0.84,0M419.2,335.2a0.42,0.42 0 1,0 0.84,0a0.42,0.42 0 1,0 -0.84,0M412.0,319.3a0.42,0.42 0 1,0 0.84,0a0.42,0.42 0 1,0 -0.84,0M414.9,314.9a0.42,0.42 0 1,0 0.84,0a0.42,0.42 0 1,0 -0.84,0M417.5,317.6a0.42,0.42 0 1,0 0.84,0a0.42,0.42 0 1,0 -0.84,0M412.4,333.1a0.42,0.42 0 1,0 0.84,0a0.42,0.42 0 1,0 -0.84,0M411.2,336.2a0.42,0.42 0 1,0 0.84,0a0.42,0.42 0 1,0 -0.84,0M409.0,337.8a0.42,0.42 0 1,0 0.84,0a0.42,0.42 0 1,0 -0.84,0M406.7,338.2a0.42,0.42 0 1,0 0.84,0a0.42,0.42 0 1,0 -0.84,0M413.4,324.4a0.42,0.42 0 1,0 0.84,0a0.42,0.42 0 1,0 -0.84,0M420.4,315.2a0.42,0.42 0 1,0 0.84,0a0.42,0.42 0 1,0 -0.84,0M417.4,339.3a0.42,0.42 0 1,0 0.84,0a0.42,0.42 0 1,0 -0.84,0M414.4,337.4a0.42,0.42 0 1,0 0.84,0a0.42,0.42 0 1,0 -0.84,0M415.9,336.3a0.42,0.42 0 1,0 0.84,0a0.42,0.42 0 1,0 -0.84,0M418.0,321.6a0.42,0.42 0 1,0 0.84,0a0.42,0.42 0 1,0 -0.84,0M413.8,322.0a0.42,0.42 0 1,0 0.84,0a0.42,0.42 0 1,0 -0.84,0M410.5,335.2a0.42,0.42 0 1,0 0.84,0a0.42,0.42 0 1,0 -0.84,0M408.6,325.8a0.42,0.42 0 1,0 0.84,0a0.42,0.42 0 1,0 -0.84,0M414.8,315.3a0.42,0.42 0 1,0 0.84,0a0.42,0.42 0 1,0 -0.84,0M414.3,333.5a0.42,0.42 0 1,0 0.84,0a0.42,0.42 0 1,0 -0.84,0M414.0,337.0a0.42,0.42 0 1,0 0.84,0a0.42,0.42 0 1,0 -0.84,0M410.4,339.5a0.42,0.42 0 1,0 0.84,0a0.42,0.42 0 1,0 -0.84,0M413.5,338.0a0.42,0.42 0 1,0 0.84,0a0.42,0.42 0 1,0 -0.84,0M415.1,338.5a0.42,0.42 0 1,0 0.84,0a0.42,0.42 0 1,0 -0.84,0M413.2,338.8a0.42,0.42 0 1,0 0.84,0a0.42,0.42 0 1,0 -0.84,0M416.3,318.6a0.42,0.42 0 1,0 0.84,0a0.42,0.42 0 1,0 -0.84,0M407.3,339.1a0.42,0.42 0 1,0 0.84,0a0.42,0.42 0 1,0 -0.84,0M409.3,334.0a0.42,0.42 0 1,0 0.84,0a0.42,0.42 0 1,0 -0.84,0M418.5,335.4a0.42,0.42 0 1,0 0.84,0a0.42,0.42 0 1,0 -0.84,0M413.3,315.5a0.42,0.42 0 1,0 0.84,0a0.42,0.42 0 1,0 -0.84,0M414.0,321.2a0.42,0.42 0 1,0 0.84,0a0.42,0.42 0 1,0 -0.84,0M414.2,328.8a0.42,0.42 0 1,0 0.84,0a0.42,0.42 0 1,0 -0.84,0M413.6,338.6a0.42,0.42 0 1,0 0.84,0a0.42,0.42 0 1,0 -0.84,0M417.7,329.5a0.42,0.42 0 1,0 0.84,0a0.42,0.42 0 1,0 -0.84,0M415.6,329.7a0.42,0.42 0 1,0 0.84,0a0.42,0.42 0 1,0 -0.84,0M415.1,317.3a0.42,0.42 0 1,0 0.84,0a0.42,0.42 0 1,0 -0.84,0M411.0,338.5a0.42,0.42 0 1,0 0.84,0a0.42,0.42 0 1,0 -0.84,0M417.0,339.8a0.42,0.42 0 1,0 0.84,0a0.42,0.42 0 1,0 -0.84,0M416.6,316.1a0.42,0.42 0 1,0 0.84,0a0.42,0.42 0 1,0 -0.84,0M421.3,338.4a0.42,0.42 0 1,0 0.84,0a0.42,0.42 0 1,0 -0.84,0M414.1,318.3a0.42,0.42 0 1,0 0.84,0a0.42,0.42 0 1,0 -0.84,0M416.5,337.9a0.42,0.42 0 1,0 0.84,0a0.42,0.42 0 1,0 -0.84,0M416.0,338.2a0.42,0.42 0 1,0 0.84,0a0.42,0.42 0 1,0 -0.84,0M413.3,335.6a0.42,0.42 0 1,0 0.84,0a0.42,0.42 0 1,0 -0.84,0M411.2,333.5a0.42,0.42 0 1,0 0.84,0a0.42,0.42 0 1,0 -0.84,0M418.8,330.1a0.42,0.42 0 1,0 0.84,0a0.42,0.42 0 1,0 -0.84,0M412.4,342.0a0.42,0.42 0 1,0 0.84,0a0.42,0.42 0 1,0 -0.84,0M417.5,334.0a0.42,0.42 0 1,0 0.84,0a0.42,0.42 0 1,0 -0.84,0M422.4,339.7a0.42,0.42 0 1,0 0.84,0a0.42,0.42 0 1,0 -0.84,0M416.1,338.5a0.42,0.42 0 1,0 0.84,0a0.42,0.42 0 1,0 -0.84,0M405.6,339.6a0.42,0.42 0 1,0 0.84,0a0.42,0.42 0 1,0 -0.84,0M418.0,339.4a0.42,0.42 0 1,0 0.84,0a0.42,0.42 0 1,0 -0.84,0M418.1,314.3a0.42,0.42 0 1,0 0.84,0a0.42,0.42 0 1,0 -0.84,0M408.4,339.9a0.42,0.42 0 1,0 0.84,0a0.42,0.42 0 1,0 -0.84,0M416.9,339.8a0.42,0.42 0 1,0 0.84,0a0.42,0.42 0 1,0 -0.84,0M411.4,319.7a0.42,0.42 0 1,0 0.84,0a0.42,0.42 0 1,0 -0.84,0M411.8,338.1a0.42,0.42 0 1,0 0.84,0a0.42,0.42 0 1,0 -0.84,0M414.7,315.5a0.42,0.42 0 1,0 0.84,0a0.42,0.42 0 1,0 -0.84,0M412.8,334.1a0.42,0.42 0 1,0 0.84,0a0.42,0.42 0 1,0 -0.84,0M420.2,336.3a0.42,0.42 0 1,0 0.84,0a0.42,0.42 0 1,0 -0.84,0M412.9,336.7a0.42,0.42 0 1,0 0.84,0a0.42,0.42 0 1,0 -0.84,0M414.8,336.0a0.42,0.42 0 1,0 0.84,0a0.42,0.42 0 1,0 -0.84,0M414.5,320.6a0.42,0.42 0 1,0 0.84,0a0.42,0.42 0 1,0 -0.84,0M413.2,326.3a0.42,0.42 0 1,0 0.84,0a0.42,0.42 0 1,0 -0.84,0M416.8,315.1a0.42,0.42 0 1,0 0.84,0a0.42,0.42 0 1,0 -0.84,0M409.7,324.2a0.42,0.42 0 1,0 0.84,0a0.42,0.42 0 1,0 -0.84,0M414.7,341.1a0.42,0.42 0 1,0 0.84,0a0.42,0.42 0 1,0 -0.84,0M415.8,336.9a0.42,0.42 0 1,0 0.84,0a0.42,0.42 0 1,0 -0.84,0M414.1,339.5a0.42,0.42 0 1,0 0.84,0a0.42,0.42 0 1,0 -0.84,0M416.3,328.5a0.42,0.42 0 1,0 0.84,0a0.42,0.42 0 1,0 -0.84,0M424.9,338.9a0.42,0.42 0 1,0 0.84,0a0.42,0.42 0 1,0 -0.84,0M411.0,318.0a0.42,0.42 0 1,0 0.84,0a0.42,0.42 0 1,0 -0.84,0M416.0,325.6a0.42,0.42 0 1,0 0.84,0a0.42,0.42 0 1,0 -0.84,0M414.7,321.9a0.42,0.42 0 1,0 0.84,0a0.42,0.42 0 1,0 -0.84,0M414.3,328.2a0.42,0.42 0 1,0 0.84,0a0.42,0.42 0 1,0 -0.84,0M411.7,320.3a0.42,0.42 0 1,0 0.84,0a0.42,0.42 0 1,0 -0.84,0M416.9,337.1a0.42,0.42 0 1,0 0.84,0a0.42,0.42 0 1,0 -0.84,0M415.2,338.1a0.42,0.42 0 1,0 0.84,0a0.42,0.42 0 1,0 -0.84,0M415.8,338.5a0.42,0.42 0 1,0 0.84,0a0.42,0.42 0 1,0 -0.84,0M412.2,338.3a0.42,0.42 0 1,0 0.84,0a0.42,0.42 0 1,0 -0.84,0M415.8,340.8a0.42,0.42 0 1,0 0.84,0a0.42,0.42 0 1,0 -0.84,0M413.6,316.3a0.42,0.42 0 1,0 0.84,0a0.42,0.42 0 1,0 -0.84,0M417.7,316.7a0.42,0.42 0 1,0 0.84,0a0.42,0.42 0 1,0 -0.84,0M411.3,323.4a0.42,0.42 0 1,0 0.84,0a0.42,0.42 0 1,0 -0.84,0M417.2,330.1a0.42,0.42 0 1,0 0.84,0a0.42,0.42 0 1,0 -0.84,0M407.7,337.7a0.42,0.42 0 1,0 0.84,0a0.42,0.42 0 1,0 -0.84,0M414.8,338.8a0.42,0.42 0 1,0 0.84,0a0.42,0.42 0 1,0 -0.84,0M416.8,318.5a0.42,0.42 0 1,0 0.84,0a0.42,0.42 0 1,0 -0.84,0M416.4,321.9a0.42,0.42 0 1,0 0.84,0a0.42,0.42 0 1,0 -0.84,0M417.0,327.0a0.42,0.42 0 1,0 0.84,0a0.42,0.42 0 1,0 -0.84,0M408.3,338.1a0.42,0.42 0 1,0 0.84,0a0.42,0.42 0 1,0 -0.84,0M420.9,318.4a0.42,0.42 0 1,0 0.84,0a0.42,0.42 0 1,0 -0.84,0M413.6,333.2a0.42,0.42 0 1,0 0.84,0a0.42,0.42 0 1,0 -0.84,0M413.9,337.4a0.42,0.42 0 1,0 0.84,0a0.42,0.42 0 1,0 -0.84,0M412.3,319.1a0.42,0.42 0 1,0 0.84,0a0.42,0.42 0 1,0 -0.84,0M414.3,314.9a0.42,0.42 0 1,0 0.84,0a0.42,0.42 0 1,0 -0.84,0M413.2,337.2a0.42,0.42 0 1,0 0.84,0a0.42,0.42 0 1,0 -0.84,0M410.8,338.7a0.42,0.42 0 1,0 0.84,0a0.42,0.42 0 1,0 -0.84,0M415.2,339.1a0.42,0.42 0 1,0 0.84,0a0.42,0.42 0 1,0 -0.84,0M412.1,337.0a0.42,0.42 0 1,0 0.84,0a0.42,0.42 0 1,0 -0.84,0M415.6,336.5a0.42,0.42 0 1,0 0.84,0a0.42,0.42 0 1,0 -0.84,0M414.7,325.5a0.42,0.42 0 1,0 0.84,0a0.42,0.42 0 1,0 -0.84,0M411.3,326.9a0.42,0.42 0 1,0 0.84,0a0.42,0.42 0 1,0 -0.84,0M416.7,321.1a0.42,0.42 0 1,0 0.84,0a0.42,0.42 0 1,0 -0.84,0M411.3,326.8a0.42,0.42 0 1,0 0.84,0a0.42,0.42 0 1,0 -0.84,0M418.2,339.5a0.42,0.42 0 1,0 0.84,0a0.42,0.42 0 1,0 -0.84,0M414.1,339.7a0.42,0.42 0 1,0 0.84,0a0.42,0.42 0 1,0 -0.84,0M413.5,330.9a0.42,0.42 0 1,0 0.84,0a0.42,0.42 0 1,0 -0.84,0M413.2,339.8a0.42,0.42 0 1,0 0.84,0a0.42,0.42 0 1,0 -0.84,0M417.0,331.1a0.42,0.42 0 1,0 0.84,0a0.42,0.42 0 1,0 -0.84,0M416.9,327.8a0.42,0.42 0 1,0 0.84,0a0.42,0.42 0 1,0 -0.84,0M418.1,338.3a0.42,0.42 0 1,0 0.84,0a0.42,0.42 0 1,0 -0.84,0M417.6,335.5a0.42,0.42 0 1,0 0.84,0a0.42,0.42 0 1,0 -0.84,0M414.2,339.0a0.42,0.42 0 1,0 0.84,0a0.42,0.42 0 1,0 -0.84,0M418.3,330.8a0.42,0.42 0 1,0 0.84,0a0.42,0.42 0 1,0 -0.84,0M409.7,337.7a0.42,0.42 0 1,0 0.84,0a0.42,0.42 0 1,0 -0.84,0M422.4,339.8a0.42,0.42 0 1,0 0.84,0a0.42,0.42 0 1,0 -0.84,0M413.6,325.1a0.42,0.42 0 1,0 0.84,0a0.42,0.42 0 1,0 -0.84,0M410.8,322.0a0.42,0.42 0 1,0 0.84,0a0.42,0.42 0 1,0 -0.84,0M415.1,338.0a0.42,0.42 0 1,0 0.84,0a0.42,0.42 0 1,0 -0.84,0M413.6,326.2a0.42,0.42 0 1,0 0.84,0a0.42,0.42 0 1,0 -0.84,0M412.9,339.4a0.42,0.42 0 1,0 0.84,0a0.42,0.42 0 1,0 -0.84,0M410.2,318.3a0.42,0.42 0 1,0 0.84,0a0.42,0.42 0 1,0 -0.84,0M411.1,340.5a0.42,0.42 0 1,0 0.84,0a0.42,0.42 0 1,0 -0.84,0M415.7,318.1a0.42,0.42 0 1,0 0.84,0a0.42,0.42 0 1,0 -0.84,0M410.6,332.5a0.42,0.42 0 1,0 0.84,0a0.42,0.42 0 1,0 -0.84,0M416.3,336.8a0.42,0.42 0 1,0 0.84,0a0.42,0.42 0 1,0 -0.84,0M415.1,337.6a0.42,0.42 0 1,0 0.84,0a0.42,0.42 0 1,0 -0.84,0M411.3,317.1a0.42,0.42 0 1,0 0.84,0a0.42,0.42 0 1,0 -0.84,0M413.3,321.9a0.42,0.42 0 1,0 0.84,0a0.42,0.42 0 1,0 -0.84,0M410.8,339.2a0.42,0.42 0 1,0 0.84,0a0.42,0.42 0 1,0 -0.84,0M410.8,335.3a0.42,0.42 0 1,0 0.84,0a0.42,0.42 0 1,0 -0.84,0M415.2,325.4a0.42,0.42 0 1,0 0.84,0a0.42,0.42 0 1,0 -0.84,0M416.1,333.4a0.42,0.42 0 1,0 0.84,0a0.42,0.42 0 1,0 -0.84,0M404.9,340.9a0.42,0.42 0 1,0 0.84,0a0.42,0.42 0 1,0 -0.84,0M414.8,321.1a0.42,0.42 0 1,0 0.84,0a0.42,0.42 0 1,0 -0.84,0M420.5,333.6a0.42,0.42 0 1,0 0.84,0a0.42,0.42 0 1,0 -0.84,0M415.8,325.9a0.42,0.42 0 1,0 0.84,0a0.42,0.42 0 1,0 -0.84,0M414.4,319.0a0.42,0.42 0 1,0 0.84,0a0.42,0.42 0 1,0 -0.84,0M424.1,338.1a0.42,0.42 0 1,0 0.84,0a0.42,0.42 0 1,0 -0.84,0M418.2,336.6a0.42,0.42 0 1,0 0.84,0a0.42,0.42 0 1,0 -0.84,0M415.6,315.9a0.42,0.42 0 1,0 0.84,0a0.42,0.42 0 1,0 -0.84,0M404.7,338.3a0.42,0.42 0 1,0 0.84,0a0.42,0.42 0 1,0 -0.84,0M415.7,334.2a0.42,0.42 0 1,0 0.84,0a0.42,0.42 0 1,0 -0.84,0M411.4,338.5a0.42,0.42 0 1,0 0.84,0a0.42,0.42 0 1,0 -0.84,0M414.3,339.7a0.42,0.42 0 1,0 0.84,0a0.42,0.42 0 1,0 -0.84,0M415.3,327.7a0.42,0.42 0 1,0 0.84,0a0.42,0.42 0 1,0 -0.84,0M414.2,331.6a0.42,0.42 0 1,0 0.84,0a0.42,0.42 0 1,0 -0.84,0M417.8,338.2a0.42,0.42 0 1,0 0.84,0a0.42,0.42 0 1,0 -0.84,0M411.6,338.7a0.42,0.42 0 1,0 0.84,0a0.42,0.42 0 1,0 -0.84,0M416.2,323.5a0.42,0.42 0 1,0 0.84,0a0.42,0.42 0 1,0 -0.84,0M417.3,332.9a0.42,0.42 0 1,0 0.84,0a0.42,0.42 0 1,0 -0.84,0M424.1,341.5a0.42,0.42 0 1,0 0.84,0a0.42,0.42 0 1,0 -0.84,0M413.9,336.6a0.42,0.42 0 1,0 0.84,0a0.42,0.42 0 1,0 -0.84,0M413.8,340.2a0.42,0.42 0 1,0 0.84,0a0.42,0.42 0 1,0 -0.84,0M408.9,330.2a0.42,0.42 0 1,0 0.84,0a0.42,0.42 0 1,0 -0.84,0M420.3,335.9a0.42,0.42 0 1,0 0.84,0a0.42,0.42 0 1,0 -0.84,0M419.5,337.5a0.42,0.42 0 1,0 0.84,0a0.42,0.42 0 1,0 -0.84,0M419.0,340.7a0.42,0.42 0 1,0 0.84,0a0.42,0.42 0 1,0 -0.84,0M419.0,329.4a0.42,0.42 0 1,0 0.84,0a0.42,0.42 0 1,0 -0.84,0M412.1,335.3a0.42,0.42 0 1,0 0.84,0a0.42,0.42 0 1,0 -0.84,0M413.3,317.3a0.42,0.42 0 1,0 0.84,0a0.42,0.42 0 1,0 -0.84,0M419.3,339.8a0.42,0.42 0 1,0 0.84,0a0.42,0.42 0 1,0 -0.84,0M415.3,338.2a0.42,0.42 0 1,0 0.84,0a0.42,0.42 0 1,0 -0.84,0M416.3,337.9a0.42,0.42 0 1,0 0.84,0a0.42,0.42 0 1,0 -0.84,0M413.9,324.5a0.42,0.42 0 1,0 0.84,0a0.42,0.42 0 1,0 -0.84,0M417.3,315.6a0.42,0.42 0 1,0 0.84,0a0.42,0.42 0 1,0 -0.84,0M414.3,329.9a0.42,0.42 0 1,0 0.84,0a0.42,0.42 0 1,0 -0.84,0M415.6,318.7a0.42,0.42 0 1,0 0.84,0a0.42,0.42 0 1,0 -0.84,0M416.1,325.0a0.42,0.42 0 1,0 0.84,0a0.42,0.42 0 1,0 -0.84,0M410.0,331.2a0.42,0.42 0 1,0 0.84,0a0.42,0.42 0 1,0 -0.84,0M414.2,325.3a0.42,0.42 0 1,0 0.84,0a0.42,0.42 0 1,0 -0.84,0M415.1,316.7a0.42,0.42 0 1,0 0.84,0a0.42,0.42 0 1,0 -0.84,0M415.1,323.1a0.42,0.42 0 1,0 0.84,0a0.42,0.42 0 1,0 -0.84,0M422.0,338.6a0.42,0.42 0 1,0 0.84,0a0.42,0.42 0 1,0 -0.84,0M407.2,335.6a0.42,0.42 0 1,0 0.84,0a0.42,0.42 0 1,0 -0.84,0M407.2,336.8a0.42,0.42 0 1,0 0.84,0a0.42,0.42 0 1,0 -0.84,0M415.0,330.0a0.42,0.42 0 1,0 0.84,0a0.42,0.42 0 1,0 -0.84,0M414.0,327.8a0.42,0.42 0 1,0 0.84,0a0.42,0.42 0 1,0 -0.84,0M419.3,327.4a0.42,0.42 0 1,0 0.84,0a0.42,0.42 0 1,0 -0.84,0M413.8,338.4a0.42,0.42 0 1,0 0.84,0a0.42,0.42 0 1,0 -0.84,0M416.1,331.1a0.42,0.42 0 1,0 0.84,0a0.42,0.42 0 1,0 -0.84,0M415.4,340.7a0.42,0.42 0 1,0 0.84,0a0.42,0.42 0 1,0 -0.84,0M420.2,341.7a0.42,0.42 0 1,0 0.84,0a0.42,0.42 0 1,0 -0.84,0M414.9,320.6a0.42,0.42 0 1,0 0.84,0a0.42,0.42 0 1,0 -0.84,0M410.3,338.8a0.42,0.42 0 1,0 0.84,0a0.42,0.42 0 1,0 -0.84,0M417.4,318.2a0.42,0.42 0 1,0 0.84,0a0.42,0.42 0 1,0 -0.84,0M410.8,322.4a0.42,0.42 0 1,0 0.84,0a0.42,0.42 0 1,0 -0.84,0M418.3,332.0a0.42,0.42 0 1,0 0.84,0a0.42,0.42 0 1,0 -0.84,0M414.0,327.6a0.42,0.42 0 1,0 0.84,0a0.42,0.42 0 1,0 -0.84,0M417.9,335.5a0.42,0.42 0 1,0 0.84,0a0.42,0.42 0 1,0 -0.84,0M410.5,319.4a0.42,0.42 0 1,0 0.84,0a0.42,0.42 0 1,0 -0.84,0M411.4,337.3a0.42,0.42 0 1,0 0.84,0a0.42,0.42 0 1,0 -0.84,0M409.5,340.5a0.42,0.42 0 1,0 0.84,0a0.42,0.42 0 1,0 -0.84,0M411.0,341.5a0.42,0.42 0 1,0 0.84,0a0.42,0.42 0 1,0 -0.84,0M423.8,338.8a0.42,0.42 0 1,0 0.84,0a0.42,0.42 0 1,0 -0.84,0M417.9,319.9a0.42,0.42 0 1,0 0.84,0a0.42,0.42 0 1,0 -0.84,0M416.9,341.0a0.42,0.42 0 1,0 0.84,0a0.42,0.42 0 1,0 -0.84,0M412.6,331.6a0.42,0.42 0 1,0 0.84,0a0.42,0.42 0 1,0 -0.84,0M416.0,328.0a0.42,0.42 0 1,0 0.84,0a0.42,0.42 0 1,0 -0.84,0M409.0,336.2a0.42,0.42 0 1,0 0.84,0a0.42,0.42 0 1,0 -0.84,0M413.5,317.6a0.42,0.42 0 1,0 0.84,0a0.42,0.42 0 1,0 -0.84,0M413.1,315.3a0.42,0.42 0 1,0 0.84,0a0.42,0.42 0 1,0 -0.84,0M413.5,318.0a0.42,0.42 0 1,0 0.84,0a0.42,0.42 0 1,0 -0.84,0M415.4,338.9a0.42,0.42 0 1,0 0.84,0a0.42,0.42 0 1,0 -0.84,0M413.8,337.0a0.42,0.42 0 1,0 0.84,0a0.42,0.42 0 1,0 -0.84,0M416.4,338.2a0.42,0.42 0 1,0 0.84,0a0.42,0.42 0 1,0 -0.84,0M416.5,323.9a0.42,0.42 0 1,0 0.84,0a0.42,0.42 0 1,0 -0.84,0M414.6,328.6a0.42,0.42 0 1,0 0.84,0a0.42,0.42 0 1,0 -0.84,0M412.2,337.3a0.42,0.42 0 1,0 0.84,0a0.42,0.42 0 1,0 -0.84,0M412.5,333.6a0.42,0.42 0 1,0 0.84,0a0.42,0.42 0 1,0 -0.84,0M414.4,318.8a0.42,0.42 0 1,0 0.84,0a0.42,0.42 0 1,0 -0.84,0M413.2,334.7a0.42,0.42 0 1,0 0.84,0a0.42,0.42 0 1,0 -0.84,0M417.8,316.9a0.42,0.42 0 1,0 0.84,0a0.42,0.42 0 1,0 -0.84,0M415.3,336.6a0.42,0.42 0 1,0 0.84,0a0.42,0.42 0 1,0 -0.84,0M414.9,334.5a0.42,0.42 0 1,0 0.84,0a0.42,0.42 0 1,0 -0.84,0M412.8,341.0a0.42,0.42 0 1,0 0.84,0a0.42,0.42 0 1,0 -0.84,0M413.9,338.0a0.42,0.42 0 1,0 0.84,0a0.42,0.42 0 1,0 -0.84,0M414.8,315.8a0.42,0.42 0 1,0 0.84,0a0.42,0.42 0 1,0 -0.84,0M404.9,338.3a0.42,0.42 0 1,0 0.84,0a0.42,0.42 0 1,0 -0.84,0M413.1,325.6a0.42,0.42 0 1,0 0.84,0a0.42,0.42 0 1,0 -0.84,0M417.0,334.1a0.42,0.42 0 1,0 0.84,0a0.42,0.42 0 1,0 -0.84,0M416.4,319.1a0.42,0.42 0 1,0 0.84,0a0.42,0.42 0 1,0 -0.84,0M418.9,336.3a0.42,0.42 0 1,0 0.84,0a0.42,0.42 0 1,0 -0.84,0M418.5,335.1a0.42,0.42 0 1,0 0.84,0a0.42,0.42 0 1,0 -0.84,0M414.9,341.2a0.42,0.42 0 1,0 0.84,0a0.42,0.42 0 1,0 -0.84,0M415.2,322.1a0.42,0.42 0 1,0 0.84,0a0.42,0.42 0 1,0 -0.84,0M412.6,342.0a0.42,0.42 0 1,0 0.84,0a0.42,0.42 0 1,0 -0.84,0M410.0,336.9a0.42,0.42 0 1,0 0.84,0a0.42,0.42 0 1,0 -0.84,0M412.5,339.8a0.42,0.42 0 1,0 0.84,0a0.42,0.42 0 1,0 -0.84,0M417.1,340.6a0.42,0.42 0 1,0 0.84,0a0.42,0.42 0 1,0 -0.84,0M418.3,337.1a0.42,0.42 0 1,0 0.84,0a0.42,0.42 0 1,0 -0.84,0M416.6,321.2a0.42,0.42 0 1,0 0.84,0a0.42,0.42 0 1,0 -0.84,0M411.7,327.2a0.42,0.42 0 1,0 0.84,0a0.42,0.42 0 1,0 -0.84,0M410.4,326.6a0.42,0.42 0 1,0 0.84,0a0.42,0.42 0 1,0 -0.84,0M411.0,322.2a0.42,0.42 0 1,0 0.84,0a0.42,0.42 0 1,0 -0.84,0M416.9,335.0a0.42,0.42 0 1,0 0.84,0a0.42,0.42 0 1,0 -0.84,0M414.8,337.9a0.42,0.42 0 1,0 0.84,0a0.42,0.42 0 1,0 -0.84,0M415.6,322.8a0.42,0.42 0 1,0 0.84,0a0.42,0.42 0 1,0 -0.84,0M417.0,337.4a0.42,0.42 0 1,0 0.84,0a0.42,0.42 0 1,0 -0.84,0M412.9,324.6a0.42,0.42 0 1,0 0.84,0a0.42,0.42 0 1,0 -0.84,0M413.1,330.5a0.42,0.42 0 1,0 0.84,0a0.42,0.42 0 1,0 -0.84,0M417.3,336.0a0.42,0.42 0 1,0 0.84,0a0.42,0.42 0 1,0 -0.84,0M410.8,320.4a0.42,0.42 0 1,0 0.84,0a0.42,0.42 0 1,0 -0.84,0M413.1,338.5a0.42,0.42 0 1,0 0.84,0a0.42,0.42 0 1,0 -0.84,0M405.5,340.4a0.42,0.42 0 1,0 0.84,0a0.42,0.42 0 1,0 -0.84,0M416.4,317.4a0.42,0.42 0 1,0 0.84,0a0.42,0.42 0 1,0 -0.84,0M411.8,322.3a0.42,0.42 0 1,0 0.84,0a0.42,0.42 0 1,0 -0.84,0M416.4,338.8a0.42,0.42 0 1,0 0.84,0a0.42,0.42 0 1,0 -0.84,0M419.0,339.5a0.42,0.42 0 1,0 0.84,0a0.42,0.42 0 1,0 -0.84,0M412.5,339.4a0.42,0.42 0 1,0 0.84,0a0.42,0.42 0 1,0 -0.84,0M415.7,338.3a0.42,0.42 0 1,0 0.84,0a0.42,0.42 0 1,0 -0.84,0M417.3,325.0a0.42,0.42 0 1,0 0.84,0a0.42,0.42 0 1,0 -0.84,0M421.3,337.6a0.42,0.42 0 1,0 0.84,0a0.42,0.42 0 1,0 -0.84,0M414.3,338.4a0.42,0.42 0 1,0 0.84,0a0.42,0.42 0 1,0 -0.84,0M416.3,337.3a0.42,0.42 0 1,0 0.84,0a0.42,0.42 0 1,0 -0.84,0M413.4,339.1a0.42,0.42 0 1,0 0.84,0a0.42,0.42 0 1,0 -0.84,0M409.7,315.8a0.42,0.42 0 1,0 0.84,0a0.42,0.42 0 1,0 -0.84,0M413.1,341.1a0.42,0.42 0 1,0 0.84,0a0.42,0.42 0 1,0 -0.84,0M417.2,318.5a0.42,0.42 0 1,0 0.84,0a0.42,0.42 0 1,0 -0.84,0M415.3,333.8a0.42,0.42 0 1,0 0.84,0a0.42,0.42 0 1,0 -0.84,0M411.4,341.0a0.42,0.42 0 1,0 0.84,0a0.42,0.42 0 1,0 -0.84,0M413.6,328.3a0.42,0.42 0 1,0 0.84,0a0.42,0.42 0 1,0 -0.84,0M413.8,337.7a0.42,0.42 0 1,0 0.84,0a0.42,0.42 0 1,0 -0.84,0M418.3,339.4a0.42,0.42 0 1,0 0.84,0a0.42,0.42 0 1,0 -0.84,0M409.9,328.9a0.42,0.42 0 1,0 0.84,0a0.42,0.42 0 1,0 -0.84,0M414.4,328.5a0.42,0.42 0 1,0 0.84,0a0.42,0.42 0 1,0 -0.84,0M413.1,336.3a0.42,0.42 0 1,0 0.84,0a0.42,0.42 0 1,0 -0.84,0M416.0,336.2a0.42,0.42 0 1,0 0.84,0a0.42,0.42 0 1,0 -0.84,0M415.3,332.6a0.42,0.42 0 1,0 0.84,0a0.42,0.42 0 1,0 -0.84,0M411.1,325.2a0.42,0.42 0 1,0 0.84,0a0.42,0.42 0 1,0 -0.84,0M420.5,336.2a0.42,0.42 0 1,0 0.84,0a0.42,0.42 0 1,0 -0.84,0M413.2,340.1a0.42,0.42 0 1,0 0.84,0a0.42,0.42 0 1,0 -0.84,0M415.4,338.2a0.42,0.42 0 1,0 0.84,0a0.42,0.42 0 1,0 -0.84,0M414.6,333.5a0.42,0.42 0 1,0 0.84,0a0.42,0.42 0 1,0 -0.84,0M410.9,339.4a0.42,0.42 0 1,0 0.84,0a0.42,0.42 0 1,0 -0.84,0M411.6,338.4a0.42,0.42 0 1,0 0.84,0a0.42,0.42 0 1,0 -0.84,0M415.7,316.0a0.42,0.42 0 1,0 0.84,0a0.42,0.42 0 1,0 -0.84,0M411.1,337.2a0.42,0.42 0 1,0 0.84,0a0.42,0.42 0 1,0 -0.84,0M410.4,340.1a0.42,0.42 0 1,0 0.84,0a0.42,0.42 0 1,0 -0.84,0M415.1,333.9a0.42,0.42 0 1,0 0.84,0a0.42,0.42 0 1,0 -0.84,0M417.3,327.7a0.42,0.42 0 1,0 0.84,0a0.42,0.42 0 1,0 -0.84,0M413.1,339.5a0.42,0.42 0 1,0 0.84,0a0.42,0.42 0 1,0 -0.84,0M415.7,317.0a0.42,0.42 0 1,0 0.84,0a0.42,0.42 0 1,0 -0.84,0M412.9,336.5a0.42,0.42 0 1,0 0.84,0a0.42,0.42 0 1,0 -0.84,0M410.6,337.7a0.42,0.42 0 1,0 0.84,0a0.42,0.42 0 1,0 -0.84,0M413.3,341.5a0.42,0.42 0 1,0 0.84,0a0.42,0.42 0 1,0 -0.84,0M414.2,320.8a0.42,0.42 0 1,0 0.84,0a0.42,0.42 0 1,0 -0.84,0M415.3,323.5a0.42,0.42 0 1,0 0.84,0a0.42,0.42 0 1,0 -0.84,0M408.7,323.9a0.42,0.42 0 1,0 0.84,0a0.42,0.42 0 1,0 -0.84,0M413.8,323.0a0.42,0.42 0 1,0 0.84,0a0.42,0.42 0 1,0 -0.84,0M416.1,328.5a0.42,0.42 0 1,0 0.84,0a0.42,0.42 0 1,0 -0.84,0M417.0,329.4a0.42,0.42 0 1,0 0.84,0a0.42,0.42 0 1,0 -0.84,0M412.9,323.8a0.42,0.42 0 1,0 0.84,0a0.42,0.42 0 1,0 -0.84,0M418.7,338.1a0.42,0.42 0 1,0 0.84,0a0.42,0.42 0 1,0 -0.84,0M410.4,315.5a0.42,0.42 0 1,0 0.84,0a0.42,0.42 0 1,0 -0.84,0M415.1,318.0a0.42,0.42 0 1,0 0.84,0a0.42,0.42 0 1,0 -0.84,0M405.7,338.3a0.42,0.42 0 1,0 0.84,0a0.42,0.42 0 1,0 -0.84,0M408.3,342.3a0.42,0.42 0 1,0 0.84,0a0.42,0.42 0 1,0 -0.84,0M416.0,324.5a0.42,0.42 0 1,0 0.84,0a0.42,0.42 0 1,0 -0.84,0M415.5,340.9a0.42,0.42 0 1,0 0.84,0a0.42,0.42 0 1,0 -0.84,0M417.6,340.9a0.42,0.42 0 1,0 0.84,0a0.42,0.42 0 1,0 -0.84,0M412.6,335.2a0.42,0.42 0 1,0 0.84,0a0.42,0.42 0 1,0 -0.84,0M412.2,325.7a0.42,0.42 0 1,0 0.84,0a0.42,0.42 0 1,0 -0.84,0" fill="#117068" opacity="1.0"/>
<path d="M410.1,341.4a0.4,0.4 0 1,0 0.8,0a0.4,0.4 0 1,0 -0.8,0M415.0,329.1a0.4,0.4 0 1,0 0.8,0a0.4,0.4 0 1,0 -0.8,0M410.1,321.4a0.4,0.4 0 1,0 0.8,0a0.4,0.4 0 1,0 -0.8,0M417.1,338.6a0.4,0.4 0 1,0 0.8,0a0.4,0.4 0 1,0 -0.8,0M417.2,319.8a0.4,0.4 0 1,0 0.8,0a0.4,0.4 0 1,0 -0.8,0M414.5,342.4a0.4,0.4 0 1,0 0.8,0a0.4,0.4 0 1,0 -0.8,0M415.8,320.8a0.4,0.4 0 1,0 0.8,0a0.4,0.4 0 1,0 -0.8,0M417.2,315.8a0.4,0.4 0 1,0 0.8,0a0.4,0.4 0 1,0 -0.8,0M421.2,337.1a0.4,0.4 0 1,0 0.8,0a0.4,0.4 0 1,0 -0.8,0M414.4,336.7a0.4,0.4 0 1,0 0.8,0a0.4,0.4 0 1,0 -0.8,0M413.4,319.5a0.4,0.4 0 1,0 0.8,0a0.4,0.4 0 1,0 -0.8,0M420.8,340.9a0.4,0.4 0 1,0 0.8,0a0.4,0.4 0 1,0 -0.8,0M418.8,323.9a0.4,0.4 0 1,0 0.8,0a0.4,0.4 0 1,0 -0.8,0M413.3,336.5a0.4,0.4 0 1,0 0.8,0a0.4,0.4 0 1,0 -0.8,0M419.8,342.2a0.4,0.4 0 1,0 0.8,0a0.4,0.4 0 1,0 -0.8,0M412.7,327.0a0.4,0.4 0 1,0 0.8,0a0.4,0.4 0 1,0 -0.8,0M410.6,339.0a0.4,0.4 0 1,0 0.8,0a0.4,0.4 0 1,0 -0.8,0M414.1,318.7a0.4,0.4 0 1,0 0.8,0a0.4,0.4 0 1,0 -0.8,0M418.9,342.5a0.4,0.4 0 1,0 0.8,0a0.4,0.4 0 1,0 -0.8,0M415.4,336.3a0.4,0.4 0 1,0 0.8,0a0.4,0.4 0 1,0 -0.8,0M411.4,341.4a0.4,0.4 0 1,0 0.8,0a0.4,0.4 0 1,0 -0.8,0M413.2,321.4a0.4,0.4 0 1,0 0.8,0a0.4,0.4 0 1,0 -0.8,0M418.4,338.6a0.4,0.4 0 1,0 0.8,0a0.4,0.4 0 1,0 -0.8,0M406.2,324.7a0.4,0.4 0 1,0 0.8,0a0.4,0.4 0 1,0 -0.8,0M417.3,335.5a0.4,0.4 0 1,0 0.8,0a0.4,0.4 0 1,0 -0.8,0M419.6,318.4a0.4,0.4 0 1,0 0.8,0a0.4,0.4 0 1,0 -0.8,0M413.1,339.4a0.4,0.4 0 1,0 0.8,0a0.4,0.4 0 1,0 -0.8,0M419.1,339.4a0.4,0.4 0 1,0 0.8,0a0.4,0.4 0 1,0 -0.8,0M413.5,342.8a0.4,0.4 0 1,0 0.8,0a0.4,0.4 0 1,0 -0.8,0M423.9,326.6a0.4,0.4 0 1,0 0.8,0a0.4,0.4 0 1,0 -0.8,0M412.7,322.8a0.4,0.4 0 1,0 0.8,0a0.4,0.4 0 1,0 -0.8,0M414.9,321.3a0.4,0.4 0 1,0 0.8,0a0.4,0.4 0 1,0 -0.8,0M418.0,317.8a0.4,0.4 0 1,0 0.8,0a0.4,0.4 0 1,0 -0.8,0M418.5,316.5a0.4,0.4 0 1,0 0.8,0a0.4,0.4 0 1,0 -0.8,0M414.6,335.6a0.4,0.4 0 1,0 0.8,0a0.4,0.4 0 1,0 -0.8,0M403.9,333.5a0.4,0.4 0 1,0 0.8,0a0.4,0.4 0 1,0 -0.8,0M421.7,320.4a0.4,0.4 0 1,0 0.8,0a0.4,0.4 0 1,0 -0.8,0M412.3,342.2a0.4,0.4 0 1,0 0.8,0a0.4,0.4 0 1,0 -0.8,0M408.9,334.3a0.4,0.4 0 1,0 0.8,0a0.4,0.4 0 1,0 -0.8,0M414.2,325.6a0.4,0.4 0 1,0 0.8,0a0.4,0.4 0 1,0 -0.8,0M417.4,322.8a0.4,0.4 0 1,0 0.8,0a0.4,0.4 0 1,0 -0.8,0M415.8,322.1a0.4,0.4 0 1,0 0.8,0a0.4,0.4 0 1,0 -0.8,0M422.5,328.5a0.4,0.4 0 1,0 0.8,0a0.4,0.4 0 1,0 -0.8,0M410.4,318.3a0.4,0.4 0 1,0 0.8,0a0.4,0.4 0 1,0 -0.8,0M419.5,323.8a0.4,0.4 0 1,0 0.8,0a0.4,0.4 0 1,0 -0.8,0M413.7,330.2a0.4,0.4 0 1,0 0.8,0a0.4,0.4 0 1,0 -0.8,0M420.5,338.9a0.4,0.4 0 1,0 0.8,0a0.4,0.4 0 1,0 -0.8,0M414.4,335.5a0.4,0.4 0 1,0 0.8,0a0.4,0.4 0 1,0 -0.8,0M414.3,338.4a0.4,0.4 0 1,0 0.8,0a0.4,0.4 0 1,0 -0.8,0M417.5,330.5a0.4,0.4 0 1,0 0.8,0a0.4,0.4 0 1,0 -0.8,0" fill="#5aa7a5" opacity="0.6"/>
<rect x="400.30" y="354.50" width="68.90" height="70.30" fill="#fff" stroke="#8a8a8a" stroke-width="0.9"/>
<line x1="405.00" y1="424.80" x2="405.00" y2="426.40" stroke="#333" stroke-width="0.6"/>
<line x1="398.80" y1="420.80" x2="400.20" y2="420.80" stroke="#333" stroke-width="0.6"/>
<line x1="417.50" y1="424.80" x2="417.50" y2="426.40" stroke="#333" stroke-width="0.6"/>
<line x1="398.80" y1="408.30" x2="400.20" y2="408.30" stroke="#333" stroke-width="0.6"/>
<line x1="430.00" y1="424.80" x2="430.00" y2="426.40" stroke="#333" stroke-width="0.6"/>
<line x1="398.80" y1="395.80" x2="400.20" y2="395.80" stroke="#333" stroke-width="0.6"/>
<line x1="442.50" y1="424.80" x2="442.50" y2="426.40" stroke="#333" stroke-width="0.6"/>
<line x1="398.80" y1="383.30" x2="400.20" y2="383.30" stroke="#333" stroke-width="0.6"/>
<line x1="455.00" y1="424.80" x2="455.00" y2="426.40" stroke="#333" stroke-width="0.6"/>
<line x1="398.80" y1="370.80" x2="400.20" y2="370.80" stroke="#333" stroke-width="0.6"/>
<line x1="467.50" y1="424.80" x2="467.50" y2="426.40" stroke="#333" stroke-width="0.6"/>
<line x1="398.80" y1="358.30" x2="400.20" y2="358.30" stroke="#333" stroke-width="0.6"/>
<rect x="403.80" y="379.50" width="18.80" height="28.90" fill="none" stroke="#8a8a8a" stroke-width="0.7"/>
<rect x="420.00" y="411.30" width="23.60" height="8.10" fill="none" stroke="#8a8a8a" stroke-width="0.7"/>
<text x="423.90" y="367.00" font-size="9.0" text-anchor="middle" fill="#111" stroke="#111" stroke-width="0.08" font-weight="bold" font-style="normal">58.4</text>
<text x="441.30" y="407.40" font-size="9.0" text-anchor="middle" fill="#111" stroke="#111" stroke-width="0.08" font-weight="bold" font-style="normal">0.37</text>
<text x="473.60" y="403.00" font-size="8.8" text-anchor="start" fill="#b3263b" stroke="#b3263b" stroke-width="0.08" font-weight="bold" font-style="normal">Parental</text>
<ellipse cx="411.8" cy="396.5" rx="4.6" ry="9.0" fill="#a1151f"/>
<ellipse cx="412.0" cy="414.6" rx="5.0" ry="4.6" fill="#a1151f"/>
<rect x="408.5" y="403" width="7" height="10" fill="#a1151f"/>
<path d="M413.9,390.3a0.42,0.42 0 1,0 0.84,0a0.42,0.42 0 1,0 -0.84,0M414.7,410.4a0.42,0.42 0 1,0 0.84,0a0.42,0.42 0 1,0 -0.84,0M409.4,406.8a0.42,0.42 0 1,0 0.84,0a0.42,0.42 0 1,0 -0.84,0M409.9,405.0a0.42,0.42 0 1,0 0.84,0a0.42,0.42 0 1,0 -0.84,0M414.9,406.9a0.42,0.42 0 1,0 0.84,0a0.42,0.42 0 1,0 -0.84,0M412.5,403.2a0.42,0.42 0 1,0 0.84,0a0.42,0.42 0 1,0 -0.84,0M414.9,398.0a0.42,0.42 0 1,0 0.84,0a0.42,0.42 0 1,0 -0.84,0M408.4,392.4a0.42,0.42 0 1,0 0.84,0a0.42,0.42 0 1,0 -0.84,0M415.1,409.5a0.42,0.42 0 1,0 0.84,0a0.42,0.42 0 1,0 -0.84,0M415.3,406.5a0.42,0.42 0 1,0 0.84,0a0.42,0.42 0 1,0 -0.84,0M408.5,392.2a0.42,0.42 0 1,0 0.84,0a0.42,0.42 0 1,0 -0.84,0M412.8,403.6a0.42,0.42 0 1,0 0.84,0a0.42,0.42 0 1,0 -0.84,0M414.0,407.3a0.42,0.42 0 1,0 0.84,0a0.42,0.42 0 1,0 -0.84,0M414.7,408.8a0.42,0.42 0 1,0 0.84,0a0.42,0.42 0 1,0 -0.84,0M411.6,396.3a0.42,0.42 0 1,0 0.84,0a0.42,0.42 0 1,0 -0.84,0M412.8,409.4a0.42,0.42 0 1,0 0.84,0a0.42,0.42 0 1,0 -0.84,0M406.9,399.9a0.42,0.42 0 1,0 0.84,0a0.42,0.42 0 1,0 -0.84,0M411.3,398.7a0.42,0.42 0 1,0 0.84,0a0.42,0.42 0 1,0 -0.84,0M413.0,391.7a0.42,0.42 0 1,0 0.84,0a0.42,0.42 0 1,0 -0.84,0M410.7,405.8a0.42,0.42 0 1,0 0.84,0a0.42,0.42 0 1,0 -0.84,0M409.6,404.6a0.42,0.42 0 1,0 0.84,0a0.42,0.42 0 1,0 -0.84,0M409.4,400.3a0.42,0.42 0 1,0 0.84,0a0.42,0.42 0 1,0 -0.84,0M408.7,414.5a0.42,0.42 0 1,0 0.84,0a0.42,0.42 0 1,0 -0.84,0M406.5,407.7a0.42,0.42 0 1,0 0.84,0a0.42,0.42 0 1,0 -0.84,0M404.9,400.5a0.42,0.42 0 1,0 0.84,0a0.42,0.42 0 1,0 -0.84,0M412.8,407.2a0.42,0.42 0 1,0 0.84,0a0.42,0.42 0 1,0 -0.84,0M414.5,398.5a0.42,0.42 0 1,0 0.84,0a0.42,0.42 0 1,0 -0.84,0M408.5,411.5a0.42,0.42 0 1,0 0.84,0a0.42,0.42 0 1,0 -0.84,0M406.6,407.1a0.42,0.42 0 1,0 0.84,0a0.42,0.42 0 1,0 -0.84,0M407.9,403.7a0.42,0.42 0 1,0 0.84,0a0.42,0.42 0 1,0 -0.84,0M415.0,398.7a0.42,0.42 0 1,0 0.84,0a0.42,0.42 0 1,0 -0.84,0M411.0,418.7a0.42,0.42 0 1,0 0.84,0a0.42,0.42 0 1,0 -0.84,0M413.2,386.7a0.42,0.42 0 1,0 0.84,0a0.42,0.42 0 1,0 -0.84,0M411.0,415.7a0.42,0.42 0 1,0 0.84,0a0.42,0.42 0 1,0 -0.84,0M413.6,393.4a0.42,0.42 0 1,0 0.84,0a0.42,0.42 0 1,0 -0.84,0M409.7,409.3a0.42,0.42 0 1,0 0.84,0a0.42,0.42 0 1,0 -0.84,0M413.4,400.6a0.42,0.42 0 1,0 0.84,0a0.42,0.42 0 1,0 -0.84,0M410.9,408.5a0.42,0.42 0 1,0 0.84,0a0.42,0.42 0 1,0 -0.84,0M412.1,389.3a0.42,0.42 0 1,0 0.84,0a0.42,0.42 0 1,0 -0.84,0M414.4,401.7a0.42,0.42 0 1,0 0.84,0a0.42,0.42 0 1,0 -0.84,0M411.7,398.4a0.42,0.42 0 1,0 0.84,0a0.42,0.42 0 1,0 -0.84,0M412.7,389.6a0.42,0.42 0 1,0 0.84,0a0.42,0.42 0 1,0 -0.84,0M412.8,399.5a0.42,0.42 0 1,0 0.84,0a0.42,0.42 0 1,0 -0.84,0M412.7,395.8a0.42,0.42 0 1,0 0.84,0a0.42,0.42 0 1,0 -0.84,0M411.2,393.0a0.42,0.42 0 1,0 0.84,0a0.42,0.42 0 1,0 -0.84,0M408.7,391.0a0.42,0.42 0 1,0 0.84,0a0.42,0.42 0 1,0 -0.84,0M410.2,391.5a0.42,0.42 0 1,0 0.84,0a0.42,0.42 0 1,0 -0.84,0M416.0,401.2a0.42,0.42 0 1,0 0.84,0a0.42,0.42 0 1,0 -0.84,0M413.4,401.1a0.42,0.42 0 1,0 0.84,0a0.42,0.42 0 1,0 -0.84,0M406.6,415.2a0.42,0.42 0 1,0 0.84,0a0.42,0.42 0 1,0 -0.84,0M410.3,387.4a0.42,0.42 0 1,0 0.84,0a0.42,0.42 0 1,0 -0.84,0M410.0,390.3a0.42,0.42 0 1,0 0.84,0a0.42,0.42 0 1,0 -0.84,0M412.3,415.0a0.42,0.42 0 1,0 0.84,0a0.42,0.42 0 1,0 -0.84,0M408.9,419.8a0.42,0.42 0 1,0 0.84,0a0.42,0.42 0 1,0 -0.84,0M414.3,384.3a0.42,0.42 0 1,0 0.84,0a0.42,0.42 0 1,0 -0.84,0M410.1,394.2a0.42,0.42 0 1,0 0.84,0a0.42,0.42 0 1,0 -0.84,0M412.4,410.0a0.42,0.42 0 1,0 0.84,0a0.42,0.42 0 1,0 -0.84,0M415.6,418.1a0.42,0.42 0 1,0 0.84,0a0.42,0.42 0 1,0 -0.84,0M409.6,407.6a0.42,0.42 0 1,0 0.84,0a0.42,0.42 0 1,0 -0.84,0M404.8,401.6a0.42,0.42 0 1,0 0.84,0a0.42,0.42 0 1,0 -0.84,0M412.7,412.8a0.42,0.42 0 1,0 0.84,0a0.42,0.42 0 1,0 -0.84,0M409.7,410.9a0.42,0.42 0 1,0 0.84,0a0.42,0.42 0 1,0 -0.84,0M412.2,391.0a0.42,0.42 0 1,0 0.84,0a0.42,0.42 0 1,0 -0.84,0M410.8,419.1a0.42,0.42 0 1,0 0.84,0a0.42,0.42 0 1,0 -0.84,0M413.5,406.3a0.42,0.42 0 1,0 0.84,0a0.42,0.42 0 1,0 -0.84,0M414.0,401.8a0.42,0.42 0 1,0 0.84,0a0.42,0.42 0 1,0 -0.84,0M416.6,396.6a0.42,0.42 0 1,0 0.84,0a0.42,0.42 0 1,0 -0.84,0M406.8,389.0a0.42,0.42 0 1,0 0.84,0a0.42,0.42 0 1,0 -0.84,0M414.2,393.2a0.42,0.42 0 1,0 0.84,0a0.42,0.42 0 1,0 -0.84,0M410.0,389.1a0.42,0.42 0 1,0 0.84,0a0.42,0.42 0 1,0 -0.84,0M415.3,394.4a0.42,0.42 0 1,0 0.84,0a0.42,0.42 0 1,0 -0.84,0M411.8,404.6a0.42,0.42 0 1,0 0.84,0a0.42,0.42 0 1,0 -0.84,0M414.4,419.3a0.42,0.42 0 1,0 0.84,0a0.42,0.42 0 1,0 -0.84,0M410.1,386.5a0.42,0.42 0 1,0 0.84,0a0.42,0.42 0 1,0 -0.84,0M411.8,419.5a0.42,0.42 0 1,0 0.84,0a0.42,0.42 0 1,0 -0.84,0M406.9,385.1a0.42,0.42 0 1,0 0.84,0a0.42,0.42 0 1,0 -0.84,0M408.0,406.1a0.42,0.42 0 1,0 0.84,0a0.42,0.42 0 1,0 -0.84,0M411.4,401.4a0.42,0.42 0 1,0 0.84,0a0.42,0.42 0 1,0 -0.84,0M410.7,416.5a0.42,0.42 0 1,0 0.84,0a0.42,0.42 0 1,0 -0.84,0M417.6,409.9a0.42,0.42 0 1,0 0.84,0a0.42,0.42 0 1,0 -0.84,0M415.0,386.9a0.42,0.42 0 1,0 0.84,0a0.42,0.42 0 1,0 -0.84,0M410.7,409.7a0.42,0.42 0 1,0 0.84,0a0.42,0.42 0 1,0 -0.84,0M415.3,408.0a0.42,0.42 0 1,0 0.84,0a0.42,0.42 0 1,0 -0.84,0M414.4,391.7a0.42,0.42 0 1,0 0.84,0a0.42,0.42 0 1,0 -0.84,0M412.2,390.5a0.42,0.42 0 1,0 0.84,0a0.42,0.42 0 1,0 -0.84,0M412.4,420.2a0.42,0.42 0 1,0 0.84,0a0.42,0.42 0 1,0 -0.84,0M412.4,389.0a0.42,0.42 0 1,0 0.84,0a0.42,0.42 0 1,0 -0.84,0M417.3,396.5a0.42,0.42 0 1,0 0.84,0a0.42,0.42 0 1,0 -0.84,0M409.0,419.7a0.42,0.42 0 1,0 0.84,0a0.42,0.42 0 1,0 -0.84,0M412.0,392.9a0.42,0.42 0 1,0 0.84,0a0.42,0.42 0 1,0 -0.84,0M409.7,388.0a0.42,0.42 0 1,0 0.84,0a0.42,0.42 0 1,0 -0.84,0M411.8,409.5a0.42,0.42 0 1,0 0.84,0a0.42,0.42 0 1,0 -0.84,0M409.9,409.6a0.42,0.42 0 1,0 0.84,0a0.42,0.42 0 1,0 -0.84,0M414.3,387.3a0.42,0.42 0 1,0 0.84,0a0.42,0.42 0 1,0 -0.84,0M415.6,420.8a0.42,0.42 0 1,0 0.84,0a0.42,0.42 0 1,0 -0.84,0M413.0,384.7a0.42,0.42 0 1,0 0.84,0a0.42,0.42 0 1,0 -0.84,0M402.9,414.8a0.42,0.42 0 1,0 0.84,0a0.42,0.42 0 1,0 -0.84,0M414.3,420.6a0.42,0.42 0 1,0 0.84,0a0.42,0.42 0 1,0 -0.84,0M404.2,386.1a0.42,0.42 0 1,0 0.84,0a0.42,0.42 0 1,0 -0.84,0M410.2,401.5a0.42,0.42 0 1,0 0.84,0a0.42,0.42 0 1,0 -0.84,0M413.2,400.3a0.42,0.42 0 1,0 0.84,0a0.42,0.42 0 1,0 -0.84,0M409.3,400.6a0.42,0.42 0 1,0 0.84,0a0.42,0.42 0 1,0 -0.84,0M407.8,420.0a0.42,0.42 0 1,0 0.84,0a0.42,0.42 0 1,0 -0.84,0M415.1,392.5a0.42,0.42 0 1,0 0.84,0a0.42,0.42 0 1,0 -0.84,0M409.4,411.5a0.42,0.42 0 1,0 0.84,0a0.42,0.42 0 1,0 -0.84,0M416.1,414.1a0.42,0.42 0 1,0 0.84,0a0.42,0.42 0 1,0 -0.84,0M409.0,415.3a0.42,0.42 0 1,0 0.84,0a0.42,0.42 0 1,0 -0.84,0M405.9,407.4a0.42,0.42 0 1,0 0.84,0a0.42,0.42 0 1,0 -0.84,0M411.3,415.8a0.42,0.42 0 1,0 0.84,0a0.42,0.42 0 1,0 -0.84,0M412.7,415.7a0.42,0.42 0 1,0 0.84,0a0.42,0.42 0 1,0 -0.84,0M413.3,411.3a0.42,0.42 0 1,0 0.84,0a0.42,0.42 0 1,0 -0.84,0M410.2,418.4a0.42,0.42 0 1,0 0.84,0a0.42,0.42 0 1,0 -0.84,0M411.7,390.4a0.42,0.42 0 1,0 0.84,0a0.42,0.42 0 1,0 -0.84,0M412.2,392.1a0.42,0.42 0 1,0 0.84,0a0.42,0.42 0 1,0 -0.84,0M409.4,414.3a0.42,0.42 0 1,0 0.84,0a0.42,0.42 0 1,0 -0.84,0M406.9,409.5a0.42,0.42 0 1,0 0.84,0a0.42,0.42 0 1,0 -0.84,0M419.0,400.3a0.42,0.42 0 1,0 0.84,0a0.42,0.42 0 1,0 -0.84,0M410.6,418.1a0.42,0.42 0 1,0 0.84,0a0.42,0.42 0 1,0 -0.84,0M411.2,405.7a0.42,0.42 0 1,0 0.84,0a0.42,0.42 0 1,0 -0.84,0M409.5,390.3a0.42,0.42 0 1,0 0.84,0a0.42,0.42 0 1,0 -0.84,0M407.4,384.4a0.42,0.42 0 1,0 0.84,0a0.42,0.42 0 1,0 -0.84,0M414.6,403.9a0.42,0.42 0 1,0 0.84,0a0.42,0.42 0 1,0 -0.84,0M409.5,386.4a0.42,0.42 0 1,0 0.84,0a0.42,0.42 0 1,0 -0.84,0M412.5,403.4a0.42,0.42 0 1,0 0.84,0a0.42,0.42 0 1,0 -0.84,0M410.9,398.9a0.42,0.42 0 1,0 0.84,0a0.42,0.42 0 1,0 -0.84,0M412.7,409.1a0.42,0.42 0 1,0 0.84,0a0.42,0.42 0 1,0 -0.84,0M415.9,387.1a0.42,0.42 0 1,0 0.84,0a0.42,0.42 0 1,0 -0.84,0M413.9,401.4a0.42,0.42 0 1,0 0.84,0a0.42,0.42 0 1,0 -0.84,0M407.9,417.0a0.42,0.42 0 1,0 0.84,0a0.42,0.42 0 1,0 -0.84,0M415.7,411.3a0.42,0.42 0 1,0 0.84,0a0.42,0.42 0 1,0 -0.84,0M410.9,414.5a0.42,0.42 0 1,0 0.84,0a0.42,0.42 0 1,0 -0.84,0M414.0,402.9a0.42,0.42 0 1,0 0.84,0a0.42,0.42 0 1,0 -0.84,0M408.6,391.1a0.42,0.42 0 1,0 0.84,0a0.42,0.42 0 1,0 -0.84,0M408.2,398.2a0.42,0.42 0 1,0 0.84,0a0.42,0.42 0 1,0 -0.84,0M414.0,415.4a0.42,0.42 0 1,0 0.84,0a0.42,0.42 0 1,0 -0.84,0M410.9,389.7a0.42,0.42 0 1,0 0.84,0a0.42,0.42 0 1,0 -0.84,0M414.9,394.5a0.42,0.42 0 1,0 0.84,0a0.42,0.42 0 1,0 -0.84,0M411.9,406.0a0.42,0.42 0 1,0 0.84,0a0.42,0.42 0 1,0 -0.84,0M411.7,402.5a0.42,0.42 0 1,0 0.84,0a0.42,0.42 0 1,0 -0.84,0M410.8,397.8a0.42,0.42 0 1,0 0.84,0a0.42,0.42 0 1,0 -0.84,0M416.1,416.7a0.42,0.42 0 1,0 0.84,0a0.42,0.42 0 1,0 -0.84,0M408.6,411.4a0.42,0.42 0 1,0 0.84,0a0.42,0.42 0 1,0 -0.84,0M409.4,404.1a0.42,0.42 0 1,0 0.84,0a0.42,0.42 0 1,0 -0.84,0M414.8,397.6a0.42,0.42 0 1,0 0.84,0a0.42,0.42 0 1,0 -0.84,0M410.6,417.2a0.42,0.42 0 1,0 0.84,0a0.42,0.42 0 1,0 -0.84,0M415.5,392.9a0.42,0.42 0 1,0 0.84,0a0.42,0.42 0 1,0 -0.84,0M410.6,397.5a0.42,0.42 0 1,0 0.84,0a0.42,0.42 0 1,0 -0.84,0M412.9,398.4a0.42,0.42 0 1,0 0.84,0a0.42,0.42 0 1,0 -0.84,0M414.9,396.7a0.42,0.42 0 1,0 0.84,0a0.42,0.42 0 1,0 -0.84,0M413.8,413.8a0.42,0.42 0 1,0 0.84,0a0.42,0.42 0 1,0 -0.84,0M411.8,420.2a0.42,0.42 0 1,0 0.84,0a0.42,0.42 0 1,0 -0.84,0M416.1,390.3a0.42,0.42 0 1,0 0.84,0a0.42,0.42 0 1,0 -0.84,0M406.5,398.9a0.42,0.42 0 1,0 0.84,0a0.42,0.42 0 1,0 -0.84,0M417.0,396.2a0.42,0.42 0 1,0 0.84,0a0.42,0.42 0 1,0 -0.84,0M414.6,396.1a0.42,0.42 0 1,0 0.84,0a0.42,0.42 0 1,0 -0.84,0M415.9,416.5a0.42,0.42 0 1,0 0.84,0a0.42,0.42 0 1,0 -0.84,0M409.9,420.7a0.42,0.42 0 1,0 0.84,0a0.42,0.42 0 1,0 -0.84,0M411.0,417.3a0.42,0.42 0 1,0 0.84,0a0.42,0.42 0 1,0 -0.84,0M411.5,411.9a0.42,0.42 0 1,0 0.84,0a0.42,0.42 0 1,0 -0.84,0M407.8,419.1a0.42,0.42 0 1,0 0.84,0a0.42,0.42 0 1,0 -0.84,0M412.3,412.2a0.42,0.42 0 1,0 0.84,0a0.42,0.42 0 1,0 -0.84,0M413.5,399.5a0.42,0.42 0 1,0 0.84,0a0.42,0.42 0 1,0 -0.84,0M416.9,403.3a0.42,0.42 0 1,0 0.84,0a0.42,0.42 0 1,0 -0.84,0M411.1,389.9a0.42,0.42 0 1,0 0.84,0a0.42,0.42 0 1,0 -0.84,0M408.7,405.5a0.42,0.42 0 1,0 0.84,0a0.42,0.42 0 1,0 -0.84,0M409.1,412.8a0.42,0.42 0 1,0 0.84,0a0.42,0.42 0 1,0 -0.84,0M405.7,406.0a0.42,0.42 0 1,0 0.84,0a0.42,0.42 0 1,0 -0.84,0M412.4,389.9a0.42,0.42 0 1,0 0.84,0a0.42,0.42 0 1,0 -0.84,0M412.3,417.5a0.42,0.42 0 1,0 0.84,0a0.42,0.42 0 1,0 -0.84,0M410.0,418.3a0.42,0.42 0 1,0 0.84,0a0.42,0.42 0 1,0 -0.84,0M412.2,410.0a0.42,0.42 0 1,0 0.84,0a0.42,0.42 0 1,0 -0.84,0M413.3,400.9a0.42,0.42 0 1,0 0.84,0a0.42,0.42 0 1,0 -0.84,0M408.3,396.4a0.42,0.42 0 1,0 0.84,0a0.42,0.42 0 1,0 -0.84,0M414.9,388.8a0.42,0.42 0 1,0 0.84,0a0.42,0.42 0 1,0 -0.84,0M406.1,419.5a0.42,0.42 0 1,0 0.84,0a0.42,0.42 0 1,0 -0.84,0M409.8,387.9a0.42,0.42 0 1,0 0.84,0a0.42,0.42 0 1,0 -0.84,0M411.5,419.9a0.42,0.42 0 1,0 0.84,0a0.42,0.42 0 1,0 -0.84,0M409.1,398.4a0.42,0.42 0 1,0 0.84,0a0.42,0.42 0 1,0 -0.84,0M413.6,403.1a0.42,0.42 0 1,0 0.84,0a0.42,0.42 0 1,0 -0.84,0M413.1,390.5a0.42,0.42 0 1,0 0.84,0a0.42,0.42 0 1,0 -0.84,0M411.9,411.5a0.42,0.42 0 1,0 0.84,0a0.42,0.42 0 1,0 -0.84,0M409.1,392.6a0.42,0.42 0 1,0 0.84,0a0.42,0.42 0 1,0 -0.84,0M407.5,391.6a0.42,0.42 0 1,0 0.84,0a0.42,0.42 0 1,0 -0.84,0M411.8,394.7a0.42,0.42 0 1,0 0.84,0a0.42,0.42 0 1,0 -0.84,0M413.1,396.9a0.42,0.42 0 1,0 0.84,0a0.42,0.42 0 1,0 -0.84,0M409.2,406.9a0.42,0.42 0 1,0 0.84,0a0.42,0.42 0 1,0 -0.84,0M409.6,404.9a0.42,0.42 0 1,0 0.84,0a0.42,0.42 0 1,0 -0.84,0M406.4,415.6a0.42,0.42 0 1,0 0.84,0a0.42,0.42 0 1,0 -0.84,0M416.6,418.0a0.42,0.42 0 1,0 0.84,0a0.42,0.42 0 1,0 -0.84,0M407.6,409.7a0.42,0.42 0 1,0 0.84,0a0.42,0.42 0 1,0 -0.84,0M410.7,387.9a0.42,0.42 0 1,0 0.84,0a0.42,0.42 0 1,0 -0.84,0M409.0,418.1a0.42,0.42 0 1,0 0.84,0a0.42,0.42 0 1,0 -0.84,0M409.4,404.3a0.42,0.42 0 1,0 0.84,0a0.42,0.42 0 1,0 -0.84,0M412.9,412.0a0.42,0.42 0 1,0 0.84,0a0.42,0.42 0 1,0 -0.84,0M412.2,413.0a0.42,0.42 0 1,0 0.84,0a0.42,0.42 0 1,0 -0.84,0M410.4,418.8a0.42,0.42 0 1,0 0.84,0a0.42,0.42 0 1,0 -0.84,0M418.2,405.2a0.42,0.42 0 1,0 0.84,0a0.42,0.42 0 1,0 -0.84,0M410.7,416.9a0.42,0.42 0 1,0 0.84,0a0.42,0.42 0 1,0 -0.84,0M407.0,420.6a0.42,0.42 0 1,0 0.84,0a0.42,0.42 0 1,0 -0.84,0M408.6,397.9a0.42,0.42 0 1,0 0.84,0a0.42,0.42 0 1,0 -0.84,0M414.9,418.7a0.42,0.42 0 1,0 0.84,0a0.42,0.42 0 1,0 -0.84,0M414.8,417.5a0.42,0.42 0 1,0 0.84,0a0.42,0.42 0 1,0 -0.84,0M408.6,388.6a0.42,0.42 0 1,0 0.84,0a0.42,0.42 0 1,0 -0.84,0M412.3,415.5a0.42,0.42 0 1,0 0.84,0a0.42,0.42 0 1,0 -0.84,0M411.4,387.8a0.42,0.42 0 1,0 0.84,0a0.42,0.42 0 1,0 -0.84,0M413.0,418.4a0.42,0.42 0 1,0 0.84,0a0.42,0.42 0 1,0 -0.84,0M407.3,386.6a0.42,0.42 0 1,0 0.84,0a0.42,0.42 0 1,0 -0.84,0M414.1,401.8a0.42,0.42 0 1,0 0.84,0a0.42,0.42 0 1,0 -0.84,0M411.5,391.0a0.42,0.42 0 1,0 0.84,0a0.42,0.42 0 1,0 -0.84,0M406.8,401.8a0.42,0.42 0 1,0 0.84,0a0.42,0.42 0 1,0 -0.84,0M414.0,387.5a0.42,0.42 0 1,0 0.84,0a0.42,0.42 0 1,0 -0.84,0M405.9,405.7a0.42,0.42 0 1,0 0.84,0a0.42,0.42 0 1,0 -0.84,0M414.6,413.1a0.42,0.42 0 1,0 0.84,0a0.42,0.42 0 1,0 -0.84,0M409.1,395.0a0.42,0.42 0 1,0 0.84,0a0.42,0.42 0 1,0 -0.84,0M411.1,413.5a0.42,0.42 0 1,0 0.84,0a0.42,0.42 0 1,0 -0.84,0M411.6,404.8a0.42,0.42 0 1,0 0.84,0a0.42,0.42 0 1,0 -0.84,0M414.4,391.8a0.42,0.42 0 1,0 0.84,0a0.42,0.42 0 1,0 -0.84,0M417.6,385.2a0.42,0.42 0 1,0 0.84,0a0.42,0.42 0 1,0 -0.84,0M411.4,408.4a0.42,0.42 0 1,0 0.84,0a0.42,0.42 0 1,0 -0.84,0M410.5,389.1a0.42,0.42 0 1,0 0.84,0a0.42,0.42 0 1,0 -0.84,0M416.1,406.7a0.42,0.42 0 1,0 0.84,0a0.42,0.42 0 1,0 -0.84,0M412.2,408.4a0.42,0.42 0 1,0 0.84,0a0.42,0.42 0 1,0 -0.84,0M410.4,390.5a0.42,0.42 0 1,0 0.84,0a0.42,0.42 0 1,0 -0.84,0M407.3,399.7a0.42,0.42 0 1,0 0.84,0a0.42,0.42 0 1,0 -0.84,0M406.9,407.9a0.42,0.42 0 1,0 0.84,0a0.42,0.42 0 1,0 -0.84,0M408.5,402.0a0.42,0.42 0 1,0 0.84,0a0.42,0.42 0 1,0 -0.84,0M413.9,393.2a0.42,0.42 0 1,0 0.84,0a0.42,0.42 0 1,0 -0.84,0M406.7,390.8a0.42,0.42 0 1,0 0.84,0a0.42,0.42 0 1,0 -0.84,0M417.3,391.8a0.42,0.42 0 1,0 0.84,0a0.42,0.42 0 1,0 -0.84,0M411.8,405.4a0.42,0.42 0 1,0 0.84,0a0.42,0.42 0 1,0 -0.84,0M407.5,418.7a0.42,0.42 0 1,0 0.84,0a0.42,0.42 0 1,0 -0.84,0M410.9,408.3a0.42,0.42 0 1,0 0.84,0a0.42,0.42 0 1,0 -0.84,0M413.0,390.9a0.42,0.42 0 1,0 0.84,0a0.42,0.42 0 1,0 -0.84,0M414.2,398.1a0.42,0.42 0 1,0 0.84,0a0.42,0.42 0 1,0 -0.84,0M411.3,407.2a0.42,0.42 0 1,0 0.84,0a0.42,0.42 0 1,0 -0.84,0M407.5,415.9a0.42,0.42 0 1,0 0.84,0a0.42,0.42 0 1,0 -0.84,0M413.7,410.0a0.42,0.42 0 1,0 0.84,0a0.42,0.42 0 1,0 -0.84,0M411.6,407.9a0.42,0.42 0 1,0 0.84,0a0.42,0.42 0 1,0 -0.84,0M420.1,398.8a0.42,0.42 0 1,0 0.84,0a0.42,0.42 0 1,0 -0.84,0M413.0,408.9a0.42,0.42 0 1,0 0.84,0a0.42,0.42 0 1,0 -0.84,0M412.0,388.4a0.42,0.42 0 1,0 0.84,0a0.42,0.42 0 1,0 -0.84,0M414.5,419.8a0.42,0.42 0 1,0 0.84,0a0.42,0.42 0 1,0 -0.84,0M412.6,410.9a0.42,0.42 0 1,0 0.84,0a0.42,0.42 0 1,0 -0.84,0M411.9,405.3a0.42,0.42 0 1,0 0.84,0a0.42,0.42 0 1,0 -0.84,0M408.6,409.9a0.42,0.42 0 1,0 0.84,0a0.42,0.42 0 1,0 -0.84,0M417.6,400.6a0.42,0.42 0 1,0 0.84,0a0.42,0.42 0 1,0 -0.84,0M410.0,416.3a0.42,0.42 0 1,0 0.84,0a0.42,0.42 0 1,0 -0.84,0M405.2,397.5a0.42,0.42 0 1,0 0.84,0a0.42,0.42 0 1,0 -0.84,0M411.9,398.3a0.42,0.42 0 1,0 0.84,0a0.42,0.42 0 1,0 -0.84,0M409.6,420.7a0.42,0.42 0 1,0 0.84,0a0.42,0.42 0 1,0 -0.84,0M411.3,404.1a0.42,0.42 0 1,0 0.84,0a0.42,0.42 0 1,0 -0.84,0M408.8,400.2a0.42,0.42 0 1,0 0.84,0a0.42,0.42 0 1,0 -0.84,0M410.7,400.8a0.42,0.42 0 1,0 0.84,0a0.42,0.42 0 1,0 -0.84,0M408.3,399.5a0.42,0.42 0 1,0 0.84,0a0.42,0.42 0 1,0 -0.84,0M415.3,393.0a0.42,0.42 0 1,0 0.84,0a0.42,0.42 0 1,0 -0.84,0M408.1,398.7a0.42,0.42 0 1,0 0.84,0a0.42,0.42 0 1,0 -0.84,0M415.3,406.2a0.42,0.42 0 1,0 0.84,0a0.42,0.42 0 1,0 -0.84,0M408.9,407.3a0.42,0.42 0 1,0 0.84,0a0.42,0.42 0 1,0 -0.84,0M412.7,411.6a0.42,0.42 0 1,0 0.84,0a0.42,0.42 0 1,0 -0.84,0M415.0,400.3a0.42,0.42 0 1,0 0.84,0a0.42,0.42 0 1,0 -0.84,0M409.1,406.2a0.42,0.42 0 1,0 0.84,0a0.42,0.42 0 1,0 -0.84,0M413.2,392.1a0.42,0.42 0 1,0 0.84,0a0.42,0.42 0 1,0 -0.84,0M412.0,412.6a0.42,0.42 0 1,0 0.84,0a0.42,0.42 0 1,0 -0.84,0M410.7,403.4a0.42,0.42 0 1,0 0.84,0a0.42,0.42 0 1,0 -0.84,0M411.6,394.0a0.42,0.42 0 1,0 0.84,0a0.42,0.42 0 1,0 -0.84,0M413.7,390.0a0.42,0.42 0 1,0 0.84,0a0.42,0.42 0 1,0 -0.84,0M413.8,387.1a0.42,0.42 0 1,0 0.84,0a0.42,0.42 0 1,0 -0.84,0M411.5,408.4a0.42,0.42 0 1,0 0.84,0a0.42,0.42 0 1,0 -0.84,0M413.9,392.6a0.42,0.42 0 1,0 0.84,0a0.42,0.42 0 1,0 -0.84,0M411.2,405.6a0.42,0.42 0 1,0 0.84,0a0.42,0.42 0 1,0 -0.84,0M410.2,405.2a0.42,0.42 0 1,0 0.84,0a0.42,0.42 0 1,0 -0.84,0M414.3,420.9a0.42,0.42 0 1,0 0.84,0a0.42,0.42 0 1,0 -0.84,0M409.7,410.2a0.42,0.42 0 1,0 0.84,0a0.42,0.42 0 1,0 -0.84,0M413.4,405.1a0.42,0.42 0 1,0 0.84,0a0.42,0.42 0 1,0 -0.84,0M413.7,407.5a0.42,0.42 0 1,0 0.84,0a0.42,0.42 0 1,0 -0.84,0M409.5,402.9a0.42,0.42 0 1,0 0.84,0a0.42,0.42 0 1,0 -0.84,0M409.0,390.0a0.42,0.42 0 1,0 0.84,0a0.42,0.42 0 1,0 -0.84,0M409.6,388.6a0.42,0.42 0 1,0 0.84,0a0.42,0.42 0 1,0 -0.84,0M402.4,402.8a0.42,0.42 0 1,0 0.84,0a0.42,0.42 0 1,0 -0.84,0M418.5,402.5a0.42,0.42 0 1,0 0.84,0a0.42,0.42 0 1,0 -0.84,0M407.0,397.1a0.42,0.42 0 1,0 0.84,0a0.42,0.42 0 1,0 -0.84,0M413.1,398.4a0.42,0.42 0 1,0 0.84,0a0.42,0.42 0 1,0 -0.84,0M409.7,401.7a0.42,0.42 0 1,0 0.84,0a0.42,0.42 0 1,0 -0.84,0M414.7,406.3a0.42,0.42 0 1,0 0.84,0a0.42,0.42 0 1,0 -0.84,0M413.9,407.1a0.42,0.42 0 1,0 0.84,0a0.42,0.42 0 1,0 -0.84,0M410.6,420.7a0.42,0.42 0 1,0 0.84,0a0.42,0.42 0 1,0 -0.84,0M411.3,414.1a0.42,0.42 0 1,0 0.84,0a0.42,0.42 0 1,0 -0.84,0M406.2,391.3a0.42,0.42 0 1,0 0.84,0a0.42,0.42 0 1,0 -0.84,0M409.9,397.1a0.42,0.42 0 1,0 0.84,0a0.42,0.42 0 1,0 -0.84,0M409.7,388.7a0.42,0.42 0 1,0 0.84,0a0.42,0.42 0 1,0 -0.84,0M412.8,415.9a0.42,0.42 0 1,0 0.84,0a0.42,0.42 0 1,0 -0.84,0M405.4,400.1a0.42,0.42 0 1,0 0.84,0a0.42,0.42 0 1,0 -0.84,0M416.0,406.8a0.42,0.42 0 1,0 0.84,0a0.42,0.42 0 1,0 -0.84,0M409.1,413.7a0.42,0.42 0 1,0 0.84,0a0.42,0.42 0 1,0 -0.84,0M411.7,407.0a0.42,0.42 0 1,0 0.84,0a0.42,0.42 0 1,0 -0.84,0M411.2,408.0a0.42,0.42 0 1,0 0.84,0a0.42,0.42 0 1,0 -0.84,0M408.4,411.3a0.42,0.42 0 1,0 0.84,0a0.42,0.42 0 1,0 -0.84,0M415.5,387.4a0.42,0.42 0 1,0 0.84,0a0.42,0.42 0 1,0 -0.84,0M411.3,397.9a0.42,0.42 0 1,0 0.84,0a0.42,0.42 0 1,0 -0.84,0M411.8,388.1a0.42,0.42 0 1,0 0.84,0a0.42,0.42 0 1,0 -0.84,0" fill="#a8161f" opacity="1.0"/>
<path d="M416.8,407.1a0.42,0.42 0 1,0 0.84,0a0.42,0.42 0 1,0 -0.84,0M412.6,380.6a0.42,0.42 0 1,0 0.84,0a0.42,0.42 0 1,0 -0.84,0M415.7,412.6a0.42,0.42 0 1,0 0.84,0a0.42,0.42 0 1,0 -0.84,0M412.0,385.2a0.42,0.42 0 1,0 0.84,0a0.42,0.42 0 1,0 -0.84,0M416.8,413.2a0.42,0.42 0 1,0 0.84,0a0.42,0.42 0 1,0 -0.84,0M408.4,393.8a0.42,0.42 0 1,0 0.84,0a0.42,0.42 0 1,0 -0.84,0M410.6,373.0a0.42,0.42 0 1,0 0.84,0a0.42,0.42 0 1,0 -0.84,0M422.8,378.3a0.42,0.42 0 1,0 0.84,0a0.42,0.42 0 1,0 -0.84,0M416.7,409.2a0.42,0.42 0 1,0 0.84,0a0.42,0.42 0 1,0 -0.84,0M417.5,384.0a0.42,0.42 0 1,0 0.84,0a0.42,0.42 0 1,0 -0.84,0M404.0,372.2a0.42,0.42 0 1,0 0.84,0a0.42,0.42 0 1,0 -0.84,0M407.8,409.4a0.42,0.42 0 1,0 0.84,0a0.42,0.42 0 1,0 -0.84,0M413.3,396.2a0.42,0.42 0 1,0 0.84,0a0.42,0.42 0 1,0 -0.84,0M413.5,391.0a0.42,0.42 0 1,0 0.84,0a0.42,0.42 0 1,0 -0.84,0M407.0,372.7a0.42,0.42 0 1,0 0.84,0a0.42,0.42 0 1,0 -0.84,0M416.9,401.6a0.42,0.42 0 1,0 0.84,0a0.42,0.42 0 1,0 -0.84,0M419.9,395.2a0.42,0.42 0 1,0 0.84,0a0.42,0.42 0 1,0 -0.84,0M422.1,382.5a0.42,0.42 0 1,0 0.84,0a0.42,0.42 0 1,0 -0.84,0M407.5,375.5a0.42,0.42 0 1,0 0.84,0a0.42,0.42 0 1,0 -0.84,0M411.8,409.3a0.42,0.42 0 1,0 0.84,0a0.42,0.42 0 1,0 -0.84,0M403.9,409.2a0.42,0.42 0 1,0 0.84,0a0.42,0.42 0 1,0 -0.84,0M416.7,412.5a0.42,0.42 0 1,0 0.84,0a0.42,0.42 0 1,0 -0.84,0M416.6,399.7a0.42,0.42 0 1,0 0.84,0a0.42,0.42 0 1,0 -0.84,0M411.3,400.0a0.42,0.42 0 1,0 0.84,0a0.42,0.42 0 1,0 -0.84,0M406.5,409.4a0.42,0.42 0 1,0 0.84,0a0.42,0.42 0 1,0 -0.84,0M407.0,403.9a0.42,0.42 0 1,0 0.84,0a0.42,0.42 0 1,0 -0.84,0M407.6,378.9a0.42,0.42 0 1,0 0.84,0a0.42,0.42 0 1,0 -0.84,0M408.8,385.3a0.42,0.42 0 1,0 0.84,0a0.42,0.42 0 1,0 -0.84,0M417.5,401.7a0.42,0.42 0 1,0 0.84,0a0.42,0.42 0 1,0 -0.84,0M417.2,383.0a0.42,0.42 0 1,0 0.84,0a0.42,0.42 0 1,0 -0.84,0M405.4,379.6a0.42,0.42 0 1,0 0.84,0a0.42,0.42 0 1,0 -0.84,0M419.5,398.3a0.42,0.42 0 1,0 0.84,0a0.42,0.42 0 1,0 -0.84,0M407.0,386.0a0.42,0.42 0 1,0 0.84,0a0.42,0.42 0 1,0 -0.84,0M412.1,418.7a0.42,0.42 0 1,0 0.84,0a0.42,0.42 0 1,0 -0.84,0M407.1,375.8a0.42,0.42 0 1,0 0.84,0a0.42,0.42 0 1,0 -0.84,0M410.4,373.9a0.42,0.42 0 1,0 0.84,0a0.42,0.42 0 1,0 -0.84,0M408.7,405.5a0.42,0.42 0 1,0 0.84,0a0.42,0.42 0 1,0 -0.84,0M413.3,406.7a0.42,0.42 0 1,0 0.84,0a0.42,0.42 0 1,0 -0.84,0M417.1,387.2a0.42,0.42 0 1,0 0.84,0a0.42,0.42 0 1,0 -0.84,0M414.4,403.8a0.42,0.42 0 1,0 0.84,0a0.42,0.42 0 1,0 -0.84,0M403.5,373.9a0.42,0.42 0 1,0 0.84,0a0.42,0.42 0 1,0 -0.84,0M408.5,395.5a0.42,0.42 0 1,0 0.84,0a0.42,0.42 0 1,0 -0.84,0M412.2,374.0a0.42,0.42 0 1,0 0.84,0a0.42,0.42 0 1,0 -0.84,0M409.6,393.9a0.42,0.42 0 1,0 0.84,0a0.42,0.42 0 1,0 -0.84,0M412.7,413.6a0.42,0.42 0 1,0 0.84,0a0.42,0.42 0 1,0 -0.84,0M414.1,408.3a0.42,0.42 0 1,0 0.84,0a0.42,0.42 0 1,0 -0.84,0M407.7,408.0a0.42,0.42 0 1,0 0.84,0a0.42,0.42 0 1,0 -0.84,0M403.7,393.6a0.42,0.42 0 1,0 0.84,0a0.42,0.42 0 1,0 -0.84,0M413.6,418.3a0.42,0.42 0 1,0 0.84,0a0.42,0.42 0 1,0 -0.84,0M401.1,414.8a0.42,0.42 0 1,0 0.84,0a0.42,0.42 0 1,0 -0.84,0M415.9,418.3a0.42,0.42 0 1,0 0.84,0a0.42,0.42 0 1,0 -0.84,0M405.9,419.8a0.42,0.42 0 1,0 0.84,0a0.42,0.42 0 1,0 -0.84,0M416.3,376.6a0.42,0.42 0 1,0 0.84,0a0.42,0.42 0 1,0 -0.84,0M410.1,377.2a0.42,0.42 0 1,0 0.84,0a0.42,0.42 0 1,0 -0.84,0M413.7,400.0a0.42,0.42 0 1,0 0.84,0a0.42,0.42 0 1,0 -0.84,0M413.5,400.4a0.42,0.42 0 1,0 0.84,0a0.42,0.42 0 1,0 -0.84,0M414.7,399.2a0.42,0.42 0 1,0 0.84,0a0.42,0.42 0 1,0 -0.84,0M411.5,378.6a0.42,0.42 0 1,0 0.84,0a0.42,0.42 0 1,0 -0.84,0M412.6,398.4a0.42,0.42 0 1,0 0.84,0a0.42,0.42 0 1,0 -0.84,0M414.8,388.8a0.42,0.42 0 1,0 0.84,0a0.42,0.42 0 1,0 -0.84,0M413.5,418.3a0.42,0.42 0 1,0 0.84,0a0.42,0.42 0 1,0 -0.84,0M413.6,410.3a0.42,0.42 0 1,0 0.84,0a0.42,0.42 0 1,0 -0.84,0M402.2,377.1a0.42,0.42 0 1,0 0.84,0a0.42,0.42 0 1,0 -0.84,0M411.3,417.2a0.42,0.42 0 1,0 0.84,0a0.42,0.42 0 1,0 -0.84,0M405.2,374.9a0.42,0.42 0 1,0 0.84,0a0.42,0.42 0 1,0 -0.84,0M413.8,392.8a0.42,0.42 0 1,0 0.84,0a0.42,0.42 0 1,0 -0.84,0M414.9,388.6a0.42,0.42 0 1,0 0.84,0a0.42,0.42 0 1,0 -0.84,0M411.4,417.9a0.42,0.42 0 1,0 0.84,0a0.42,0.42 0 1,0 -0.84,0M421.1,418.0a0.42,0.42 0 1,0 0.84,0a0.42,0.42 0 1,0 -0.84,0M415.2,393.9a0.42,0.42 0 1,0 0.84,0a0.42,0.42 0 1,0 -0.84,0M414.0,409.8a0.42,0.42 0 1,0 0.84,0a0.42,0.42 0 1,0 -0.84,0M413.3,378.1a0.42,0.42 0 1,0 0.84,0a0.42,0.42 0 1,0 -0.84,0M403.1,399.4a0.42,0.42 0 1,0 0.84,0a0.42,0.42 0 1,0 -0.84,0M419.8,412.7a0.42,0.42 0 1,0 0.84,0a0.42,0.42 0 1,0 -0.84,0M415.0,387.4a0.42,0.42 0 1,0 0.84,0a0.42,0.42 0 1,0 -0.84,0M411.2,415.0a0.42,0.42 0 1,0 0.84,0a0.42,0.42 0 1,0 -0.84,0M413.9,388.7a0.42,0.42 0 1,0 0.84,0a0.42,0.42 0 1,0 -0.84,0M411.7,379.7a0.42,0.42 0 1,0 0.84,0a0.42,0.42 0 1,0 -0.84,0M417.4,420.5a0.42,0.42 0 1,0 0.84,0a0.42,0.42 0 1,0 -0.84,0M418.3,391.5a0.42,0.42 0 1,0 0.84,0a0.42,0.42 0 1,0 -0.84,0M410.1,395.8a0.42,0.42 0 1,0 0.84,0a0.42,0.42 0 1,0 -0.84,0M413.8,382.8a0.42,0.42 0 1,0 0.84,0a0.42,0.42 0 1,0 -0.84,0M412.1,405.1a0.42,0.42 0 1,0 0.84,0a0.42,0.42 0 1,0 -0.84,0M410.3,376.7a0.42,0.42 0 1,0 0.84,0a0.42,0.42 0 1,0 -0.84,0M418.0,393.0a0.42,0.42 0 1,0 0.84,0a0.42,0.42 0 1,0 -0.84,0M419.6,401.2a0.42,0.42 0 1,0 0.84,0a0.42,0.42 0 1,0 -0.84,0M409.4,413.7a0.42,0.42 0 1,0 0.84,0a0.42,0.42 0 1,0 -0.84,0M416.1,419.2a0.42,0.42 0 1,0 0.84,0a0.42,0.42 0 1,0 -0.84,0M419.6,390.2a0.42,0.42 0 1,0 0.84,0a0.42,0.42 0 1,0 -0.84,0" fill="#e0a0a0" opacity="0.8"/>
</svg></body></html>
